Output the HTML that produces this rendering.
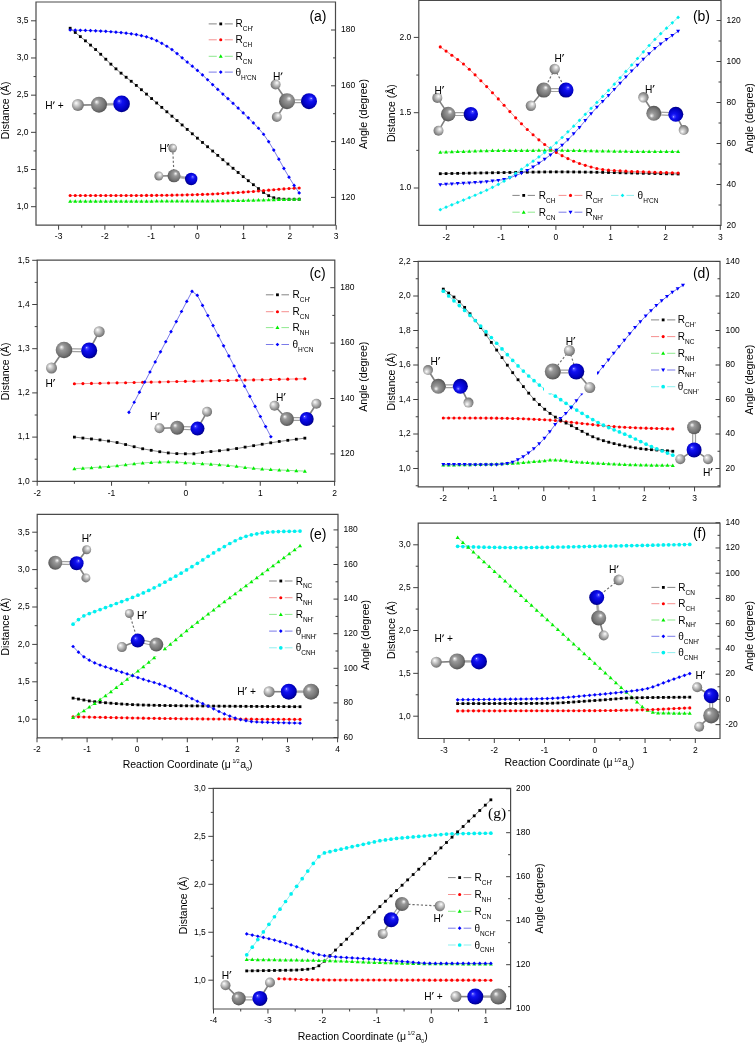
<!DOCTYPE html>
<html><head><meta charset="utf-8"><style>html,body{margin:0;padding:0;background:#fff;} svg{display:block;will-change:transform;}</style></head>
<body><svg width="756" height="1044" viewBox="0 0 756 1044" font-family='"Liberation Sans", sans-serif' fill="#000">
<defs><radialGradient id="gCul" cx="0.452" cy="0.446" r="0.6" fx="0.34" fy="0.32"><stop offset="0" stop-color="#ffffff"/><stop offset="0.1" stop-color="#d8d8d8"/><stop offset="0.28" stop-color="#9a9a9a"/><stop offset="0.72" stop-color="#747474"/><stop offset="1" stop-color="#4c4c4c"/></radialGradient><radialGradient id="gCur" cx="0.542" cy="0.446" r="0.6" fx="0.64" fy="0.32"><stop offset="0" stop-color="#ffffff"/><stop offset="0.1" stop-color="#d8d8d8"/><stop offset="0.28" stop-color="#9a9a9a"/><stop offset="0.72" stop-color="#747474"/><stop offset="1" stop-color="#4c4c4c"/></radialGradient><radialGradient id="gCll" cx="0.452" cy="0.554" r="0.6" fx="0.34" fy="0.68"><stop offset="0" stop-color="#ffffff"/><stop offset="0.1" stop-color="#d8d8d8"/><stop offset="0.28" stop-color="#9a9a9a"/><stop offset="0.72" stop-color="#747474"/><stop offset="1" stop-color="#4c4c4c"/></radialGradient><radialGradient id="gClr" cx="0.542" cy="0.554" r="0.6" fx="0.64" fy="0.68"><stop offset="0" stop-color="#ffffff"/><stop offset="0.1" stop-color="#d8d8d8"/><stop offset="0.28" stop-color="#9a9a9a"/><stop offset="0.72" stop-color="#747474"/><stop offset="1" stop-color="#4c4c4c"/></radialGradient><radialGradient id="gNul" cx="0.452" cy="0.446" r="0.6" fx="0.34" fy="0.32"><stop offset="0" stop-color="#e0e0ff"/><stop offset="0.1" stop-color="#4848ff"/><stop offset="0.3" stop-color="#1010f0"/><stop offset="0.75" stop-color="#0000c0"/><stop offset="1" stop-color="#000070"/></radialGradient><radialGradient id="gNur" cx="0.542" cy="0.446" r="0.6" fx="0.64" fy="0.32"><stop offset="0" stop-color="#e0e0ff"/><stop offset="0.1" stop-color="#4848ff"/><stop offset="0.3" stop-color="#1010f0"/><stop offset="0.75" stop-color="#0000c0"/><stop offset="1" stop-color="#000070"/></radialGradient><radialGradient id="gNll" cx="0.452" cy="0.554" r="0.6" fx="0.34" fy="0.68"><stop offset="0" stop-color="#e0e0ff"/><stop offset="0.1" stop-color="#4848ff"/><stop offset="0.3" stop-color="#1010f0"/><stop offset="0.75" stop-color="#0000c0"/><stop offset="1" stop-color="#000070"/></radialGradient><radialGradient id="gNlr" cx="0.542" cy="0.554" r="0.6" fx="0.64" fy="0.68"><stop offset="0" stop-color="#e0e0ff"/><stop offset="0.1" stop-color="#4848ff"/><stop offset="0.3" stop-color="#1010f0"/><stop offset="0.75" stop-color="#0000c0"/><stop offset="1" stop-color="#000070"/></radialGradient><radialGradient id="gHul" cx="0.452" cy="0.446" r="0.6" fx="0.34" fy="0.32"><stop offset="0" stop-color="#ffffff"/><stop offset="0.15" stop-color="#e8e8e8"/><stop offset="0.5" stop-color="#b4b4b4"/><stop offset="1" stop-color="#666666"/></radialGradient><radialGradient id="gHur" cx="0.542" cy="0.446" r="0.6" fx="0.64" fy="0.32"><stop offset="0" stop-color="#ffffff"/><stop offset="0.15" stop-color="#e8e8e8"/><stop offset="0.5" stop-color="#b4b4b4"/><stop offset="1" stop-color="#666666"/></radialGradient><radialGradient id="gHll" cx="0.452" cy="0.554" r="0.6" fx="0.34" fy="0.68"><stop offset="0" stop-color="#ffffff"/><stop offset="0.15" stop-color="#e8e8e8"/><stop offset="0.5" stop-color="#b4b4b4"/><stop offset="1" stop-color="#666666"/></radialGradient><radialGradient id="gHlr" cx="0.542" cy="0.554" r="0.6" fx="0.64" fy="0.68"><stop offset="0" stop-color="#ffffff"/><stop offset="0.15" stop-color="#e8e8e8"/><stop offset="0.5" stop-color="#b4b4b4"/><stop offset="1" stop-color="#666666"/></radialGradient></defs>
<rect width="756" height="1044" fill="#fff"/>
<path d="M36 2H335.5V225.2H36Z" fill="none" stroke="#4a4a4a" stroke-width="1.2"/>
<path d="M58.59 225.2v4.5M104.86 225.2v4.5M151.13 225.2v4.5M197.40 225.2v4.5M243.67 225.2v4.5M289.94 225.2v4.5M336.21 225.2v4.5M81.72 225.2v2.5M128.00 225.2v2.5M174.27 225.2v2.5M220.53 225.2v2.5M266.81 225.2v2.5M313.08 225.2v2.5M36 206.70h-5M36 169.52h-5M36 132.34h-5M36 95.16h-5M36 57.98h-5M36 20.80h-5M36 188.11h-2.5M36 150.93h-2.5M36 113.75h-2.5M36 76.57h-2.5M36 39.39h-2.5M335.5 197.40h-4.5M335.5 141.60h-4.5M335.5 85.80h-4.5M335.5 30.00h-4.5M335.5 169.50h-2.5M335.5 113.70h-2.5M335.5 57.90h-2.5" fill="none" stroke="#404040" stroke-width="1.0"/>
<text x="58.59" y="239.40" font-size="8.5" text-anchor="middle" >-3</text>
<text x="104.86" y="239.40" font-size="8.5" text-anchor="middle" >-2</text>
<text x="151.13" y="239.40" font-size="8.5" text-anchor="middle" >-1</text>
<text x="197.40" y="239.40" font-size="8.5" text-anchor="middle" >0</text>
<text x="243.67" y="239.40" font-size="8.5" text-anchor="middle" >1</text>
<text x="289.94" y="239.40" font-size="8.5" text-anchor="middle" >2</text>
<text x="336.21" y="239.40" font-size="8.5" text-anchor="middle" >3</text>
<text x="28.50" y="209.00" font-size="8.5" text-anchor="end" >1,0</text>
<text x="28.50" y="171.82" font-size="8.5" text-anchor="end" >1,5</text>
<text x="28.50" y="134.64" font-size="8.5" text-anchor="end" >2,0</text>
<text x="28.50" y="97.46" font-size="8.5" text-anchor="end" >2,5</text>
<text x="28.50" y="60.28" font-size="8.5" text-anchor="end" >3,0</text>
<text x="28.50" y="23.10" font-size="8.5" text-anchor="end" >3,5</text>
<text x="341.00" y="199.70" font-size="8.5" text-anchor="start" >120</text>
<text x="341.00" y="143.90" font-size="8.5" text-anchor="start" >140</text>
<text x="341.00" y="88.10" font-size="8.5" text-anchor="start" >160</text>
<text x="341.00" y="32.30" font-size="8.5" text-anchor="start" >180</text>
<text transform="translate(8.5,110.3) rotate(-90)" font-size="10.5" text-anchor="middle">Distance (&#197;)</text>
<text transform="translate(367.2,114) rotate(-90)" font-size="10.6" text-anchor="middle">Angle (degree)</text>
<path d="M70.16 28.24L75.25 32.46L80.34 36.64L85.43 40.84L90.52 45.12L95.61 49.55L100.70 54.27L105.79 59.22L110.88 64.16L115.96 68.85L121.05 73.16L126.14 77.25L131.23 81.27L136.32 85.41L141.41 89.72L146.50 94.12L151.59 98.56L156.68 102.99L161.77 107.38L166.86 111.78L171.95 116.17L177.04 120.57L182.13 124.97L187.22 129.39L192.31 133.79L197.40 138.16L202.49 142.46L207.58 146.75L212.67 151.06L217.76 155.38L222.85 159.70L227.94 164.00L233.03 168.27L238.12 172.48L243.21 176.64L248.30 180.71L253.39 184.69L258.48 188.57L263.57 192.47L268.66 195.69L273.75 197.75L278.84 198.72L283.92 199.24L289.01 199.26L294.10 199.26L299.19 199.26" fill="none" stroke="#505050" stroke-width="0.7"/>
<rect x="68.76" y="26.84" width="2.80" height="2.80" fill="#000000"/>
<rect x="73.85" y="31.06" width="2.80" height="2.80" fill="#000000"/>
<rect x="78.94" y="35.24" width="2.80" height="2.80" fill="#000000"/>
<rect x="84.03" y="39.44" width="2.80" height="2.80" fill="#000000"/>
<rect x="89.12" y="43.72" width="2.80" height="2.80" fill="#000000"/>
<rect x="94.21" y="48.15" width="2.80" height="2.80" fill="#000000"/>
<rect x="99.30" y="52.87" width="2.80" height="2.80" fill="#000000"/>
<rect x="104.39" y="57.82" width="2.80" height="2.80" fill="#000000"/>
<rect x="109.48" y="62.76" width="2.80" height="2.80" fill="#000000"/>
<rect x="114.56" y="67.45" width="2.80" height="2.80" fill="#000000"/>
<rect x="119.65" y="71.76" width="2.80" height="2.80" fill="#000000"/>
<rect x="124.74" y="75.85" width="2.80" height="2.80" fill="#000000"/>
<rect x="129.83" y="79.87" width="2.80" height="2.80" fill="#000000"/>
<rect x="134.92" y="84.01" width="2.80" height="2.80" fill="#000000"/>
<rect x="140.01" y="88.32" width="2.80" height="2.80" fill="#000000"/>
<rect x="145.10" y="92.72" width="2.80" height="2.80" fill="#000000"/>
<rect x="150.19" y="97.16" width="2.80" height="2.80" fill="#000000"/>
<rect x="155.28" y="101.59" width="2.80" height="2.80" fill="#000000"/>
<rect x="160.37" y="105.98" width="2.80" height="2.80" fill="#000000"/>
<rect x="165.46" y="110.38" width="2.80" height="2.80" fill="#000000"/>
<rect x="170.55" y="114.77" width="2.80" height="2.80" fill="#000000"/>
<rect x="175.64" y="119.17" width="2.80" height="2.80" fill="#000000"/>
<rect x="180.73" y="123.57" width="2.80" height="2.80" fill="#000000"/>
<rect x="185.82" y="127.99" width="2.80" height="2.80" fill="#000000"/>
<rect x="190.91" y="132.39" width="2.80" height="2.80" fill="#000000"/>
<rect x="196.00" y="136.76" width="2.80" height="2.80" fill="#000000"/>
<rect x="201.09" y="141.06" width="2.80" height="2.80" fill="#000000"/>
<rect x="206.18" y="145.35" width="2.80" height="2.80" fill="#000000"/>
<rect x="211.27" y="149.66" width="2.80" height="2.80" fill="#000000"/>
<rect x="216.36" y="153.98" width="2.80" height="2.80" fill="#000000"/>
<rect x="221.45" y="158.30" width="2.80" height="2.80" fill="#000000"/>
<rect x="226.54" y="162.60" width="2.80" height="2.80" fill="#000000"/>
<rect x="231.63" y="166.87" width="2.80" height="2.80" fill="#000000"/>
<rect x="236.72" y="171.08" width="2.80" height="2.80" fill="#000000"/>
<rect x="241.81" y="175.24" width="2.80" height="2.80" fill="#000000"/>
<rect x="246.90" y="179.31" width="2.80" height="2.80" fill="#000000"/>
<rect x="251.99" y="183.29" width="2.80" height="2.80" fill="#000000"/>
<rect x="257.08" y="187.17" width="2.80" height="2.80" fill="#000000"/>
<rect x="262.17" y="191.07" width="2.80" height="2.80" fill="#000000"/>
<rect x="267.26" y="194.29" width="2.80" height="2.80" fill="#000000"/>
<rect x="272.35" y="196.35" width="2.80" height="2.80" fill="#000000"/>
<rect x="277.44" y="197.32" width="2.80" height="2.80" fill="#000000"/>
<rect x="282.52" y="197.84" width="2.80" height="2.80" fill="#000000"/>
<rect x="287.61" y="197.86" width="2.80" height="2.80" fill="#000000"/>
<rect x="292.70" y="197.86" width="2.80" height="2.80" fill="#000000"/>
<rect x="297.79" y="197.86" width="2.80" height="2.80" fill="#000000"/>
<path d="M70.16 195.55L75.25 195.54L80.34 195.53L85.43 195.52L90.52 195.52L95.61 195.51L100.70 195.50L105.79 195.50L110.88 195.49L115.96 195.48L121.05 195.47L126.14 195.46L131.23 195.45L136.32 195.44L141.41 195.43L146.50 195.41L151.59 195.40L156.68 195.36L161.77 195.31L166.86 195.25L171.95 195.16L177.04 195.07L182.13 194.96L187.22 194.84L192.31 194.71L197.40 194.58L202.49 194.42L207.58 194.22L212.67 193.99L217.76 193.72L222.85 193.43L227.94 193.12L233.03 192.81L238.12 192.48L243.21 192.15L248.30 191.81L253.39 191.43L258.48 191.01L263.57 190.58L268.66 190.14L273.75 189.71L278.84 189.29L283.92 188.90L289.01 188.54L294.10 188.24L299.19 187.96" fill="none" stroke="#f06060" stroke-width="0.7"/>
<circle cx="70.16" cy="195.55" r="1.55" fill="#ff0000"/>
<circle cx="75.25" cy="195.54" r="1.55" fill="#ff0000"/>
<circle cx="80.34" cy="195.53" r="1.55" fill="#ff0000"/>
<circle cx="85.43" cy="195.52" r="1.55" fill="#ff0000"/>
<circle cx="90.52" cy="195.52" r="1.55" fill="#ff0000"/>
<circle cx="95.61" cy="195.51" r="1.55" fill="#ff0000"/>
<circle cx="100.70" cy="195.50" r="1.55" fill="#ff0000"/>
<circle cx="105.79" cy="195.50" r="1.55" fill="#ff0000"/>
<circle cx="110.88" cy="195.49" r="1.55" fill="#ff0000"/>
<circle cx="115.96" cy="195.48" r="1.55" fill="#ff0000"/>
<circle cx="121.05" cy="195.47" r="1.55" fill="#ff0000"/>
<circle cx="126.14" cy="195.46" r="1.55" fill="#ff0000"/>
<circle cx="131.23" cy="195.45" r="1.55" fill="#ff0000"/>
<circle cx="136.32" cy="195.44" r="1.55" fill="#ff0000"/>
<circle cx="141.41" cy="195.43" r="1.55" fill="#ff0000"/>
<circle cx="146.50" cy="195.41" r="1.55" fill="#ff0000"/>
<circle cx="151.59" cy="195.40" r="1.55" fill="#ff0000"/>
<circle cx="156.68" cy="195.36" r="1.55" fill="#ff0000"/>
<circle cx="161.77" cy="195.31" r="1.55" fill="#ff0000"/>
<circle cx="166.86" cy="195.25" r="1.55" fill="#ff0000"/>
<circle cx="171.95" cy="195.16" r="1.55" fill="#ff0000"/>
<circle cx="177.04" cy="195.07" r="1.55" fill="#ff0000"/>
<circle cx="182.13" cy="194.96" r="1.55" fill="#ff0000"/>
<circle cx="187.22" cy="194.84" r="1.55" fill="#ff0000"/>
<circle cx="192.31" cy="194.71" r="1.55" fill="#ff0000"/>
<circle cx="197.40" cy="194.58" r="1.55" fill="#ff0000"/>
<circle cx="202.49" cy="194.42" r="1.55" fill="#ff0000"/>
<circle cx="207.58" cy="194.22" r="1.55" fill="#ff0000"/>
<circle cx="212.67" cy="193.99" r="1.55" fill="#ff0000"/>
<circle cx="217.76" cy="193.72" r="1.55" fill="#ff0000"/>
<circle cx="222.85" cy="193.43" r="1.55" fill="#ff0000"/>
<circle cx="227.94" cy="193.12" r="1.55" fill="#ff0000"/>
<circle cx="233.03" cy="192.81" r="1.55" fill="#ff0000"/>
<circle cx="238.12" cy="192.48" r="1.55" fill="#ff0000"/>
<circle cx="243.21" cy="192.15" r="1.55" fill="#ff0000"/>
<circle cx="248.30" cy="191.81" r="1.55" fill="#ff0000"/>
<circle cx="253.39" cy="191.43" r="1.55" fill="#ff0000"/>
<circle cx="258.48" cy="191.01" r="1.55" fill="#ff0000"/>
<circle cx="263.57" cy="190.58" r="1.55" fill="#ff0000"/>
<circle cx="268.66" cy="190.14" r="1.55" fill="#ff0000"/>
<circle cx="273.75" cy="189.71" r="1.55" fill="#ff0000"/>
<circle cx="278.84" cy="189.29" r="1.55" fill="#ff0000"/>
<circle cx="283.92" cy="188.90" r="1.55" fill="#ff0000"/>
<circle cx="289.01" cy="188.54" r="1.55" fill="#ff0000"/>
<circle cx="294.10" cy="188.24" r="1.55" fill="#ff0000"/>
<circle cx="299.19" cy="187.96" r="1.55" fill="#ff0000"/>
<path d="M70.16 201.20L75.25 201.19L80.34 201.19L85.43 201.18L90.52 201.18L95.61 201.17L100.70 201.17L105.79 201.17L110.88 201.16L115.96 201.16L121.05 201.15L126.14 201.15L131.23 201.15L136.32 201.14L141.41 201.14L146.50 201.13L151.59 201.13L156.68 201.12L161.77 201.11L166.86 201.11L171.95 201.10L177.04 201.09L182.13 201.08L187.22 201.07L192.31 201.06L197.40 201.05L202.49 201.02L207.58 200.98L212.67 200.92L217.76 200.85L222.85 200.76L227.94 200.67L233.03 200.58L238.12 200.48L243.21 200.39L248.30 200.29L253.39 200.19L258.48 200.08L263.57 199.97L268.66 199.85L273.75 199.73L278.84 199.60L283.92 199.48L289.01 199.35L294.10 199.23L299.19 199.12" fill="none" stroke="#60e060" stroke-width="0.7"/>
<path d="M70.16 199.20L72.16 202.70L68.16 202.70Z" fill="#00ee00"/>
<path d="M75.25 199.19L77.25 202.69L73.25 202.69Z" fill="#00ee00"/>
<path d="M80.34 199.19L82.34 202.69L78.34 202.69Z" fill="#00ee00"/>
<path d="M85.43 199.18L87.43 202.68L83.43 202.68Z" fill="#00ee00"/>
<path d="M90.52 199.18L92.52 202.68L88.52 202.68Z" fill="#00ee00"/>
<path d="M95.61 199.17L97.61 202.67L93.61 202.67Z" fill="#00ee00"/>
<path d="M100.70 199.17L102.70 202.67L98.70 202.67Z" fill="#00ee00"/>
<path d="M105.79 199.17L107.79 202.67L103.79 202.67Z" fill="#00ee00"/>
<path d="M110.88 199.16L112.88 202.66L108.88 202.66Z" fill="#00ee00"/>
<path d="M115.96 199.16L117.96 202.66L113.96 202.66Z" fill="#00ee00"/>
<path d="M121.05 199.15L123.05 202.65L119.05 202.65Z" fill="#00ee00"/>
<path d="M126.14 199.15L128.14 202.65L124.14 202.65Z" fill="#00ee00"/>
<path d="M131.23 199.15L133.23 202.65L129.23 202.65Z" fill="#00ee00"/>
<path d="M136.32 199.14L138.32 202.64L134.32 202.64Z" fill="#00ee00"/>
<path d="M141.41 199.14L143.41 202.64L139.41 202.64Z" fill="#00ee00"/>
<path d="M146.50 199.13L148.50 202.63L144.50 202.63Z" fill="#00ee00"/>
<path d="M151.59 199.13L153.59 202.63L149.59 202.63Z" fill="#00ee00"/>
<path d="M156.68 199.12L158.68 202.62L154.68 202.62Z" fill="#00ee00"/>
<path d="M161.77 199.11L163.77 202.61L159.77 202.61Z" fill="#00ee00"/>
<path d="M166.86 199.11L168.86 202.61L164.86 202.61Z" fill="#00ee00"/>
<path d="M171.95 199.10L173.95 202.60L169.95 202.60Z" fill="#00ee00"/>
<path d="M177.04 199.09L179.04 202.59L175.04 202.59Z" fill="#00ee00"/>
<path d="M182.13 199.08L184.13 202.58L180.13 202.58Z" fill="#00ee00"/>
<path d="M187.22 199.07L189.22 202.57L185.22 202.57Z" fill="#00ee00"/>
<path d="M192.31 199.06L194.31 202.56L190.31 202.56Z" fill="#00ee00"/>
<path d="M197.40 199.05L199.40 202.55L195.40 202.55Z" fill="#00ee00"/>
<path d="M202.49 199.02L204.49 202.52L200.49 202.52Z" fill="#00ee00"/>
<path d="M207.58 198.98L209.58 202.48L205.58 202.48Z" fill="#00ee00"/>
<path d="M212.67 198.92L214.67 202.42L210.67 202.42Z" fill="#00ee00"/>
<path d="M217.76 198.85L219.76 202.35L215.76 202.35Z" fill="#00ee00"/>
<path d="M222.85 198.76L224.85 202.26L220.85 202.26Z" fill="#00ee00"/>
<path d="M227.94 198.67L229.94 202.17L225.94 202.17Z" fill="#00ee00"/>
<path d="M233.03 198.58L235.03 202.08L231.03 202.08Z" fill="#00ee00"/>
<path d="M238.12 198.48L240.12 201.98L236.12 201.98Z" fill="#00ee00"/>
<path d="M243.21 198.39L245.21 201.89L241.21 201.89Z" fill="#00ee00"/>
<path d="M248.30 198.29L250.30 201.79L246.30 201.79Z" fill="#00ee00"/>
<path d="M253.39 198.19L255.39 201.69L251.39 201.69Z" fill="#00ee00"/>
<path d="M258.48 198.08L260.48 201.58L256.48 201.58Z" fill="#00ee00"/>
<path d="M263.57 197.97L265.57 201.47L261.57 201.47Z" fill="#00ee00"/>
<path d="M268.66 197.85L270.66 201.35L266.66 201.35Z" fill="#00ee00"/>
<path d="M273.75 197.73L275.75 201.23L271.75 201.23Z" fill="#00ee00"/>
<path d="M278.84 197.60L280.84 201.10L276.84 201.10Z" fill="#00ee00"/>
<path d="M283.92 197.48L285.92 200.98L281.92 200.98Z" fill="#00ee00"/>
<path d="M289.01 197.35L291.01 200.85L287.01 200.85Z" fill="#00ee00"/>
<path d="M294.10 197.23L296.10 200.73L292.10 200.73Z" fill="#00ee00"/>
<path d="M299.19 197.12L301.19 200.62L297.19 200.62Z" fill="#00ee00"/>
<path d="M70.16 30.00L75.25 30.16L80.34 30.30L85.43 30.45L90.52 30.62L95.61 30.82L100.70 31.07L105.79 31.37L110.88 31.73L115.96 32.13L121.05 32.60L126.14 33.13L131.23 33.79L136.32 34.62L141.41 35.64L146.50 36.87L151.59 38.50L156.68 40.72L161.77 43.37L166.86 46.27L171.95 49.61L177.04 53.58L182.13 57.85L187.22 62.09L192.31 66.22L197.40 70.45L202.49 74.89L207.58 79.74L212.67 84.67L217.76 89.42L222.85 94.10L227.94 98.70L233.03 103.31L238.12 108.04L243.21 112.88L248.30 117.82L253.39 122.97L258.48 128.24L263.57 134.23L268.66 141.71L273.75 150.06L278.84 159.20L283.92 168.40L289.01 177.19L294.10 185.44L299.19 192.94" fill="none" stroke="#4040e0" stroke-width="0.7"/>
<path d="M70.16 28.15L72.01 30.00L70.16 31.85L68.31 30.00Z" fill="#0000ff"/>
<path d="M75.25 28.31L77.10 30.16L75.25 32.01L73.40 30.16Z" fill="#0000ff"/>
<path d="M80.34 28.45L82.19 30.30L80.34 32.15L78.49 30.30Z" fill="#0000ff"/>
<path d="M85.43 28.60L87.28 30.45L85.43 32.30L83.58 30.45Z" fill="#0000ff"/>
<path d="M90.52 28.77L92.37 30.62L90.52 32.47L88.67 30.62Z" fill="#0000ff"/>
<path d="M95.61 28.97L97.46 30.82L95.61 32.67L93.76 30.82Z" fill="#0000ff"/>
<path d="M100.70 29.22L102.55 31.07L100.70 32.92L98.85 31.07Z" fill="#0000ff"/>
<path d="M105.79 29.52L107.64 31.37L105.79 33.22L103.94 31.37Z" fill="#0000ff"/>
<path d="M110.88 29.88L112.73 31.73L110.88 33.58L109.03 31.73Z" fill="#0000ff"/>
<path d="M115.96 30.28L117.81 32.13L115.96 33.98L114.11 32.13Z" fill="#0000ff"/>
<path d="M121.05 30.75L122.90 32.60L121.05 34.45L119.20 32.60Z" fill="#0000ff"/>
<path d="M126.14 31.28L127.99 33.13L126.14 34.98L124.29 33.13Z" fill="#0000ff"/>
<path d="M131.23 31.94L133.08 33.79L131.23 35.64L129.38 33.79Z" fill="#0000ff"/>
<path d="M136.32 32.77L138.17 34.62L136.32 36.47L134.47 34.62Z" fill="#0000ff"/>
<path d="M141.41 33.79L143.26 35.64L141.41 37.49L139.56 35.64Z" fill="#0000ff"/>
<path d="M146.50 35.02L148.35 36.87L146.50 38.72L144.65 36.87Z" fill="#0000ff"/>
<path d="M151.59 36.65L153.44 38.50L151.59 40.35L149.74 38.50Z" fill="#0000ff"/>
<path d="M156.68 38.87L158.53 40.72L156.68 42.57L154.83 40.72Z" fill="#0000ff"/>
<path d="M161.77 41.52L163.62 43.37L161.77 45.22L159.92 43.37Z" fill="#0000ff"/>
<path d="M166.86 44.42L168.71 46.27L166.86 48.12L165.01 46.27Z" fill="#0000ff"/>
<path d="M171.95 47.76L173.80 49.61L171.95 51.46L170.10 49.61Z" fill="#0000ff"/>
<path d="M177.04 51.73L178.89 53.58L177.04 55.43L175.19 53.58Z" fill="#0000ff"/>
<path d="M182.13 56.00L183.98 57.85L182.13 59.70L180.28 57.85Z" fill="#0000ff"/>
<path d="M187.22 60.23L189.07 62.09L187.22 63.94L185.37 62.09Z" fill="#0000ff"/>
<path d="M192.31 64.37L194.16 66.22L192.31 68.07L190.46 66.22Z" fill="#0000ff"/>
<path d="M197.40 68.60L199.25 70.45L197.40 72.30L195.55 70.45Z" fill="#0000ff"/>
<path d="M202.49 73.04L204.34 74.89L202.49 76.74L200.64 74.89Z" fill="#0000ff"/>
<path d="M207.58 77.89L209.43 79.74L207.58 81.59L205.73 79.74Z" fill="#0000ff"/>
<path d="M212.67 82.82L214.52 84.67L212.67 86.52L210.82 84.67Z" fill="#0000ff"/>
<path d="M217.76 87.57L219.61 89.42L217.76 91.27L215.91 89.42Z" fill="#0000ff"/>
<path d="M222.85 92.25L224.70 94.10L222.85 95.95L221.00 94.10Z" fill="#0000ff"/>
<path d="M227.94 96.85L229.79 98.70L227.94 100.55L226.09 98.70Z" fill="#0000ff"/>
<path d="M233.03 101.46L234.88 103.31L233.03 105.16L231.18 103.31Z" fill="#0000ff"/>
<path d="M238.12 106.19L239.97 108.04L238.12 109.89L236.27 108.04Z" fill="#0000ff"/>
<path d="M243.21 111.03L245.06 112.88L243.21 114.73L241.36 112.88Z" fill="#0000ff"/>
<path d="M248.30 115.97L250.15 117.82L248.30 119.67L246.45 117.82Z" fill="#0000ff"/>
<path d="M253.39 121.12L255.24 122.97L253.39 124.82L251.54 122.97Z" fill="#0000ff"/>
<path d="M258.48 126.39L260.33 128.24L258.48 130.09L256.63 128.24Z" fill="#0000ff"/>
<path d="M263.57 132.38L265.42 134.23L263.57 136.08L261.72 134.23Z" fill="#0000ff"/>
<path d="M268.66 139.86L270.51 141.71L268.66 143.56L266.81 141.71Z" fill="#0000ff"/>
<path d="M273.75 148.21L275.60 150.06L273.75 151.91L271.90 150.06Z" fill="#0000ff"/>
<path d="M278.84 157.35L280.69 159.20L278.84 161.05L276.99 159.20Z" fill="#0000ff"/>
<path d="M283.92 166.55L285.77 168.40L283.92 170.25L282.07 168.40Z" fill="#0000ff"/>
<path d="M289.01 175.34L290.86 177.19L289.01 179.04L287.16 177.19Z" fill="#0000ff"/>
<path d="M294.10 183.59L295.95 185.44L294.10 187.29L292.25 185.44Z" fill="#0000ff"/>
<path d="M299.19 191.09L301.04 192.94L299.19 194.79L297.34 192.94Z" fill="#0000ff"/>
<path d="M208.7 23.9H216.75M224.75 23.9H232.8" stroke="#505050" stroke-width="0.7"/>
<rect x="219.35" y="22.50" width="2.80" height="2.80" fill="#000000"/>
<text x="235.5" y="27.4" font-size="10">R<tspan font-size="6.5" dy="3.9">CH'</tspan></text>
<path d="M208.7 39.8H216.75M224.75 39.8H232.8" stroke="#f06060" stroke-width="0.7"/>
<circle cx="220.75" cy="39.80" r="1.55" fill="#ff0000"/>
<text x="235.5" y="43.3" font-size="10">R<tspan font-size="6.5" dy="3.9">CH</tspan></text>
<path d="M208.7 56.3H216.75M224.75 56.3H232.8" stroke="#60e060" stroke-width="0.7"/>
<path d="M220.75 54.30L222.75 57.80L218.75 57.80Z" fill="#00ee00"/>
<text x="235.5" y="59.8" font-size="10">R<tspan font-size="6.5" dy="3.9">CN</tspan></text>
<path d="M208.7 72.1H216.75M224.75 72.1H232.8" stroke="#4040e0" stroke-width="0.7"/>
<path d="M220.75 70.25L222.60 72.10L220.75 73.95L218.90 72.10Z" fill="#0000ff"/>
<text x="235.5" y="75.6" font-size="10">&#952;<tspan font-size="6.5" dy="3.9">H'CN</tspan></text>
<text x="309.40" y="20.50" font-size="14" text-anchor="start" >(a)</text>
<path d="M77.9 105.1L99 104.7" stroke="#808080" stroke-width="1.6"/>
<path d="M99 104.7L121.6 103.9" stroke="#b8b8b8" stroke-width="2.8"/><path d="M99 104.7L121.6 103.9" stroke="#9a9a9a" stroke-width="0.8"/>
<circle cx="77.9" cy="105.1" r="6" fill="url(#gHul)"/>
<circle cx="99.0" cy="104.7" r="8" fill="url(#gCul)"/>
<circle cx="121.6" cy="103.9" r="8.3" fill="url(#gNul)"/>
<text x="45.20" y="109.30" font-size="10.2" text-anchor="start" >H</text>
<path d="M53.55 101.58L54.95 101.58L53.45 104.28L52.75 104.28Z" fill="#111"/>
<text x="57.80" y="109.30" font-size="10.2" text-anchor="start" >+</text>
<path d="M275.6 84.5L287 101.2" stroke="#808080" stroke-width="1.6"/>
<path d="M287.0 102.6L309.0 102.6M287.0 99.8L309.0 99.8" stroke="#a0a0a0" stroke-width="1.2"/>
<path d="M287 101.2L276.8 117" stroke="#808080" stroke-width="1.6"/>
<circle cx="275.6" cy="84.5" r="5" fill="url(#gHur)"/>
<circle cx="287.0" cy="101.2" r="8" fill="url(#gCur)"/>
<circle cx="309.0" cy="101.2" r="8" fill="url(#gNur)"/>
<circle cx="276.8" cy="117.0" r="5" fill="url(#gHur)"/>
<text x="273.00" y="80.30" font-size="10.2" text-anchor="start" >H</text>
<path d="M281.35 72.58L282.75 72.58L281.25 75.28L280.55 75.28Z" fill="#111"/>
<path d="M172.7 148.1L174 175.8" stroke="#6c6c6c" stroke-width="1.15" stroke-dasharray="2.2 2"/>
<path d="M158.8 176L174 175.8" stroke="#808080" stroke-width="1.6"/>
<path d="M174 175.8L191.2 179" stroke="#b8b8b8" stroke-width="2.8"/><path d="M174 175.8L191.2 179" stroke="#9a9a9a" stroke-width="0.8"/>
<circle cx="172.7" cy="148.1" r="4.3" fill="url(#gHur)"/>
<circle cx="174.0" cy="175.8" r="6.5" fill="url(#gCur)"/>
<circle cx="158.8" cy="176.0" r="4.5" fill="url(#gHur)"/>
<circle cx="191.2" cy="179.0" r="6.2" fill="url(#gNur)"/>
<text x="159.50" y="151.80" font-size="10.2" text-anchor="start" >H</text>
<path d="M167.85 144.08L169.25 144.08L167.75 146.78L167.05 146.78Z" fill="#111"/>
<path d="M418.8 0.5H721V225.4H418.8Z" fill="none" stroke="#4a4a4a" stroke-width="1.2"/>
<path d="M446.30 225.4v4.5M501.10 225.4v4.5M555.90 225.4v4.5M610.70 225.4v4.5M665.50 225.4v4.5M720.30 225.4v4.5M473.70 225.4v2.5M528.50 225.4v2.5M583.30 225.4v2.5M638.10 225.4v2.5M692.90 225.4v2.5M418.8 188.00h-5M418.8 112.70h-5M418.8 37.40h-5M418.8 150.35h-2.5M418.8 75.05h-2.5M721 225.50h-4.5M721 184.50h-4.5M721 143.50h-4.5M721 102.50h-4.5M721 61.50h-4.5M721 20.50h-4.5M721 205.00h-2.5M721 164.00h-2.5M721 123.00h-2.5M721 82.00h-2.5M721 41.00h-2.5" fill="none" stroke="#404040" stroke-width="1.0"/>
<text x="446.30" y="239.60" font-size="8.5" text-anchor="middle" >-2</text>
<text x="501.10" y="239.60" font-size="8.5" text-anchor="middle" >-1</text>
<text x="555.90" y="239.60" font-size="8.5" text-anchor="middle" >0</text>
<text x="610.70" y="239.60" font-size="8.5" text-anchor="middle" >1</text>
<text x="665.50" y="239.60" font-size="8.5" text-anchor="middle" >2</text>
<text x="720.30" y="239.60" font-size="8.5" text-anchor="middle" >3</text>
<text x="411.30" y="190.30" font-size="8.5" text-anchor="end" >1.0</text>
<text x="411.30" y="115.00" font-size="8.5" text-anchor="end" >1.5</text>
<text x="411.30" y="39.70" font-size="8.5" text-anchor="end" >2.0</text>
<text x="726.50" y="227.80" font-size="8.5" text-anchor="start" >20</text>
<text x="726.50" y="186.80" font-size="8.5" text-anchor="start" >40</text>
<text x="726.50" y="145.80" font-size="8.5" text-anchor="start" >60</text>
<text x="726.50" y="104.80" font-size="8.5" text-anchor="start" >80</text>
<text x="726.50" y="63.80" font-size="8.5" text-anchor="start" >100</text>
<text x="726.50" y="22.80" font-size="8.5" text-anchor="start" >120</text>
<text transform="translate(394.5,113.2) rotate(-90)" font-size="10.5" text-anchor="middle">Distance (&#197;)</text>
<text transform="translate(752.6,118.2) rotate(-90)" font-size="10.6" text-anchor="middle">Angle (degree)</text>
<path d="M440.27 173.69L446.07 173.59L451.87 173.49L457.67 173.38L463.48 173.28L469.28 173.17L475.08 173.06L480.88 172.96L486.68 172.85L492.48 172.75L498.28 172.65L504.08 172.55L509.88 172.46L515.68 172.37L521.48 172.28L527.28 172.20L533.08 172.12L538.89 172.04L544.69 171.96L550.49 171.91L556.29 171.89L562.09 171.90L567.89 171.92L573.69 171.97L579.49 172.03L585.29 172.10L591.09 172.19L596.89 172.28L602.69 172.39L608.49 172.50L614.30 172.62L620.10 172.74L625.90 172.87L631.70 173.00L637.50 173.14L643.30 173.27L649.10 173.40L654.90 173.53L660.70 173.66L666.50 173.78L672.30 173.89L678.10 173.99" fill="none" stroke="#505050" stroke-width="0.7"/>
<rect x="438.87" y="172.29" width="2.80" height="2.80" fill="#000000"/>
<rect x="444.67" y="172.19" width="2.80" height="2.80" fill="#000000"/>
<rect x="450.47" y="172.09" width="2.80" height="2.80" fill="#000000"/>
<rect x="456.27" y="171.98" width="2.80" height="2.80" fill="#000000"/>
<rect x="462.08" y="171.88" width="2.80" height="2.80" fill="#000000"/>
<rect x="467.88" y="171.77" width="2.80" height="2.80" fill="#000000"/>
<rect x="473.68" y="171.66" width="2.80" height="2.80" fill="#000000"/>
<rect x="479.48" y="171.56" width="2.80" height="2.80" fill="#000000"/>
<rect x="485.28" y="171.45" width="2.80" height="2.80" fill="#000000"/>
<rect x="491.08" y="171.35" width="2.80" height="2.80" fill="#000000"/>
<rect x="496.88" y="171.25" width="2.80" height="2.80" fill="#000000"/>
<rect x="502.68" y="171.15" width="2.80" height="2.80" fill="#000000"/>
<rect x="508.48" y="171.06" width="2.80" height="2.80" fill="#000000"/>
<rect x="514.28" y="170.97" width="2.80" height="2.80" fill="#000000"/>
<rect x="520.08" y="170.88" width="2.80" height="2.80" fill="#000000"/>
<rect x="525.88" y="170.80" width="2.80" height="2.80" fill="#000000"/>
<rect x="531.68" y="170.72" width="2.80" height="2.80" fill="#000000"/>
<rect x="537.49" y="170.64" width="2.80" height="2.80" fill="#000000"/>
<rect x="543.29" y="170.56" width="2.80" height="2.80" fill="#000000"/>
<rect x="549.09" y="170.51" width="2.80" height="2.80" fill="#000000"/>
<rect x="554.89" y="170.49" width="2.80" height="2.80" fill="#000000"/>
<rect x="560.69" y="170.50" width="2.80" height="2.80" fill="#000000"/>
<rect x="566.49" y="170.52" width="2.80" height="2.80" fill="#000000"/>
<rect x="572.29" y="170.57" width="2.80" height="2.80" fill="#000000"/>
<rect x="578.09" y="170.63" width="2.80" height="2.80" fill="#000000"/>
<rect x="583.89" y="170.70" width="2.80" height="2.80" fill="#000000"/>
<rect x="589.69" y="170.79" width="2.80" height="2.80" fill="#000000"/>
<rect x="595.49" y="170.88" width="2.80" height="2.80" fill="#000000"/>
<rect x="601.29" y="170.99" width="2.80" height="2.80" fill="#000000"/>
<rect x="607.09" y="171.10" width="2.80" height="2.80" fill="#000000"/>
<rect x="612.90" y="171.22" width="2.80" height="2.80" fill="#000000"/>
<rect x="618.70" y="171.34" width="2.80" height="2.80" fill="#000000"/>
<rect x="624.50" y="171.47" width="2.80" height="2.80" fill="#000000"/>
<rect x="630.30" y="171.60" width="2.80" height="2.80" fill="#000000"/>
<rect x="636.10" y="171.74" width="2.80" height="2.80" fill="#000000"/>
<rect x="641.90" y="171.87" width="2.80" height="2.80" fill="#000000"/>
<rect x="647.70" y="172.00" width="2.80" height="2.80" fill="#000000"/>
<rect x="653.50" y="172.13" width="2.80" height="2.80" fill="#000000"/>
<rect x="659.30" y="172.26" width="2.80" height="2.80" fill="#000000"/>
<rect x="665.10" y="172.38" width="2.80" height="2.80" fill="#000000"/>
<rect x="670.90" y="172.49" width="2.80" height="2.80" fill="#000000"/>
<rect x="676.70" y="172.59" width="2.80" height="2.80" fill="#000000"/>
<path d="M440.27 152.16L446.07 151.99L451.87 151.80L457.67 151.60L463.48 151.40L469.28 151.21L475.08 151.02L480.88 150.85L486.68 150.71L492.48 150.59L498.28 150.52L504.08 150.49L509.88 150.46L515.68 150.44L521.48 150.41L527.28 150.40L533.08 150.38L538.89 150.37L544.69 150.36L550.49 150.35L556.29 150.35L562.09 150.37L567.89 150.41L573.69 150.48L579.49 150.56L585.29 150.66L591.09 150.77L596.89 150.88L602.69 150.99L608.49 151.10L614.30 151.20L620.10 151.28L625.90 151.35L631.70 151.40L637.50 151.43L643.30 151.45L649.10 151.47L654.90 151.49L660.70 151.50L666.50 151.52L672.30 151.54L678.10 151.55" fill="none" stroke="#60e060" stroke-width="0.7"/>
<path d="M440.27 150.16L442.27 153.66L438.27 153.66Z" fill="#00ee00"/>
<path d="M446.07 149.99L448.07 153.49L444.07 153.49Z" fill="#00ee00"/>
<path d="M451.87 149.80L453.87 153.30L449.87 153.30Z" fill="#00ee00"/>
<path d="M457.67 149.60L459.67 153.10L455.67 153.10Z" fill="#00ee00"/>
<path d="M463.48 149.40L465.48 152.90L461.48 152.90Z" fill="#00ee00"/>
<path d="M469.28 149.21L471.28 152.71L467.28 152.71Z" fill="#00ee00"/>
<path d="M475.08 149.02L477.08 152.52L473.08 152.52Z" fill="#00ee00"/>
<path d="M480.88 148.85L482.88 152.35L478.88 152.35Z" fill="#00ee00"/>
<path d="M486.68 148.71L488.68 152.21L484.68 152.21Z" fill="#00ee00"/>
<path d="M492.48 148.59L494.48 152.09L490.48 152.09Z" fill="#00ee00"/>
<path d="M498.28 148.52L500.28 152.02L496.28 152.02Z" fill="#00ee00"/>
<path d="M504.08 148.49L506.08 151.99L502.08 151.99Z" fill="#00ee00"/>
<path d="M509.88 148.46L511.88 151.96L507.88 151.96Z" fill="#00ee00"/>
<path d="M515.68 148.44L517.68 151.94L513.68 151.94Z" fill="#00ee00"/>
<path d="M521.48 148.41L523.48 151.91L519.48 151.91Z" fill="#00ee00"/>
<path d="M527.28 148.40L529.28 151.90L525.28 151.90Z" fill="#00ee00"/>
<path d="M533.08 148.38L535.08 151.88L531.08 151.88Z" fill="#00ee00"/>
<path d="M538.89 148.37L540.89 151.87L536.89 151.87Z" fill="#00ee00"/>
<path d="M544.69 148.36L546.69 151.86L542.69 151.86Z" fill="#00ee00"/>
<path d="M550.49 148.35L552.49 151.85L548.49 151.85Z" fill="#00ee00"/>
<path d="M556.29 148.35L558.29 151.85L554.29 151.85Z" fill="#00ee00"/>
<path d="M562.09 148.37L564.09 151.87L560.09 151.87Z" fill="#00ee00"/>
<path d="M567.89 148.41L569.89 151.91L565.89 151.91Z" fill="#00ee00"/>
<path d="M573.69 148.48L575.69 151.98L571.69 151.98Z" fill="#00ee00"/>
<path d="M579.49 148.56L581.49 152.06L577.49 152.06Z" fill="#00ee00"/>
<path d="M585.29 148.66L587.29 152.16L583.29 152.16Z" fill="#00ee00"/>
<path d="M591.09 148.77L593.09 152.27L589.09 152.27Z" fill="#00ee00"/>
<path d="M596.89 148.88L598.89 152.38L594.89 152.38Z" fill="#00ee00"/>
<path d="M602.69 148.99L604.69 152.49L600.69 152.49Z" fill="#00ee00"/>
<path d="M608.49 149.10L610.49 152.60L606.49 152.60Z" fill="#00ee00"/>
<path d="M614.30 149.20L616.30 152.70L612.30 152.70Z" fill="#00ee00"/>
<path d="M620.10 149.28L622.10 152.78L618.10 152.78Z" fill="#00ee00"/>
<path d="M625.90 149.35L627.90 152.85L623.90 152.85Z" fill="#00ee00"/>
<path d="M631.70 149.40L633.70 152.90L629.70 152.90Z" fill="#00ee00"/>
<path d="M637.50 149.43L639.50 152.93L635.50 152.93Z" fill="#00ee00"/>
<path d="M643.30 149.45L645.30 152.95L641.30 152.95Z" fill="#00ee00"/>
<path d="M649.10 149.47L651.10 152.97L647.10 152.97Z" fill="#00ee00"/>
<path d="M654.90 149.49L656.90 152.99L652.90 152.99Z" fill="#00ee00"/>
<path d="M660.70 149.50L662.70 153.00L658.70 153.00Z" fill="#00ee00"/>
<path d="M666.50 149.52L668.50 153.02L664.50 153.02Z" fill="#00ee00"/>
<path d="M672.30 149.54L674.30 153.04L670.30 153.04Z" fill="#00ee00"/>
<path d="M678.10 149.55L680.10 153.05L676.10 153.05Z" fill="#00ee00"/>
<path d="M440.27 46.89L446.07 51.09L451.87 55.27L457.67 59.49L463.48 64.06L469.28 69.22L475.08 74.86L480.88 80.68L486.68 86.61L492.48 92.72L498.28 98.90L504.08 105.22L509.88 111.62L515.68 117.83L521.48 123.81L527.28 129.46L533.08 134.74L538.89 139.83L544.69 144.55L550.49 148.74L556.29 152.40L562.09 155.67L567.89 158.60L573.69 161.22L579.49 163.46L585.29 165.34L591.09 166.95L596.89 168.48L602.69 169.61L608.49 170.15L614.30 170.53L620.10 170.87L625.90 171.17L631.70 171.43L637.50 171.65L643.30 171.86L649.10 172.05L654.90 172.23L660.70 172.41L666.50 172.58L672.30 172.76L678.10 172.94" fill="none" stroke="#f06060" stroke-width="0.7"/>
<circle cx="440.27" cy="46.89" r="1.55" fill="#ff0000"/>
<circle cx="446.07" cy="51.09" r="1.55" fill="#ff0000"/>
<circle cx="451.87" cy="55.27" r="1.55" fill="#ff0000"/>
<circle cx="457.67" cy="59.49" r="1.55" fill="#ff0000"/>
<circle cx="463.48" cy="64.06" r="1.55" fill="#ff0000"/>
<circle cx="469.28" cy="69.22" r="1.55" fill="#ff0000"/>
<circle cx="475.08" cy="74.86" r="1.55" fill="#ff0000"/>
<circle cx="480.88" cy="80.68" r="1.55" fill="#ff0000"/>
<circle cx="486.68" cy="86.61" r="1.55" fill="#ff0000"/>
<circle cx="492.48" cy="92.72" r="1.55" fill="#ff0000"/>
<circle cx="498.28" cy="98.90" r="1.55" fill="#ff0000"/>
<circle cx="504.08" cy="105.22" r="1.55" fill="#ff0000"/>
<circle cx="509.88" cy="111.62" r="1.55" fill="#ff0000"/>
<circle cx="515.68" cy="117.83" r="1.55" fill="#ff0000"/>
<circle cx="521.48" cy="123.81" r="1.55" fill="#ff0000"/>
<circle cx="527.28" cy="129.46" r="1.55" fill="#ff0000"/>
<circle cx="533.08" cy="134.74" r="1.55" fill="#ff0000"/>
<circle cx="538.89" cy="139.83" r="1.55" fill="#ff0000"/>
<circle cx="544.69" cy="144.55" r="1.55" fill="#ff0000"/>
<circle cx="550.49" cy="148.74" r="1.55" fill="#ff0000"/>
<circle cx="556.29" cy="152.40" r="1.55" fill="#ff0000"/>
<circle cx="562.09" cy="155.67" r="1.55" fill="#ff0000"/>
<circle cx="567.89" cy="158.60" r="1.55" fill="#ff0000"/>
<circle cx="573.69" cy="161.22" r="1.55" fill="#ff0000"/>
<circle cx="579.49" cy="163.46" r="1.55" fill="#ff0000"/>
<circle cx="585.29" cy="165.34" r="1.55" fill="#ff0000"/>
<circle cx="591.09" cy="166.95" r="1.55" fill="#ff0000"/>
<circle cx="596.89" cy="168.48" r="1.55" fill="#ff0000"/>
<circle cx="602.69" cy="169.61" r="1.55" fill="#ff0000"/>
<circle cx="608.49" cy="170.15" r="1.55" fill="#ff0000"/>
<circle cx="614.30" cy="170.53" r="1.55" fill="#ff0000"/>
<circle cx="620.10" cy="170.87" r="1.55" fill="#ff0000"/>
<circle cx="625.90" cy="171.17" r="1.55" fill="#ff0000"/>
<circle cx="631.70" cy="171.43" r="1.55" fill="#ff0000"/>
<circle cx="637.50" cy="171.65" r="1.55" fill="#ff0000"/>
<circle cx="643.30" cy="171.86" r="1.55" fill="#ff0000"/>
<circle cx="649.10" cy="172.05" r="1.55" fill="#ff0000"/>
<circle cx="654.90" cy="172.23" r="1.55" fill="#ff0000"/>
<circle cx="660.70" cy="172.41" r="1.55" fill="#ff0000"/>
<circle cx="666.50" cy="172.58" r="1.55" fill="#ff0000"/>
<circle cx="672.30" cy="172.76" r="1.55" fill="#ff0000"/>
<circle cx="678.10" cy="172.94" r="1.55" fill="#ff0000"/>
<path d="M440.27 184.69L446.07 184.27L451.87 183.91L457.67 183.57L463.48 183.25L469.28 182.91L475.08 182.55L480.88 182.13L486.68 181.65L492.48 181.08L498.28 180.40L504.08 179.48L509.88 177.84L515.68 175.65L521.48 173.20L527.28 170.40L533.08 167.08L538.89 163.33L544.69 159.23L550.49 154.88L556.29 150.34L562.09 145.32L567.89 139.72L573.69 133.79L579.49 127.43L585.29 120.58L591.09 113.71L596.89 107.29L602.69 101.43L608.49 95.62L614.30 89.53L620.10 83.31L625.90 77.12L631.70 71.11L637.50 65.19L643.30 59.32L649.10 53.70L654.90 48.54L660.70 43.91L666.50 39.61L672.30 35.45L678.10 31.21" fill="none" stroke="#4040e0" stroke-width="0.7"/>
<path d="M440.27 186.69L442.27 183.19L438.27 183.19Z" fill="#0000ff"/>
<path d="M446.07 186.27L448.07 182.77L444.07 182.77Z" fill="#0000ff"/>
<path d="M451.87 185.91L453.87 182.41L449.87 182.41Z" fill="#0000ff"/>
<path d="M457.67 185.57L459.67 182.07L455.67 182.07Z" fill="#0000ff"/>
<path d="M463.48 185.25L465.48 181.75L461.48 181.75Z" fill="#0000ff"/>
<path d="M469.28 184.91L471.28 181.41L467.28 181.41Z" fill="#0000ff"/>
<path d="M475.08 184.55L477.08 181.05L473.08 181.05Z" fill="#0000ff"/>
<path d="M480.88 184.13L482.88 180.63L478.88 180.63Z" fill="#0000ff"/>
<path d="M486.68 183.65L488.68 180.15L484.68 180.15Z" fill="#0000ff"/>
<path d="M492.48 183.08L494.48 179.58L490.48 179.58Z" fill="#0000ff"/>
<path d="M498.28 182.40L500.28 178.90L496.28 178.90Z" fill="#0000ff"/>
<path d="M504.08 181.48L506.08 177.98L502.08 177.98Z" fill="#0000ff"/>
<path d="M509.88 179.84L511.88 176.34L507.88 176.34Z" fill="#0000ff"/>
<path d="M515.68 177.65L517.68 174.15L513.68 174.15Z" fill="#0000ff"/>
<path d="M521.48 175.20L523.48 171.70L519.48 171.70Z" fill="#0000ff"/>
<path d="M527.28 172.40L529.28 168.90L525.28 168.90Z" fill="#0000ff"/>
<path d="M533.08 169.08L535.08 165.58L531.08 165.58Z" fill="#0000ff"/>
<path d="M538.89 165.33L540.89 161.83L536.89 161.83Z" fill="#0000ff"/>
<path d="M544.69 161.23L546.69 157.73L542.69 157.73Z" fill="#0000ff"/>
<path d="M550.49 156.88L552.49 153.38L548.49 153.38Z" fill="#0000ff"/>
<path d="M556.29 152.34L558.29 148.84L554.29 148.84Z" fill="#0000ff"/>
<path d="M562.09 147.32L564.09 143.82L560.09 143.82Z" fill="#0000ff"/>
<path d="M567.89 141.72L569.89 138.22L565.89 138.22Z" fill="#0000ff"/>
<path d="M573.69 135.79L575.69 132.29L571.69 132.29Z" fill="#0000ff"/>
<path d="M579.49 129.43L581.49 125.93L577.49 125.93Z" fill="#0000ff"/>
<path d="M585.29 122.58L587.29 119.08L583.29 119.08Z" fill="#0000ff"/>
<path d="M591.09 115.71L593.09 112.21L589.09 112.21Z" fill="#0000ff"/>
<path d="M596.89 109.29L598.89 105.79L594.89 105.79Z" fill="#0000ff"/>
<path d="M602.69 103.43L604.69 99.93L600.69 99.93Z" fill="#0000ff"/>
<path d="M608.49 97.62L610.49 94.12L606.49 94.12Z" fill="#0000ff"/>
<path d="M614.30 91.53L616.30 88.03L612.30 88.03Z" fill="#0000ff"/>
<path d="M620.10 85.31L622.10 81.81L618.10 81.81Z" fill="#0000ff"/>
<path d="M625.90 79.12L627.90 75.62L623.90 75.62Z" fill="#0000ff"/>
<path d="M631.70 73.11L633.70 69.61L629.70 69.61Z" fill="#0000ff"/>
<path d="M637.50 67.19L639.50 63.69L635.50 63.69Z" fill="#0000ff"/>
<path d="M643.30 61.32L645.30 57.82L641.30 57.82Z" fill="#0000ff"/>
<path d="M649.10 55.70L651.10 52.20L647.10 52.20Z" fill="#0000ff"/>
<path d="M654.90 50.54L656.90 47.04L652.90 47.04Z" fill="#0000ff"/>
<path d="M660.70 45.91L662.70 42.41L658.70 42.41Z" fill="#0000ff"/>
<path d="M666.50 41.61L668.50 38.11L664.50 38.11Z" fill="#0000ff"/>
<path d="M672.30 37.45L674.30 33.95L670.30 33.95Z" fill="#0000ff"/>
<path d="M678.10 33.21L680.10 29.71L676.10 29.71Z" fill="#0000ff"/>
<path d="M440.27 209.72L446.07 207.21L451.87 204.79L457.67 202.42L463.48 200.07L469.28 197.70L475.08 195.27L480.88 192.77L486.68 190.14L492.48 187.36L498.28 184.38L504.08 181.14L509.88 177.40L515.68 173.35L521.48 169.26L527.28 165.22L533.08 161.15L538.89 156.97L544.69 152.60L550.49 147.95L556.29 142.91L562.09 137.50L567.89 131.87L573.69 126.16L579.49 120.34L585.29 114.36L591.09 108.36L596.89 102.42L602.69 96.46L608.49 90.39L614.30 84.15L620.10 77.80L625.90 71.40L631.70 65.00L637.50 58.51L643.30 51.95L649.10 45.52L654.90 39.40L660.70 33.69L666.50 28.22L672.30 22.85L678.10 17.42" fill="none" stroke="#60e8e8" stroke-width="0.7"/>
<path d="M440.27 207.87L442.12 209.72L440.27 211.56L438.42 209.72Z" fill="#00f0f0"/>
<path d="M446.07 205.36L447.92 207.21L446.07 209.06L444.22 207.21Z" fill="#00f0f0"/>
<path d="M451.87 202.94L453.72 204.79L451.87 206.64L450.02 204.79Z" fill="#00f0f0"/>
<path d="M457.67 200.57L459.52 202.42L457.67 204.27L455.82 202.42Z" fill="#00f0f0"/>
<path d="M463.48 198.22L465.33 200.07L463.48 201.92L461.63 200.07Z" fill="#00f0f0"/>
<path d="M469.28 195.85L471.13 197.70L469.28 199.55L467.43 197.70Z" fill="#00f0f0"/>
<path d="M475.08 193.42L476.93 195.27L475.08 197.12L473.23 195.27Z" fill="#00f0f0"/>
<path d="M480.88 190.92L482.73 192.77L480.88 194.62L479.03 192.77Z" fill="#00f0f0"/>
<path d="M486.68 188.29L488.53 190.14L486.68 191.99L484.83 190.14Z" fill="#00f0f0"/>
<path d="M492.48 185.51L494.33 187.36L492.48 189.21L490.63 187.36Z" fill="#00f0f0"/>
<path d="M498.28 182.53L500.13 184.38L498.28 186.23L496.43 184.38Z" fill="#00f0f0"/>
<path d="M504.08 179.29L505.93 181.14L504.08 182.99L502.23 181.14Z" fill="#00f0f0"/>
<path d="M509.88 175.55L511.73 177.40L509.88 179.25L508.03 177.40Z" fill="#00f0f0"/>
<path d="M515.68 171.50L517.53 173.35L515.68 175.20L513.83 173.35Z" fill="#00f0f0"/>
<path d="M521.48 167.41L523.33 169.26L521.48 171.11L519.63 169.26Z" fill="#00f0f0"/>
<path d="M527.28 163.37L529.13 165.22L527.28 167.07L525.43 165.22Z" fill="#00f0f0"/>
<path d="M533.08 159.30L534.93 161.15L533.08 163.00L531.23 161.15Z" fill="#00f0f0"/>
<path d="M538.89 155.12L540.74 156.97L538.89 158.82L537.04 156.97Z" fill="#00f0f0"/>
<path d="M544.69 150.75L546.54 152.60L544.69 154.45L542.84 152.60Z" fill="#00f0f0"/>
<path d="M550.49 146.10L552.34 147.95L550.49 149.80L548.64 147.95Z" fill="#00f0f0"/>
<path d="M556.29 141.06L558.14 142.91L556.29 144.76L554.44 142.91Z" fill="#00f0f0"/>
<path d="M562.09 135.65L563.94 137.50L562.09 139.35L560.24 137.50Z" fill="#00f0f0"/>
<path d="M567.89 130.02L569.74 131.87L567.89 133.72L566.04 131.87Z" fill="#00f0f0"/>
<path d="M573.69 124.31L575.54 126.16L573.69 128.01L571.84 126.16Z" fill="#00f0f0"/>
<path d="M579.49 118.49L581.34 120.34L579.49 122.19L577.64 120.34Z" fill="#00f0f0"/>
<path d="M585.29 112.51L587.14 114.36L585.29 116.21L583.44 114.36Z" fill="#00f0f0"/>
<path d="M591.09 106.51L592.94 108.36L591.09 110.21L589.24 108.36Z" fill="#00f0f0"/>
<path d="M596.89 100.57L598.74 102.42L596.89 104.27L595.04 102.42Z" fill="#00f0f0"/>
<path d="M602.69 94.61L604.54 96.46L602.69 98.31L600.84 96.46Z" fill="#00f0f0"/>
<path d="M608.49 88.54L610.34 90.39L608.49 92.24L606.64 90.39Z" fill="#00f0f0"/>
<path d="M614.30 82.30L616.15 84.15L614.30 86.00L612.45 84.15Z" fill="#00f0f0"/>
<path d="M620.10 75.95L621.95 77.80L620.10 79.65L618.25 77.80Z" fill="#00f0f0"/>
<path d="M625.90 69.55L627.75 71.40L625.90 73.25L624.05 71.40Z" fill="#00f0f0"/>
<path d="M631.70 63.15L633.55 65.00L631.70 66.85L629.85 65.00Z" fill="#00f0f0"/>
<path d="M637.50 56.66L639.35 58.51L637.50 60.36L635.65 58.51Z" fill="#00f0f0"/>
<path d="M643.30 50.10L645.15 51.95L643.30 53.80L641.45 51.95Z" fill="#00f0f0"/>
<path d="M649.10 43.67L650.95 45.52L649.10 47.37L647.25 45.52Z" fill="#00f0f0"/>
<path d="M654.90 37.55L656.75 39.40L654.90 41.25L653.05 39.40Z" fill="#00f0f0"/>
<path d="M660.70 31.84L662.55 33.69L660.70 35.54L658.85 33.69Z" fill="#00f0f0"/>
<path d="M666.50 26.37L668.35 28.22L666.50 30.07L664.65 28.22Z" fill="#00f0f0"/>
<path d="M672.30 21.00L674.15 22.85L672.30 24.70L670.45 22.85Z" fill="#00f0f0"/>
<path d="M678.10 15.57L679.95 17.42L678.10 19.27L676.25 17.42Z" fill="#00f0f0"/>
<path d="M512.4 195.4H519.7M527.7 195.4H535" stroke="#505050" stroke-width="0.7"/>
<rect x="522.30" y="194.00" width="2.80" height="2.80" fill="#000000"/>
<text x="538.8" y="198.9" font-size="10">R<tspan font-size="6.5" dy="3.9">CH</tspan></text>
<path d="M512.4 212.2H519.7M527.7 212.2H535" stroke="#60e060" stroke-width="0.7"/>
<path d="M523.70 210.20L525.70 213.70L521.70 213.70Z" fill="#00ee00"/>
<text x="538.8" y="215.7" font-size="10">R<tspan font-size="6.5" dy="3.9">CN</tspan></text>
<path d="M558.6 195.4H566.5M574.5 195.4H582.4" stroke="#f06060" stroke-width="0.7"/>
<circle cx="570.50" cy="195.40" r="1.55" fill="#ff0000"/>
<text x="585.4" y="198.9" font-size="10">R<tspan font-size="6.5" dy="3.9">CH'</tspan></text>
<path d="M558.6 212.2H566.5M574.5 212.2H582.4" stroke="#4040e0" stroke-width="0.7"/>
<path d="M570.50 214.20L572.50 210.70L568.50 210.70Z" fill="#0000ff"/>
<text x="585.4" y="215.7" font-size="10">R<tspan font-size="6.5" dy="3.9">NH'</tspan></text>
<path d="M611 195.4H618.5M626.5 195.4H634" stroke="#60e8e8" stroke-width="0.7"/>
<path d="M622.50 193.55L624.35 195.40L622.50 197.25L620.65 195.40Z" fill="#00f0f0"/>
<text x="637.6" y="198.9" font-size="10">&#952;<tspan font-size="6.5" dy="3.9">H'CN</tspan></text>
<text x="692.90" y="20.80" font-size="14" text-anchor="start" >(b)</text>
<path d="M437.3 97.9L448.2 114.1" stroke="#808080" stroke-width="1.6"/>
<path d="M448.2 115.5L470.8 115.5M448.2 112.7L470.8 112.7" stroke="#a0a0a0" stroke-width="1.2"/>
<path d="M448.2 114.1L438.5 130.8" stroke="#808080" stroke-width="1.6"/>
<circle cx="437.3" cy="97.9" r="5" fill="url(#gHur)"/>
<circle cx="448.2" cy="114.1" r="7.3" fill="url(#gCur)"/>
<circle cx="470.8" cy="114.1" r="7.2" fill="url(#gNur)"/>
<circle cx="438.5" cy="130.8" r="5" fill="url(#gHur)"/>
<text x="434.50" y="93.80" font-size="10.2" text-anchor="start" >H</text>
<path d="M442.85 86.08L444.25 86.08L442.75 88.78L442.05 88.78Z" fill="#111"/>
<path d="M554.7 69L543.8 90.1" stroke="#6c6c6c" stroke-width="1.15" stroke-dasharray="2.2 2"/>
<path d="M554.7 69L566 90.1" stroke="#6c6c6c" stroke-width="1.15" stroke-dasharray="2.2 2"/>
<path d="M543.8 91.5L566.0 91.5M543.8 88.7L566.0 88.7" stroke="#a0a0a0" stroke-width="1.2"/>
<path d="M543.8 90.1L530.9 105.7" stroke="#808080" stroke-width="1.6"/>
<circle cx="554.7" cy="69.0" r="5.2" fill="url(#gHur)"/>
<circle cx="543.8" cy="90.1" r="7.5" fill="url(#gCur)"/>
<circle cx="566.0" cy="90.1" r="7.5" fill="url(#gNur)"/>
<circle cx="530.9" cy="105.7" r="5.2" fill="url(#gHur)"/>
<text x="554.50" y="61.80" font-size="10.2" text-anchor="start" >H</text>
<path d="M562.85 54.08L564.25 54.08L562.75 56.78L562.05 56.78Z" fill="#111"/>
<path d="M643.4 97.2L653.8 113.3" stroke="#808080" stroke-width="1.6"/>
<path d="M653.7 114.7L675.7 115.7M653.9 111.9L675.9 112.9" stroke="#a0a0a0" stroke-width="1.2"/>
<path d="M675.8 114.3L683.7 130" stroke="#808080" stroke-width="1.6"/>
<circle cx="643.4" cy="97.2" r="5.2" fill="url(#gHll)"/>
<circle cx="653.8" cy="113.3" r="7.5" fill="url(#gCll)"/>
<circle cx="675.8" cy="114.3" r="7.5" fill="url(#gNll)"/>
<circle cx="683.7" cy="130.0" r="5" fill="url(#gHll)"/>
<text x="645.00" y="92.80" font-size="10.2" text-anchor="start" >H</text>
<path d="M653.35 85.08L654.75 85.08L653.25 87.78L652.55 87.78Z" fill="#111"/>
<path d="M37.2 260.2H334.8V481.3H37.2Z" fill="none" stroke="#4a4a4a" stroke-width="1.2"/>
<path d="M37.20 481.3v4.5M111.55 481.3v4.5M185.90 481.3v4.5M260.25 481.3v4.5M334.60 481.3v4.5M74.38 481.3v2.5M148.73 481.3v2.5M223.07 481.3v2.5M297.43 481.3v2.5M37.2 481.30h-5M37.2 437.10h-5M37.2 392.90h-5M37.2 348.70h-5M37.2 304.50h-5M37.2 260.30h-5M37.2 459.20h-2.5M37.2 415.00h-2.5M37.2 370.80h-2.5M37.2 326.60h-2.5M37.2 282.40h-2.5M334.8 453.90h-4.5M334.8 398.50h-4.5M334.8 343.10h-4.5M334.8 287.70h-4.5M334.8 426.20h-2.5M334.8 370.80h-2.5M334.8 315.40h-2.5" fill="none" stroke="#404040" stroke-width="1.0"/>
<text x="37.20" y="495.50" font-size="8.5" text-anchor="middle" >-2</text>
<text x="111.55" y="495.50" font-size="8.5" text-anchor="middle" >-1</text>
<text x="185.90" y="495.50" font-size="8.5" text-anchor="middle" >0</text>
<text x="260.25" y="495.50" font-size="8.5" text-anchor="middle" >1</text>
<text x="334.60" y="495.50" font-size="8.5" text-anchor="middle" >2</text>
<text x="29.70" y="483.60" font-size="8.5" text-anchor="end" >1,0</text>
<text x="29.70" y="439.40" font-size="8.5" text-anchor="end" >1,1</text>
<text x="29.70" y="395.20" font-size="8.5" text-anchor="end" >1,2</text>
<text x="29.70" y="351.00" font-size="8.5" text-anchor="end" >1,3</text>
<text x="29.70" y="306.80" font-size="8.5" text-anchor="end" >1,4</text>
<text x="29.70" y="262.60" font-size="8.5" text-anchor="end" >1,5</text>
<text x="340.30" y="456.20" font-size="8.5" text-anchor="start" >120</text>
<text x="340.30" y="400.80" font-size="8.5" text-anchor="start" >140</text>
<text x="340.30" y="345.40" font-size="8.5" text-anchor="start" >160</text>
<text x="340.30" y="290.00" font-size="8.5" text-anchor="start" >180</text>
<text transform="translate(8.7,371.3) rotate(-90)" font-size="10.5" text-anchor="middle">Distance (&#197;)</text>
<text transform="translate(367,376.7) rotate(-90)" font-size="10.6" text-anchor="middle">Angle (degree)</text>
<path d="M74.38 383.79L82.91 383.61L91.45 383.42L99.98 383.23L108.52 383.05L117.06 382.86L125.59 382.68L134.13 382.49L142.67 382.30L151.20 382.12L159.74 381.93L168.28 381.74L176.81 381.56L185.35 381.37L193.89 381.18L202.42 381.00L210.96 380.81L219.50 380.62L228.03 380.44L236.57 380.25L245.10 380.06L253.64 379.88L262.18 379.69L270.71 379.50L279.25 379.32L287.79 379.13L296.32 378.94L304.86 378.76" fill="none" stroke="#f06060" stroke-width="0.7"/>
<circle cx="74.38" cy="383.79" r="1.55" fill="#ff0000"/>
<circle cx="82.91" cy="383.61" r="1.55" fill="#ff0000"/>
<circle cx="91.45" cy="383.42" r="1.55" fill="#ff0000"/>
<circle cx="99.98" cy="383.23" r="1.55" fill="#ff0000"/>
<circle cx="108.52" cy="383.05" r="1.55" fill="#ff0000"/>
<circle cx="117.06" cy="382.86" r="1.55" fill="#ff0000"/>
<circle cx="125.59" cy="382.68" r="1.55" fill="#ff0000"/>
<circle cx="134.13" cy="382.49" r="1.55" fill="#ff0000"/>
<circle cx="142.67" cy="382.30" r="1.55" fill="#ff0000"/>
<circle cx="151.20" cy="382.12" r="1.55" fill="#ff0000"/>
<circle cx="159.74" cy="381.93" r="1.55" fill="#ff0000"/>
<circle cx="168.28" cy="381.74" r="1.55" fill="#ff0000"/>
<circle cx="176.81" cy="381.56" r="1.55" fill="#ff0000"/>
<circle cx="185.35" cy="381.37" r="1.55" fill="#ff0000"/>
<circle cx="193.89" cy="381.18" r="1.55" fill="#ff0000"/>
<circle cx="202.42" cy="381.00" r="1.55" fill="#ff0000"/>
<circle cx="210.96" cy="380.81" r="1.55" fill="#ff0000"/>
<circle cx="219.50" cy="380.62" r="1.55" fill="#ff0000"/>
<circle cx="228.03" cy="380.44" r="1.55" fill="#ff0000"/>
<circle cx="236.57" cy="380.25" r="1.55" fill="#ff0000"/>
<circle cx="245.10" cy="380.06" r="1.55" fill="#ff0000"/>
<circle cx="253.64" cy="379.88" r="1.55" fill="#ff0000"/>
<circle cx="262.18" cy="379.69" r="1.55" fill="#ff0000"/>
<circle cx="270.71" cy="379.50" r="1.55" fill="#ff0000"/>
<circle cx="279.25" cy="379.32" r="1.55" fill="#ff0000"/>
<circle cx="287.79" cy="379.13" r="1.55" fill="#ff0000"/>
<circle cx="296.32" cy="378.94" r="1.55" fill="#ff0000"/>
<circle cx="304.86" cy="378.76" r="1.55" fill="#ff0000"/>
<path d="M74.38 437.10L82.91 438.06L91.45 438.97L99.98 439.94L108.52 441.07L117.06 442.53L125.59 444.53L134.13 446.73L142.67 448.77L151.20 450.32L159.74 451.73L168.28 452.93L176.81 453.63L185.35 453.79L193.89 453.84L202.42 452.52L210.96 451.56L219.50 450.73L228.03 449.78L236.57 448.55L245.10 447.12L253.64 445.68L262.18 444.25L270.71 442.80L279.25 441.47L287.79 440.31L296.32 439.23L304.86 438.16" fill="none" stroke="#505050" stroke-width="0.7"/>
<rect x="72.98" y="435.70" width="2.80" height="2.80" fill="#000000"/>
<rect x="81.51" y="436.66" width="2.80" height="2.80" fill="#000000"/>
<rect x="90.05" y="437.57" width="2.80" height="2.80" fill="#000000"/>
<rect x="98.58" y="438.54" width="2.80" height="2.80" fill="#000000"/>
<rect x="107.12" y="439.67" width="2.80" height="2.80" fill="#000000"/>
<rect x="115.66" y="441.13" width="2.80" height="2.80" fill="#000000"/>
<rect x="124.19" y="443.13" width="2.80" height="2.80" fill="#000000"/>
<rect x="132.73" y="445.33" width="2.80" height="2.80" fill="#000000"/>
<rect x="141.27" y="447.37" width="2.80" height="2.80" fill="#000000"/>
<rect x="149.80" y="448.92" width="2.80" height="2.80" fill="#000000"/>
<rect x="158.34" y="450.33" width="2.80" height="2.80" fill="#000000"/>
<rect x="166.88" y="451.53" width="2.80" height="2.80" fill="#000000"/>
<rect x="175.41" y="452.23" width="2.80" height="2.80" fill="#000000"/>
<rect x="183.95" y="452.39" width="2.80" height="2.80" fill="#000000"/>
<rect x="192.49" y="452.44" width="2.80" height="2.80" fill="#000000"/>
<rect x="201.02" y="451.12" width="2.80" height="2.80" fill="#000000"/>
<rect x="209.56" y="450.16" width="2.80" height="2.80" fill="#000000"/>
<rect x="218.10" y="449.33" width="2.80" height="2.80" fill="#000000"/>
<rect x="226.63" y="448.38" width="2.80" height="2.80" fill="#000000"/>
<rect x="235.17" y="447.15" width="2.80" height="2.80" fill="#000000"/>
<rect x="243.70" y="445.72" width="2.80" height="2.80" fill="#000000"/>
<rect x="252.24" y="444.28" width="2.80" height="2.80" fill="#000000"/>
<rect x="260.78" y="442.85" width="2.80" height="2.80" fill="#000000"/>
<rect x="269.31" y="441.40" width="2.80" height="2.80" fill="#000000"/>
<rect x="277.85" y="440.07" width="2.80" height="2.80" fill="#000000"/>
<rect x="286.39" y="438.91" width="2.80" height="2.80" fill="#000000"/>
<rect x="294.92" y="437.83" width="2.80" height="2.80" fill="#000000"/>
<rect x="303.46" y="436.76" width="2.80" height="2.80" fill="#000000"/>
<path d="M74.38 468.70L82.91 468.17L91.45 467.65L99.98 467.11L108.52 466.51L117.06 465.76L125.59 464.78L134.13 463.76L142.67 462.90L151.20 462.41L159.74 462.07L168.28 461.87L176.81 462.07L185.35 462.70L193.89 463.19L202.42 463.65L210.96 464.13L219.50 464.68L228.03 465.38L236.57 466.34L245.10 467.40L253.64 468.36L262.18 469.05L270.71 469.56L279.25 469.98L287.79 470.36L296.32 470.74L304.86 471.13" fill="none" stroke="#60e060" stroke-width="0.7"/>
<path d="M74.38 466.70L76.38 470.20L72.38 470.20Z" fill="#00ee00"/>
<path d="M82.91 466.17L84.91 469.67L80.91 469.67Z" fill="#00ee00"/>
<path d="M91.45 465.65L93.45 469.15L89.45 469.15Z" fill="#00ee00"/>
<path d="M99.98 465.11L101.98 468.61L97.98 468.61Z" fill="#00ee00"/>
<path d="M108.52 464.51L110.52 468.01L106.52 468.01Z" fill="#00ee00"/>
<path d="M117.06 463.76L119.06 467.26L115.06 467.26Z" fill="#00ee00"/>
<path d="M125.59 462.78L127.59 466.28L123.59 466.28Z" fill="#00ee00"/>
<path d="M134.13 461.76L136.13 465.26L132.13 465.26Z" fill="#00ee00"/>
<path d="M142.67 460.90L144.67 464.40L140.67 464.40Z" fill="#00ee00"/>
<path d="M151.20 460.41L153.20 463.91L149.20 463.91Z" fill="#00ee00"/>
<path d="M159.74 460.07L161.74 463.57L157.74 463.57Z" fill="#00ee00"/>
<path d="M168.28 459.87L170.28 463.37L166.28 463.37Z" fill="#00ee00"/>
<path d="M176.81 460.07L178.81 463.57L174.81 463.57Z" fill="#00ee00"/>
<path d="M185.35 460.70L187.35 464.20L183.35 464.20Z" fill="#00ee00"/>
<path d="M193.89 461.19L195.89 464.69L191.89 464.69Z" fill="#00ee00"/>
<path d="M202.42 461.65L204.42 465.15L200.42 465.15Z" fill="#00ee00"/>
<path d="M210.96 462.13L212.96 465.63L208.96 465.63Z" fill="#00ee00"/>
<path d="M219.50 462.68L221.50 466.18L217.50 466.18Z" fill="#00ee00"/>
<path d="M228.03 463.38L230.03 466.88L226.03 466.88Z" fill="#00ee00"/>
<path d="M236.57 464.34L238.57 467.84L234.57 467.84Z" fill="#00ee00"/>
<path d="M245.10 465.40L247.10 468.90L243.10 468.90Z" fill="#00ee00"/>
<path d="M253.64 466.36L255.64 469.86L251.64 469.86Z" fill="#00ee00"/>
<path d="M262.18 467.05L264.18 470.55L260.18 470.55Z" fill="#00ee00"/>
<path d="M270.71 467.56L272.71 471.06L268.71 471.06Z" fill="#00ee00"/>
<path d="M279.25 467.98L281.25 471.48L277.25 471.48Z" fill="#00ee00"/>
<path d="M287.79 468.36L289.79 471.86L285.79 471.86Z" fill="#00ee00"/>
<path d="M296.32 468.74L298.32 472.24L294.32 472.24Z" fill="#00ee00"/>
<path d="M304.86 469.13L306.86 472.63L302.86 472.63Z" fill="#00ee00"/>
<path d="M128.95 412.35L134.20 402.26L139.46 392.18L144.72 382.09L149.98 372.01L155.23 361.92L160.49 351.84L165.75 341.75L171.00 331.67L176.26 321.58L181.52 311.50L186.77 301.41L192.03 291.33L197.29 295.28L202.54 305.38L207.80 315.48L213.06 325.59L218.31 335.69L223.57 345.79L228.83 355.90L234.08 366.00L239.34 376.11L244.60 386.21L249.85 396.31L255.11 406.42L260.37 416.52L265.63 426.62L270.88 436.73" fill="none" stroke="#4040e0" stroke-width="0.7"/>
<path d="M128.95 410.50L130.80 412.35L128.95 414.20L127.10 412.35Z" fill="#0000ff"/>
<path d="M134.20 400.41L136.05 402.26L134.20 404.11L132.35 402.26Z" fill="#0000ff"/>
<path d="M139.46 390.33L141.31 392.18L139.46 394.03L137.61 392.18Z" fill="#0000ff"/>
<path d="M144.72 380.24L146.57 382.09L144.72 383.94L142.87 382.09Z" fill="#0000ff"/>
<path d="M149.98 370.16L151.83 372.01L149.98 373.86L148.13 372.01Z" fill="#0000ff"/>
<path d="M155.23 360.07L157.08 361.92L155.23 363.77L153.38 361.92Z" fill="#0000ff"/>
<path d="M160.49 349.99L162.34 351.84L160.49 353.69L158.64 351.84Z" fill="#0000ff"/>
<path d="M165.75 339.90L167.60 341.75L165.75 343.60L163.90 341.75Z" fill="#0000ff"/>
<path d="M171.00 329.82L172.85 331.67L171.00 333.52L169.15 331.67Z" fill="#0000ff"/>
<path d="M176.26 319.73L178.11 321.58L176.26 323.43L174.41 321.58Z" fill="#0000ff"/>
<path d="M181.52 309.65L183.37 311.50L181.52 313.35L179.67 311.50Z" fill="#0000ff"/>
<path d="M186.77 299.56L188.62 301.41L186.77 303.26L184.92 301.41Z" fill="#0000ff"/>
<path d="M192.03 289.48L193.88 291.33L192.03 293.18L190.18 291.33Z" fill="#0000ff"/>
<path d="M197.29 293.43L199.14 295.28L197.29 297.13L195.44 295.28Z" fill="#0000ff"/>
<path d="M202.54 303.53L204.39 305.38L202.54 307.23L200.69 305.38Z" fill="#0000ff"/>
<path d="M207.80 313.63L209.65 315.48L207.80 317.33L205.95 315.48Z" fill="#0000ff"/>
<path d="M213.06 323.74L214.91 325.59L213.06 327.44L211.21 325.59Z" fill="#0000ff"/>
<path d="M218.31 333.84L220.16 335.69L218.31 337.54L216.46 335.69Z" fill="#0000ff"/>
<path d="M223.57 343.94L225.42 345.79L223.57 347.64L221.72 345.79Z" fill="#0000ff"/>
<path d="M228.83 354.05L230.68 355.90L228.83 357.75L226.98 355.90Z" fill="#0000ff"/>
<path d="M234.08 364.15L235.93 366.00L234.08 367.85L232.23 366.00Z" fill="#0000ff"/>
<path d="M239.34 374.26L241.19 376.11L239.34 377.96L237.49 376.11Z" fill="#0000ff"/>
<path d="M244.60 384.36L246.45 386.21L244.60 388.06L242.75 386.21Z" fill="#0000ff"/>
<path d="M249.85 394.46L251.70 396.31L249.85 398.16L248.00 396.31Z" fill="#0000ff"/>
<path d="M255.11 404.57L256.96 406.42L255.11 408.27L253.26 406.42Z" fill="#0000ff"/>
<path d="M260.37 414.67L262.22 416.52L260.37 418.37L258.52 416.52Z" fill="#0000ff"/>
<path d="M265.63 424.77L267.48 426.62L265.63 428.47L263.78 426.62Z" fill="#0000ff"/>
<path d="M270.88 434.88L272.73 436.73L270.88 438.58L269.03 436.73Z" fill="#0000ff"/>
<path d="M265.9 294.8H273.45M281.45 294.8H289" stroke="#505050" stroke-width="0.7"/>
<rect x="276.05" y="293.40" width="2.80" height="2.80" fill="#000000"/>
<text x="292.5" y="298.3" font-size="10">R<tspan font-size="6.5" dy="3.9">CH'</tspan></text>
<path d="M265.9 311.7H273.45M281.45 311.7H289" stroke="#f06060" stroke-width="0.7"/>
<circle cx="277.45" cy="311.70" r="1.55" fill="#ff0000"/>
<text x="292.5" y="315.2" font-size="10">R<tspan font-size="6.5" dy="3.9">CN</tspan></text>
<path d="M265.9 327.6H273.45M281.45 327.6H289" stroke="#60e060" stroke-width="0.7"/>
<path d="M277.45 325.60L279.45 329.10L275.45 329.10Z" fill="#00ee00"/>
<text x="292.5" y="331.1" font-size="10">R<tspan font-size="6.5" dy="3.9">NH</tspan></text>
<path d="M265.9 344.5H273.45M281.45 344.5H289" stroke="#4040e0" stroke-width="0.7"/>
<path d="M277.45 342.65L279.30 344.50L277.45 346.35L275.60 344.50Z" fill="#0000ff"/>
<text x="292.5" y="348.0" font-size="10">&#952;<tspan font-size="6.5" dy="3.9">H'CN</tspan></text>
<text x="309.40" y="277.80" font-size="14" text-anchor="start" >(c)</text>
<path d="M64.0 351.4L89.2 351.9M64.0 348.6L89.2 349.1" stroke="#a0a0a0" stroke-width="1.2"/>
<path d="M89.2 350.5L99.2 331.7" stroke="#808080" stroke-width="1.6"/>
<path d="M64 350L51.5 368" stroke="#808080" stroke-width="1.6"/>
<circle cx="64.0" cy="350.0" r="8.3" fill="url(#gCul)"/>
<circle cx="89.2" cy="350.5" r="8" fill="url(#gNul)"/>
<circle cx="99.2" cy="331.7" r="5.5" fill="url(#gHul)"/>
<circle cx="51.5" cy="368.0" r="5.5" fill="url(#gHul)"/>
<text x="45.50" y="386.80" font-size="10.2" text-anchor="start" >H</text>
<path d="M53.85 379.08L55.25 379.08L53.75 381.78L53.05 381.78Z" fill="#111"/>
<path d="M159.5 428.3L177.2 427.8" stroke="#808080" stroke-width="1.6"/>
<path d="M177.1 429.2L197.4 430.0M177.3 426.4L197.6 427.2" stroke="#a0a0a0" stroke-width="1.2"/>
<path d="M197.5 428.6L207.1 411.8" stroke="#808080" stroke-width="1.6"/>
<circle cx="159.5" cy="428.3" r="5" fill="url(#gHul)"/>
<circle cx="177.2" cy="427.8" r="7" fill="url(#gCul)"/>
<circle cx="197.5" cy="428.6" r="7" fill="url(#gNul)"/>
<circle cx="207.1" cy="411.8" r="5" fill="url(#gHul)"/>
<text x="150.00" y="420.30" font-size="10.2" text-anchor="start" >H</text>
<path d="M158.35 412.58L159.75 412.58L158.25 415.28L157.55 415.28Z" fill="#111"/>
<path d="M274.5 405.8L286.9 419" stroke="#808080" stroke-width="1.6"/>
<path d="M286.9 420.4L306.7 420.4M286.9 417.6L306.7 417.6" stroke="#a0a0a0" stroke-width="1.2"/>
<path d="M306.7 419L316.4 403.8" stroke="#808080" stroke-width="1.6"/>
<circle cx="274.5" cy="405.8" r="5" fill="url(#gHul)"/>
<circle cx="286.9" cy="419.0" r="7" fill="url(#gCul)"/>
<circle cx="306.7" cy="419.0" r="7" fill="url(#gNul)"/>
<circle cx="316.4" cy="403.8" r="5" fill="url(#gHul)"/>
<text x="276.00" y="400.80" font-size="10.2" text-anchor="start" >H</text>
<path d="M284.35 393.08L285.75 393.08L284.25 395.78L283.55 395.78Z" fill="#111"/>
<path d="M418.2 261.3H720V486.8H418.2Z" fill="none" stroke="#4a4a4a" stroke-width="1.2"/>
<path d="M443.30 486.8v4.5M493.55 486.8v4.5M543.80 486.8v4.5M594.05 486.8v4.5M644.30 486.8v4.5M694.55 486.8v4.5M468.42 486.8v2.5M518.67 486.8v2.5M568.92 486.8v2.5M619.17 486.8v2.5M669.42 486.8v2.5M418.2 468.50h-5M418.2 434.00h-5M418.2 399.50h-5M418.2 365.00h-5M418.2 330.50h-5M418.2 296.00h-5M418.2 261.50h-5M418.2 485.75h-2.5M418.2 451.25h-2.5M418.2 416.75h-2.5M418.2 382.25h-2.5M418.2 347.75h-2.5M418.2 313.25h-2.5M418.2 278.75h-2.5M720 468.50h-4.5M720 434.00h-4.5M720 399.50h-4.5M720 365.00h-4.5M720 330.50h-4.5M720 296.00h-4.5M720 261.50h-4.5M720 485.75h-2.5M720 451.25h-2.5M720 416.75h-2.5M720 382.25h-2.5M720 347.75h-2.5M720 313.25h-2.5M720 278.75h-2.5" fill="none" stroke="#404040" stroke-width="1.0"/>
<text x="443.30" y="501.00" font-size="8.5" text-anchor="middle" >-2</text>
<text x="493.55" y="501.00" font-size="8.5" text-anchor="middle" >-1</text>
<text x="543.80" y="501.00" font-size="8.5" text-anchor="middle" >0</text>
<text x="594.05" y="501.00" font-size="8.5" text-anchor="middle" >1</text>
<text x="644.30" y="501.00" font-size="8.5" text-anchor="middle" >2</text>
<text x="694.55" y="501.00" font-size="8.5" text-anchor="middle" >3</text>
<text x="410.70" y="470.80" font-size="8.5" text-anchor="end" >1,0</text>
<text x="410.70" y="436.30" font-size="8.5" text-anchor="end" >1,2</text>
<text x="410.70" y="401.80" font-size="8.5" text-anchor="end" >1,4</text>
<text x="410.70" y="367.30" font-size="8.5" text-anchor="end" >1,6</text>
<text x="410.70" y="332.80" font-size="8.5" text-anchor="end" >1,8</text>
<text x="410.70" y="298.30" font-size="8.5" text-anchor="end" >2,0</text>
<text x="410.70" y="263.80" font-size="8.5" text-anchor="end" >2,2</text>
<text x="725.50" y="470.80" font-size="8.5" text-anchor="start" >20</text>
<text x="725.50" y="436.30" font-size="8.5" text-anchor="start" >40</text>
<text x="725.50" y="401.80" font-size="8.5" text-anchor="start" >60</text>
<text x="725.50" y="367.30" font-size="8.5" text-anchor="start" >80</text>
<text x="725.50" y="332.80" font-size="8.5" text-anchor="start" >100</text>
<text x="725.50" y="298.30" font-size="8.5" text-anchor="start" >120</text>
<text x="725.50" y="263.80" font-size="8.5" text-anchor="start" >140</text>
<text transform="translate(395.3,381.6) rotate(-90)" font-size="10.5" text-anchor="middle">Distance (&#197;)</text>
<text transform="translate(752.5,379.7) rotate(-90)" font-size="10.6" text-anchor="middle">Angle (degree)</text>
<path d="M443.30 417.96L448.64 417.97L453.97 417.99L459.31 418.00L464.65 418.02L469.99 418.03L475.32 418.05L480.66 418.07L486.00 418.09L491.33 418.12L496.67 418.16L502.01 418.23L507.34 418.33L512.68 418.46L518.02 418.62L523.36 418.80L528.69 419.01L534.03 419.23L539.37 419.47L544.70 419.73L550.04 420.08L555.38 420.54L560.71 421.09L566.05 421.68L571.39 422.29L576.73 422.88L582.06 423.43L587.40 424.00L592.74 424.60L598.07 425.18L603.41 425.73L608.75 426.22L614.08 426.60L619.42 426.93L624.76 427.24L630.10 427.51L635.43 427.76L640.77 427.97L646.11 428.17L651.44 428.34L656.78 428.49L662.12 428.62L667.45 428.75L672.79 428.89" fill="none" stroke="#f06060" stroke-width="0.7"/>
<circle cx="443.30" cy="417.96" r="1.55" fill="#ff0000"/>
<circle cx="448.64" cy="417.97" r="1.55" fill="#ff0000"/>
<circle cx="453.97" cy="417.99" r="1.55" fill="#ff0000"/>
<circle cx="459.31" cy="418.00" r="1.55" fill="#ff0000"/>
<circle cx="464.65" cy="418.02" r="1.55" fill="#ff0000"/>
<circle cx="469.99" cy="418.03" r="1.55" fill="#ff0000"/>
<circle cx="475.32" cy="418.05" r="1.55" fill="#ff0000"/>
<circle cx="480.66" cy="418.07" r="1.55" fill="#ff0000"/>
<circle cx="486.00" cy="418.09" r="1.55" fill="#ff0000"/>
<circle cx="491.33" cy="418.12" r="1.55" fill="#ff0000"/>
<circle cx="496.67" cy="418.16" r="1.55" fill="#ff0000"/>
<circle cx="502.01" cy="418.23" r="1.55" fill="#ff0000"/>
<circle cx="507.34" cy="418.33" r="1.55" fill="#ff0000"/>
<circle cx="512.68" cy="418.46" r="1.55" fill="#ff0000"/>
<circle cx="518.02" cy="418.62" r="1.55" fill="#ff0000"/>
<circle cx="523.36" cy="418.80" r="1.55" fill="#ff0000"/>
<circle cx="528.69" cy="419.01" r="1.55" fill="#ff0000"/>
<circle cx="534.03" cy="419.23" r="1.55" fill="#ff0000"/>
<circle cx="539.37" cy="419.47" r="1.55" fill="#ff0000"/>
<circle cx="544.70" cy="419.73" r="1.55" fill="#ff0000"/>
<circle cx="550.04" cy="420.08" r="1.55" fill="#ff0000"/>
<circle cx="555.38" cy="420.54" r="1.55" fill="#ff0000"/>
<circle cx="560.71" cy="421.09" r="1.55" fill="#ff0000"/>
<circle cx="566.05" cy="421.68" r="1.55" fill="#ff0000"/>
<circle cx="571.39" cy="422.29" r="1.55" fill="#ff0000"/>
<circle cx="576.73" cy="422.88" r="1.55" fill="#ff0000"/>
<circle cx="582.06" cy="423.43" r="1.55" fill="#ff0000"/>
<circle cx="587.40" cy="424.00" r="1.55" fill="#ff0000"/>
<circle cx="592.74" cy="424.60" r="1.55" fill="#ff0000"/>
<circle cx="598.07" cy="425.18" r="1.55" fill="#ff0000"/>
<circle cx="603.41" cy="425.73" r="1.55" fill="#ff0000"/>
<circle cx="608.75" cy="426.22" r="1.55" fill="#ff0000"/>
<circle cx="614.08" cy="426.60" r="1.55" fill="#ff0000"/>
<circle cx="619.42" cy="426.93" r="1.55" fill="#ff0000"/>
<circle cx="624.76" cy="427.24" r="1.55" fill="#ff0000"/>
<circle cx="630.10" cy="427.51" r="1.55" fill="#ff0000"/>
<circle cx="635.43" cy="427.76" r="1.55" fill="#ff0000"/>
<circle cx="640.77" cy="427.97" r="1.55" fill="#ff0000"/>
<circle cx="646.11" cy="428.17" r="1.55" fill="#ff0000"/>
<circle cx="651.44" cy="428.34" r="1.55" fill="#ff0000"/>
<circle cx="656.78" cy="428.49" r="1.55" fill="#ff0000"/>
<circle cx="662.12" cy="428.62" r="1.55" fill="#ff0000"/>
<circle cx="667.45" cy="428.75" r="1.55" fill="#ff0000"/>
<circle cx="672.79" cy="428.89" r="1.55" fill="#ff0000"/>
<path d="M443.30 465.05L448.64 464.96L453.97 464.89L459.31 464.81L464.65 464.74L469.99 464.66L475.32 464.58L480.66 464.48L486.00 464.37L491.33 464.25L496.67 464.09L502.01 463.87L507.34 463.60L512.68 463.28L518.02 462.91L523.36 462.51L528.69 462.07L534.03 461.62L539.37 461.14L544.70 460.64L550.04 459.93L555.38 459.97L560.71 460.31L566.05 460.82L571.39 461.39L576.73 461.90L582.06 462.28L587.40 462.59L592.74 462.90L598.07 463.20L603.41 463.49L608.75 463.77L614.08 464.03L619.42 464.27L624.76 464.49L630.10 464.68L635.43 464.85L640.77 464.98L646.11 465.08L651.44 465.16L656.78 465.22L662.12 465.28L667.45 465.33L672.79 465.39" fill="none" stroke="#60e060" stroke-width="0.7"/>
<path d="M443.30 463.05L445.30 466.55L441.30 466.55Z" fill="#00ee00"/>
<path d="M448.64 462.96L450.64 466.46L446.64 466.46Z" fill="#00ee00"/>
<path d="M453.97 462.89L455.97 466.39L451.97 466.39Z" fill="#00ee00"/>
<path d="M459.31 462.81L461.31 466.31L457.31 466.31Z" fill="#00ee00"/>
<path d="M464.65 462.74L466.65 466.24L462.65 466.24Z" fill="#00ee00"/>
<path d="M469.99 462.66L471.99 466.16L467.99 466.16Z" fill="#00ee00"/>
<path d="M475.32 462.58L477.32 466.08L473.32 466.08Z" fill="#00ee00"/>
<path d="M480.66 462.48L482.66 465.98L478.66 465.98Z" fill="#00ee00"/>
<path d="M486.00 462.37L488.00 465.87L484.00 465.87Z" fill="#00ee00"/>
<path d="M491.33 462.25L493.33 465.75L489.33 465.75Z" fill="#00ee00"/>
<path d="M496.67 462.09L498.67 465.59L494.67 465.59Z" fill="#00ee00"/>
<path d="M502.01 461.87L504.01 465.37L500.01 465.37Z" fill="#00ee00"/>
<path d="M507.34 461.60L509.34 465.10L505.34 465.10Z" fill="#00ee00"/>
<path d="M512.68 461.28L514.68 464.78L510.68 464.78Z" fill="#00ee00"/>
<path d="M518.02 460.91L520.02 464.41L516.02 464.41Z" fill="#00ee00"/>
<path d="M523.36 460.51L525.36 464.01L521.36 464.01Z" fill="#00ee00"/>
<path d="M528.69 460.07L530.69 463.57L526.69 463.57Z" fill="#00ee00"/>
<path d="M534.03 459.62L536.03 463.12L532.03 463.12Z" fill="#00ee00"/>
<path d="M539.37 459.14L541.37 462.64L537.37 462.64Z" fill="#00ee00"/>
<path d="M544.70 458.64L546.70 462.14L542.70 462.14Z" fill="#00ee00"/>
<path d="M550.04 457.93L552.04 461.43L548.04 461.43Z" fill="#00ee00"/>
<path d="M555.38 457.97L557.38 461.47L553.38 461.47Z" fill="#00ee00"/>
<path d="M560.71 458.31L562.71 461.81L558.71 461.81Z" fill="#00ee00"/>
<path d="M566.05 458.82L568.05 462.32L564.05 462.32Z" fill="#00ee00"/>
<path d="M571.39 459.39L573.39 462.89L569.39 462.89Z" fill="#00ee00"/>
<path d="M576.73 459.90L578.73 463.40L574.73 463.40Z" fill="#00ee00"/>
<path d="M582.06 460.28L584.06 463.78L580.06 463.78Z" fill="#00ee00"/>
<path d="M587.40 460.59L589.40 464.09L585.40 464.09Z" fill="#00ee00"/>
<path d="M592.74 460.90L594.74 464.40L590.74 464.40Z" fill="#00ee00"/>
<path d="M598.07 461.20L600.07 464.70L596.07 464.70Z" fill="#00ee00"/>
<path d="M603.41 461.49L605.41 464.99L601.41 464.99Z" fill="#00ee00"/>
<path d="M608.75 461.77L610.75 465.27L606.75 465.27Z" fill="#00ee00"/>
<path d="M614.08 462.03L616.08 465.53L612.08 465.53Z" fill="#00ee00"/>
<path d="M619.42 462.27L621.42 465.77L617.42 465.77Z" fill="#00ee00"/>
<path d="M624.76 462.49L626.76 465.99L622.76 465.99Z" fill="#00ee00"/>
<path d="M630.10 462.68L632.10 466.18L628.10 466.18Z" fill="#00ee00"/>
<path d="M635.43 462.85L637.43 466.35L633.43 466.35Z" fill="#00ee00"/>
<path d="M640.77 462.98L642.77 466.48L638.77 466.48Z" fill="#00ee00"/>
<path d="M646.11 463.08L648.11 466.58L644.11 466.58Z" fill="#00ee00"/>
<path d="M651.44 463.16L653.44 466.66L649.44 466.66Z" fill="#00ee00"/>
<path d="M656.78 463.22L658.78 466.72L654.78 466.72Z" fill="#00ee00"/>
<path d="M662.12 463.28L664.12 466.78L660.12 466.78Z" fill="#00ee00"/>
<path d="M667.45 463.33L669.45 466.83L665.45 466.83Z" fill="#00ee00"/>
<path d="M672.79 463.39L674.79 466.89L670.79 466.89Z" fill="#00ee00"/>
<path d="M443.30 289.10L448.64 293.07L453.97 297.07L459.31 301.72L464.65 307.38L469.99 313.80L475.32 320.64L480.66 327.58L486.00 334.81L491.33 342.39L496.67 350.06L502.01 357.60L507.34 365.18L512.68 372.67L518.02 379.76L523.36 386.58L528.69 393.17L534.03 399.26L539.37 404.55L544.70 409.24L550.04 413.43L555.38 417.12L560.71 420.27L566.05 423.05L571.39 425.70L576.73 428.46L582.06 431.35L587.40 434.18L592.74 436.76L598.07 438.90L603.41 440.67L608.75 442.21L614.08 443.59L619.42 444.84L624.76 445.96L630.10 446.95L635.43 447.88L640.77 448.69L646.11 449.29L651.44 449.69L656.78 450.02L662.12 450.39L667.45 450.81L672.79 451.25" fill="none" stroke="#505050" stroke-width="0.7"/>
<rect x="441.90" y="287.70" width="2.80" height="2.80" fill="#000000"/>
<rect x="447.24" y="291.67" width="2.80" height="2.80" fill="#000000"/>
<rect x="452.57" y="295.67" width="2.80" height="2.80" fill="#000000"/>
<rect x="457.91" y="300.32" width="2.80" height="2.80" fill="#000000"/>
<rect x="463.25" y="305.98" width="2.80" height="2.80" fill="#000000"/>
<rect x="468.59" y="312.40" width="2.80" height="2.80" fill="#000000"/>
<rect x="473.92" y="319.24" width="2.80" height="2.80" fill="#000000"/>
<rect x="479.26" y="326.18" width="2.80" height="2.80" fill="#000000"/>
<rect x="484.60" y="333.41" width="2.80" height="2.80" fill="#000000"/>
<rect x="489.93" y="340.99" width="2.80" height="2.80" fill="#000000"/>
<rect x="495.27" y="348.66" width="2.80" height="2.80" fill="#000000"/>
<rect x="500.61" y="356.20" width="2.80" height="2.80" fill="#000000"/>
<rect x="505.94" y="363.78" width="2.80" height="2.80" fill="#000000"/>
<rect x="511.28" y="371.27" width="2.80" height="2.80" fill="#000000"/>
<rect x="516.62" y="378.36" width="2.80" height="2.80" fill="#000000"/>
<rect x="521.96" y="385.18" width="2.80" height="2.80" fill="#000000"/>
<rect x="527.29" y="391.77" width="2.80" height="2.80" fill="#000000"/>
<rect x="532.63" y="397.86" width="2.80" height="2.80" fill="#000000"/>
<rect x="537.97" y="403.15" width="2.80" height="2.80" fill="#000000"/>
<rect x="543.30" y="407.84" width="2.80" height="2.80" fill="#000000"/>
<rect x="548.64" y="412.03" width="2.80" height="2.80" fill="#000000"/>
<rect x="553.98" y="415.72" width="2.80" height="2.80" fill="#000000"/>
<rect x="559.31" y="418.87" width="2.80" height="2.80" fill="#000000"/>
<rect x="564.65" y="421.65" width="2.80" height="2.80" fill="#000000"/>
<rect x="569.99" y="424.30" width="2.80" height="2.80" fill="#000000"/>
<rect x="575.33" y="427.06" width="2.80" height="2.80" fill="#000000"/>
<rect x="580.66" y="429.95" width="2.80" height="2.80" fill="#000000"/>
<rect x="586.00" y="432.78" width="2.80" height="2.80" fill="#000000"/>
<rect x="591.34" y="435.36" width="2.80" height="2.80" fill="#000000"/>
<rect x="596.67" y="437.50" width="2.80" height="2.80" fill="#000000"/>
<rect x="602.01" y="439.27" width="2.80" height="2.80" fill="#000000"/>
<rect x="607.35" y="440.81" width="2.80" height="2.80" fill="#000000"/>
<rect x="612.68" y="442.19" width="2.80" height="2.80" fill="#000000"/>
<rect x="618.02" y="443.44" width="2.80" height="2.80" fill="#000000"/>
<rect x="623.36" y="444.56" width="2.80" height="2.80" fill="#000000"/>
<rect x="628.70" y="445.55" width="2.80" height="2.80" fill="#000000"/>
<rect x="634.03" y="446.48" width="2.80" height="2.80" fill="#000000"/>
<rect x="639.37" y="447.29" width="2.80" height="2.80" fill="#000000"/>
<rect x="644.71" y="447.89" width="2.80" height="2.80" fill="#000000"/>
<rect x="650.04" y="448.29" width="2.80" height="2.80" fill="#000000"/>
<rect x="655.38" y="448.62" width="2.80" height="2.80" fill="#000000"/>
<rect x="660.72" y="448.99" width="2.80" height="2.80" fill="#000000"/>
<rect x="666.05" y="449.41" width="2.80" height="2.80" fill="#000000"/>
<rect x="671.39" y="449.85" width="2.80" height="2.80" fill="#000000"/>
<path d="M443.30 291.17L448.64 296.01L453.97 300.80L459.31 305.58L464.65 310.43L469.99 315.41L475.32 320.59L480.66 326.04L486.00 331.70L491.33 337.48L496.67 343.26L502.01 348.93L507.34 354.66L512.68 360.39L518.02 365.93L523.36 371.09L528.69 375.99L534.03 380.67L539.37 385.07L544.70 389.11L550.04 392.66L555.38 396.13L560.71 399.72L566.05 403.29L571.39 406.77L576.73 410.08L582.06 413.34L587.40 416.53L592.74 419.59L598.07 422.48L603.41 425.15L608.75 427.55L614.08 429.78L619.42 431.94L624.76 434.13L630.10 436.47L635.43 439.00L640.77 441.62L646.11 444.21L651.44 446.62L656.78 448.86L662.12 451.00L667.45 453.09L672.79 455.22" fill="none" stroke="#60e8e8" stroke-width="0.7"/>
<circle cx="443.30" cy="291.17" r="1.85" fill="#00f0f0"/>
<circle cx="448.64" cy="296.01" r="1.85" fill="#00f0f0"/>
<circle cx="453.97" cy="300.80" r="1.85" fill="#00f0f0"/>
<circle cx="459.31" cy="305.58" r="1.85" fill="#00f0f0"/>
<circle cx="464.65" cy="310.43" r="1.85" fill="#00f0f0"/>
<circle cx="469.99" cy="315.41" r="1.85" fill="#00f0f0"/>
<circle cx="475.32" cy="320.59" r="1.85" fill="#00f0f0"/>
<circle cx="480.66" cy="326.04" r="1.85" fill="#00f0f0"/>
<circle cx="486.00" cy="331.70" r="1.85" fill="#00f0f0"/>
<circle cx="491.33" cy="337.48" r="1.85" fill="#00f0f0"/>
<circle cx="496.67" cy="343.26" r="1.85" fill="#00f0f0"/>
<circle cx="502.01" cy="348.93" r="1.85" fill="#00f0f0"/>
<circle cx="507.34" cy="354.66" r="1.85" fill="#00f0f0"/>
<circle cx="512.68" cy="360.39" r="1.85" fill="#00f0f0"/>
<circle cx="518.02" cy="365.93" r="1.85" fill="#00f0f0"/>
<circle cx="523.36" cy="371.09" r="1.85" fill="#00f0f0"/>
<circle cx="528.69" cy="375.99" r="1.85" fill="#00f0f0"/>
<circle cx="534.03" cy="380.67" r="1.85" fill="#00f0f0"/>
<circle cx="539.37" cy="385.07" r="1.85" fill="#00f0f0"/>
<circle cx="544.70" cy="389.11" r="1.85" fill="#00f0f0"/>
<circle cx="550.04" cy="392.66" r="1.85" fill="#00f0f0"/>
<circle cx="555.38" cy="396.13" r="1.85" fill="#00f0f0"/>
<circle cx="560.71" cy="399.72" r="1.85" fill="#00f0f0"/>
<circle cx="566.05" cy="403.29" r="1.85" fill="#00f0f0"/>
<circle cx="571.39" cy="406.77" r="1.85" fill="#00f0f0"/>
<circle cx="576.73" cy="410.08" r="1.85" fill="#00f0f0"/>
<circle cx="582.06" cy="413.34" r="1.85" fill="#00f0f0"/>
<circle cx="587.40" cy="416.53" r="1.85" fill="#00f0f0"/>
<circle cx="592.74" cy="419.59" r="1.85" fill="#00f0f0"/>
<circle cx="598.07" cy="422.48" r="1.85" fill="#00f0f0"/>
<circle cx="603.41" cy="425.15" r="1.85" fill="#00f0f0"/>
<circle cx="608.75" cy="427.55" r="1.85" fill="#00f0f0"/>
<circle cx="614.08" cy="429.78" r="1.85" fill="#00f0f0"/>
<circle cx="619.42" cy="431.94" r="1.85" fill="#00f0f0"/>
<circle cx="624.76" cy="434.13" r="1.85" fill="#00f0f0"/>
<circle cx="630.10" cy="436.47" r="1.85" fill="#00f0f0"/>
<circle cx="635.43" cy="439.00" r="1.85" fill="#00f0f0"/>
<circle cx="640.77" cy="441.62" r="1.85" fill="#00f0f0"/>
<circle cx="646.11" cy="444.21" r="1.85" fill="#00f0f0"/>
<circle cx="651.44" cy="446.62" r="1.85" fill="#00f0f0"/>
<circle cx="656.78" cy="448.86" r="1.85" fill="#00f0f0"/>
<circle cx="662.12" cy="451.00" r="1.85" fill="#00f0f0"/>
<circle cx="667.45" cy="453.09" r="1.85" fill="#00f0f0"/>
<circle cx="672.79" cy="455.22" r="1.85" fill="#00f0f0"/>
<path d="M443.30 464.53L448.63 464.55L453.95 464.58L459.28 464.60L464.61 464.62L469.93 464.65L475.26 464.67L480.59 464.68L485.91 464.70L491.24 464.70L496.56 464.64L501.89 464.23L507.22 463.54L512.54 462.15L517.87 459.66L523.20 456.71L528.52 453.12L533.85 448.82L539.18 443.79L544.50 438.24L549.83 431.64L555.16 424.62L560.48 418.55L565.81 413.56L571.14 407.66L576.46 400.78L581.79 393.76L587.12 386.79L592.44 379.77L597.77 372.93L603.09 366.40L608.42 359.92L613.75 353.33L619.07 346.72L624.40 340.25L629.73 333.87L635.05 327.62L640.38 321.68L645.71 316.02L651.03 310.64L656.36 305.59L661.69 300.86L667.01 296.42L672.34 292.31L677.67 288.65L682.99 285.13" fill="none" stroke="#4040e0" stroke-width="0.7"/>
<path d="M443.30 466.53L445.30 463.03L441.30 463.03Z" fill="#0000ff"/>
<path d="M448.63 466.55L450.63 463.05L446.63 463.05Z" fill="#0000ff"/>
<path d="M453.95 466.58L455.95 463.08L451.95 463.08Z" fill="#0000ff"/>
<path d="M459.28 466.60L461.28 463.10L457.28 463.10Z" fill="#0000ff"/>
<path d="M464.61 466.62L466.61 463.12L462.61 463.12Z" fill="#0000ff"/>
<path d="M469.93 466.65L471.93 463.15L467.93 463.15Z" fill="#0000ff"/>
<path d="M475.26 466.67L477.26 463.17L473.26 463.17Z" fill="#0000ff"/>
<path d="M480.59 466.68L482.59 463.18L478.59 463.18Z" fill="#0000ff"/>
<path d="M485.91 466.70L487.91 463.20L483.91 463.20Z" fill="#0000ff"/>
<path d="M491.24 466.70L493.24 463.20L489.24 463.20Z" fill="#0000ff"/>
<path d="M496.56 466.64L498.56 463.14L494.56 463.14Z" fill="#0000ff"/>
<path d="M501.89 466.23L503.89 462.73L499.89 462.73Z" fill="#0000ff"/>
<path d="M507.22 465.54L509.22 462.04L505.22 462.04Z" fill="#0000ff"/>
<path d="M512.54 464.15L514.54 460.65L510.54 460.65Z" fill="#0000ff"/>
<path d="M517.87 461.66L519.87 458.16L515.87 458.16Z" fill="#0000ff"/>
<path d="M523.20 458.71L525.20 455.21L521.20 455.21Z" fill="#0000ff"/>
<path d="M528.52 455.12L530.52 451.62L526.52 451.62Z" fill="#0000ff"/>
<path d="M533.85 450.82L535.85 447.32L531.85 447.32Z" fill="#0000ff"/>
<path d="M539.18 445.79L541.18 442.29L537.18 442.29Z" fill="#0000ff"/>
<path d="M544.50 440.24L546.50 436.74L542.50 436.74Z" fill="#0000ff"/>
<path d="M549.83 433.64L551.83 430.14L547.83 430.14Z" fill="#0000ff"/>
<path d="M555.16 426.62L557.16 423.12L553.16 423.12Z" fill="#0000ff"/>
<path d="M560.48 420.55L562.48 417.05L558.48 417.05Z" fill="#0000ff"/>
<path d="M565.81 415.56L567.81 412.06L563.81 412.06Z" fill="#0000ff"/>
<path d="M571.14 409.66L573.14 406.16L569.14 406.16Z" fill="#0000ff"/>
<path d="M576.46 402.78L578.46 399.28L574.46 399.28Z" fill="#0000ff"/>
<path d="M581.79 395.76L583.79 392.26L579.79 392.26Z" fill="#0000ff"/>
<path d="M587.12 388.79L589.12 385.29L585.12 385.29Z" fill="#0000ff"/>
<path d="M592.44 381.77L594.44 378.27L590.44 378.27Z" fill="#0000ff"/>
<path d="M597.77 374.93L599.77 371.43L595.77 371.43Z" fill="#0000ff"/>
<path d="M603.09 368.40L605.09 364.90L601.09 364.90Z" fill="#0000ff"/>
<path d="M608.42 361.92L610.42 358.42L606.42 358.42Z" fill="#0000ff"/>
<path d="M613.75 355.33L615.75 351.83L611.75 351.83Z" fill="#0000ff"/>
<path d="M619.07 348.72L621.07 345.22L617.07 345.22Z" fill="#0000ff"/>
<path d="M624.40 342.25L626.40 338.75L622.40 338.75Z" fill="#0000ff"/>
<path d="M629.73 335.87L631.73 332.37L627.73 332.37Z" fill="#0000ff"/>
<path d="M635.05 329.62L637.05 326.12L633.05 326.12Z" fill="#0000ff"/>
<path d="M640.38 323.68L642.38 320.18L638.38 320.18Z" fill="#0000ff"/>
<path d="M645.71 318.02L647.71 314.52L643.71 314.52Z" fill="#0000ff"/>
<path d="M651.03 312.64L653.03 309.14L649.03 309.14Z" fill="#0000ff"/>
<path d="M656.36 307.59L658.36 304.09L654.36 304.09Z" fill="#0000ff"/>
<path d="M661.69 302.86L663.69 299.36L659.69 299.36Z" fill="#0000ff"/>
<path d="M667.01 298.42L669.01 294.92L665.01 294.92Z" fill="#0000ff"/>
<path d="M672.34 294.31L674.34 290.81L670.34 290.81Z" fill="#0000ff"/>
<path d="M677.67 290.65L679.67 287.15L675.67 287.15Z" fill="#0000ff"/>
<path d="M682.99 287.13L684.99 283.63L680.99 283.63Z" fill="#0000ff"/>
<path d="M651 319.9H659.15M667.15 319.9H675.3" stroke="#505050" stroke-width="0.7"/>
<rect x="661.75" y="318.50" width="2.80" height="2.80" fill="#000000"/>
<text x="677.8" y="323.4" font-size="10">R<tspan font-size="6.5" dy="3.9">CH'</tspan></text>
<path d="M651 336.6H659.15M667.15 336.6H675.3" stroke="#f06060" stroke-width="0.7"/>
<circle cx="663.15" cy="336.60" r="1.55" fill="#ff0000"/>
<text x="677.8" y="340.1" font-size="10">R<tspan font-size="6.5" dy="3.9">NC</tspan></text>
<path d="M651 353.3H659.15M667.15 353.3H675.3" stroke="#60e060" stroke-width="0.7"/>
<path d="M663.15 351.30L665.15 354.80L661.15 354.80Z" fill="#00ee00"/>
<text x="677.8" y="356.8" font-size="10">R<tspan font-size="6.5" dy="3.9">NH</tspan></text>
<path d="M651 370H659.15M667.15 370H675.3" stroke="#4040e0" stroke-width="0.7"/>
<path d="M663.15 372.00L665.15 368.50L661.15 368.50Z" fill="#0000ff"/>
<text x="677.8" y="373.5" font-size="10">R<tspan font-size="6.5" dy="3.9">NH'</tspan></text>
<path d="M651 386.7H659.15M667.15 386.7H675.3" stroke="#60e8e8" stroke-width="0.7"/>
<circle cx="663.15" cy="386.70" r="1.85" fill="#00f0f0"/>
<text x="677.8" y="390.2" font-size="10">&#952;<tspan font-size="6.5" dy="3.9">CNH'</tspan></text>
<text x="692.90" y="277.80" font-size="14" text-anchor="start" >(d)</text>
<path d="M428 370L438.3 386.3" stroke="#808080" stroke-width="1.6"/>
<path d="M438.3 387.7L460.4 387.7M438.3 384.9L460.4 384.9" stroke="#a0a0a0" stroke-width="1.2"/>
<path d="M460.4 386.3L468.5 402.6" stroke="#808080" stroke-width="1.6"/>
<circle cx="428.0" cy="370.0" r="5" fill="url(#gHll)"/>
<circle cx="438.3" cy="386.3" r="7.5" fill="url(#gCll)"/>
<circle cx="460.4" cy="386.3" r="7.5" fill="url(#gNll)"/>
<circle cx="468.5" cy="402.6" r="5" fill="url(#gHll)"/>
<text x="430.50" y="364.80" font-size="10.2" text-anchor="start" >H</text>
<path d="M438.85 357.08L440.25 357.08L438.75 359.78L438.05 359.78Z" fill="#111"/>
<rect x="544" y="333" width="53" height="60.5" fill="#fff"/>
<path d="M569.4 350.6L552.8 371.5" stroke="#6c6c6c" stroke-width="1.15" stroke-dasharray="2.2 2"/>
<path d="M569.4 350.6L576.3 371.5" stroke="#6c6c6c" stroke-width="1.15" stroke-dasharray="2.2 2"/>
<path d="M552.8 372.9L576.3 372.9M552.8 370.1L576.3 370.1" stroke="#a0a0a0" stroke-width="1.2"/>
<path d="M576.3 371.5L589.8 387.6" stroke="#808080" stroke-width="1.6"/>
<circle cx="569.4" cy="350.6" r="5.5" fill="url(#gHul)"/>
<circle cx="552.8" cy="371.5" r="8" fill="url(#gCul)"/>
<circle cx="576.3" cy="371.5" r="8" fill="url(#gNul)"/>
<circle cx="589.8" cy="387.6" r="5.5" fill="url(#gHul)"/>
<text x="565.70" y="344.60" font-size="10.2" text-anchor="start" >H</text>
<path d="M574.05 336.88L575.45 336.88L573.95 339.58L573.25 339.58Z" fill="#111"/>
<path d="M692.7 427.3L692.7 449.9M695.5 427.3L695.5 449.9" stroke="#a0a0a0" stroke-width="1.2"/>
<path d="M694.1 449.9L680.3 459.2" stroke="#808080" stroke-width="1.6"/>
<path d="M694.1 449.9L708 459.2" stroke="#808080" stroke-width="1.6"/>
<circle cx="694.1" cy="427.3" r="7" fill="url(#gCul)"/>
<circle cx="694.1" cy="449.9" r="7.5" fill="url(#gNul)"/>
<circle cx="680.3" cy="459.2" r="5" fill="url(#gHul)"/>
<circle cx="708.0" cy="459.2" r="5" fill="url(#gHul)"/>
<text x="703.00" y="475.80" font-size="10.2" text-anchor="start" >H</text>
<path d="M711.35 468.08L712.75 468.08L711.25 470.78L710.55 470.78Z" fill="#111"/>
<path d="M37.2 514.3H338V737.8H37.2Z" fill="none" stroke="#4a4a4a" stroke-width="1.2"/>
<path d="M37.00 737.8v4.5M87.10 737.8v4.5M137.20 737.8v4.5M187.30 737.8v4.5M237.40 737.8v4.5M287.50 737.8v4.5M337.60 737.8v4.5M62.05 737.8v2.5M112.15 737.8v2.5M162.25 737.8v2.5M212.35 737.8v2.5M262.45 737.8v2.5M312.55 737.8v2.5M37.2 719.20h-5M37.2 681.80h-5M37.2 644.40h-5M37.2 607.00h-5M37.2 569.60h-5M37.2 532.20h-5M37.2 700.50h-2.5M37.2 663.10h-2.5M37.2 625.70h-2.5M37.2 588.30h-2.5M37.2 550.90h-2.5M338 737.50h-4.5M338 702.90h-4.5M338 668.30h-4.5M338 633.70h-4.5M338 599.10h-4.5M338 564.50h-4.5M338 529.90h-4.5M338 720.20h-2.5M338 685.60h-2.5M338 651.00h-2.5M338 616.40h-2.5M338 581.80h-2.5M338 547.20h-2.5" fill="none" stroke="#404040" stroke-width="1.0"/>
<text x="37.00" y="752.00" font-size="8.5" text-anchor="middle" >-2</text>
<text x="87.10" y="752.00" font-size="8.5" text-anchor="middle" >-1</text>
<text x="137.20" y="752.00" font-size="8.5" text-anchor="middle" >0</text>
<text x="187.30" y="752.00" font-size="8.5" text-anchor="middle" >1</text>
<text x="237.40" y="752.00" font-size="8.5" text-anchor="middle" >2</text>
<text x="287.50" y="752.00" font-size="8.5" text-anchor="middle" >3</text>
<text x="337.60" y="752.00" font-size="8.5" text-anchor="middle" >4</text>
<text x="29.70" y="721.50" font-size="8.5" text-anchor="end" >1,0</text>
<text x="29.70" y="684.10" font-size="8.5" text-anchor="end" >1,5</text>
<text x="29.70" y="646.70" font-size="8.5" text-anchor="end" >2,0</text>
<text x="29.70" y="609.30" font-size="8.5" text-anchor="end" >2,5</text>
<text x="29.70" y="571.90" font-size="8.5" text-anchor="end" >3,0</text>
<text x="29.70" y="534.50" font-size="8.5" text-anchor="end" >3,5</text>
<text x="343.50" y="739.80" font-size="8.5" text-anchor="start" >60</text>
<text x="343.50" y="705.20" font-size="8.5" text-anchor="start" >80</text>
<text x="343.50" y="670.60" font-size="8.5" text-anchor="start" >100</text>
<text x="343.50" y="636.00" font-size="8.5" text-anchor="start" >120</text>
<text x="343.50" y="601.40" font-size="8.5" text-anchor="start" >140</text>
<text x="343.50" y="566.80" font-size="8.5" text-anchor="start" >160</text>
<text x="343.50" y="532.20" font-size="8.5" text-anchor="start" >180</text>
<text transform="translate(8.9,626.6) rotate(-90)" font-size="10.5" text-anchor="middle">Distance (&#197;)</text>
<text transform="translate(369,635) rotate(-90)" font-size="10.6" text-anchor="middle">Angle (degree)</text>
<text x="187.6" y="767.5" font-size="10.5" text-anchor="middle">Reaction Coordinate (&#956;<tspan font-size="5.2" dx="1.6" dy="-4.6">1/2</tspan><tspan dx="0.6" dy="4.6">a</tspan><tspan font-size="5.2" dy="3.4">0</tspan><tspan dy="-3.4">)</tspan></text>
<path d="M73.07 624.17L78.48 619.57L83.88 615.87L89.28 613.57L94.69 611.57L100.09 609.59L105.49 607.62L110.90 605.56L116.30 603.51L121.70 601.56L127.11 599.55L132.51 597.40L137.92 595.17L143.32 592.89L148.72 590.47L154.13 587.86L159.53 585.10L164.93 582.15L170.34 579.15L175.74 576.21L181.14 573.17L186.55 569.96L191.95 566.65L197.36 563.31L202.76 559.90L208.16 556.36L213.57 552.91L218.97 549.65L224.37 546.54L229.78 543.50L235.18 540.74L240.58 538.27L245.99 536.30L251.39 534.87L256.80 533.79L262.20 532.91L267.60 532.19L273.01 531.78L278.41 531.58L283.81 531.44L289.22 531.33L294.62 531.23L300.02 531.11" fill="none" stroke="#60e8e8" stroke-width="0.7"/>
<circle cx="73.07" cy="624.17" r="1.85" fill="#00f0f0"/>
<circle cx="78.48" cy="619.57" r="1.85" fill="#00f0f0"/>
<circle cx="83.88" cy="615.87" r="1.85" fill="#00f0f0"/>
<circle cx="89.28" cy="613.57" r="1.85" fill="#00f0f0"/>
<circle cx="94.69" cy="611.57" r="1.85" fill="#00f0f0"/>
<circle cx="100.09" cy="609.59" r="1.85" fill="#00f0f0"/>
<circle cx="105.49" cy="607.62" r="1.85" fill="#00f0f0"/>
<circle cx="110.90" cy="605.56" r="1.85" fill="#00f0f0"/>
<circle cx="116.30" cy="603.51" r="1.85" fill="#00f0f0"/>
<circle cx="121.70" cy="601.56" r="1.85" fill="#00f0f0"/>
<circle cx="127.11" cy="599.55" r="1.85" fill="#00f0f0"/>
<circle cx="132.51" cy="597.40" r="1.85" fill="#00f0f0"/>
<circle cx="137.92" cy="595.17" r="1.85" fill="#00f0f0"/>
<circle cx="143.32" cy="592.89" r="1.85" fill="#00f0f0"/>
<circle cx="148.72" cy="590.47" r="1.85" fill="#00f0f0"/>
<circle cx="154.13" cy="587.86" r="1.85" fill="#00f0f0"/>
<circle cx="159.53" cy="585.10" r="1.85" fill="#00f0f0"/>
<circle cx="164.93" cy="582.15" r="1.85" fill="#00f0f0"/>
<circle cx="170.34" cy="579.15" r="1.85" fill="#00f0f0"/>
<circle cx="175.74" cy="576.21" r="1.85" fill="#00f0f0"/>
<circle cx="181.14" cy="573.17" r="1.85" fill="#00f0f0"/>
<circle cx="186.55" cy="569.96" r="1.85" fill="#00f0f0"/>
<circle cx="191.95" cy="566.65" r="1.85" fill="#00f0f0"/>
<circle cx="197.36" cy="563.31" r="1.85" fill="#00f0f0"/>
<circle cx="202.76" cy="559.90" r="1.85" fill="#00f0f0"/>
<circle cx="208.16" cy="556.36" r="1.85" fill="#00f0f0"/>
<circle cx="213.57" cy="552.91" r="1.85" fill="#00f0f0"/>
<circle cx="218.97" cy="549.65" r="1.85" fill="#00f0f0"/>
<circle cx="224.37" cy="546.54" r="1.85" fill="#00f0f0"/>
<circle cx="229.78" cy="543.50" r="1.85" fill="#00f0f0"/>
<circle cx="235.18" cy="540.74" r="1.85" fill="#00f0f0"/>
<circle cx="240.58" cy="538.27" r="1.85" fill="#00f0f0"/>
<circle cx="245.99" cy="536.30" r="1.85" fill="#00f0f0"/>
<circle cx="251.39" cy="534.87" r="1.85" fill="#00f0f0"/>
<circle cx="256.80" cy="533.79" r="1.85" fill="#00f0f0"/>
<circle cx="262.20" cy="532.91" r="1.85" fill="#00f0f0"/>
<circle cx="267.60" cy="532.19" r="1.85" fill="#00f0f0"/>
<circle cx="273.01" cy="531.78" r="1.85" fill="#00f0f0"/>
<circle cx="278.41" cy="531.58" r="1.85" fill="#00f0f0"/>
<circle cx="283.81" cy="531.44" r="1.85" fill="#00f0f0"/>
<circle cx="289.22" cy="531.33" r="1.85" fill="#00f0f0"/>
<circle cx="294.62" cy="531.23" r="1.85" fill="#00f0f0"/>
<circle cx="300.02" cy="531.11" r="1.85" fill="#00f0f0"/>
<path d="M73.07 698.13L78.48 699.06L83.88 700.03L89.28 700.95L94.69 701.70L100.09 702.25L105.49 702.74L110.90 703.20L116.30 703.62L121.70 704.00L127.11 704.33L132.51 704.62L137.92 704.85L143.32 705.03L148.72 705.17L154.13 705.29L159.53 705.40L164.93 705.50L170.34 705.59L175.74 705.67L181.14 705.74L186.55 705.81L191.95 705.87L197.36 705.93L202.76 705.98L208.16 706.04L213.57 706.09L218.97 706.14L224.37 706.19L229.78 706.23L235.18 706.27L240.58 706.31L245.99 706.35L251.39 706.39L256.80 706.42L262.20 706.46L267.60 706.49L273.01 706.52L278.41 706.56L283.81 706.59L289.22 706.63L294.62 706.67L300.02 706.70" fill="none" stroke="#505050" stroke-width="0.7"/>
<rect x="71.67" y="696.73" width="2.80" height="2.80" fill="#000000"/>
<rect x="77.08" y="697.66" width="2.80" height="2.80" fill="#000000"/>
<rect x="82.48" y="698.63" width="2.80" height="2.80" fill="#000000"/>
<rect x="87.88" y="699.55" width="2.80" height="2.80" fill="#000000"/>
<rect x="93.29" y="700.30" width="2.80" height="2.80" fill="#000000"/>
<rect x="98.69" y="700.85" width="2.80" height="2.80" fill="#000000"/>
<rect x="104.09" y="701.34" width="2.80" height="2.80" fill="#000000"/>
<rect x="109.50" y="701.80" width="2.80" height="2.80" fill="#000000"/>
<rect x="114.90" y="702.22" width="2.80" height="2.80" fill="#000000"/>
<rect x="120.30" y="702.60" width="2.80" height="2.80" fill="#000000"/>
<rect x="125.71" y="702.93" width="2.80" height="2.80" fill="#000000"/>
<rect x="131.11" y="703.22" width="2.80" height="2.80" fill="#000000"/>
<rect x="136.52" y="703.45" width="2.80" height="2.80" fill="#000000"/>
<rect x="141.92" y="703.63" width="2.80" height="2.80" fill="#000000"/>
<rect x="147.32" y="703.77" width="2.80" height="2.80" fill="#000000"/>
<rect x="152.73" y="703.89" width="2.80" height="2.80" fill="#000000"/>
<rect x="158.13" y="704.00" width="2.80" height="2.80" fill="#000000"/>
<rect x="163.53" y="704.10" width="2.80" height="2.80" fill="#000000"/>
<rect x="168.94" y="704.19" width="2.80" height="2.80" fill="#000000"/>
<rect x="174.34" y="704.27" width="2.80" height="2.80" fill="#000000"/>
<rect x="179.74" y="704.34" width="2.80" height="2.80" fill="#000000"/>
<rect x="185.15" y="704.41" width="2.80" height="2.80" fill="#000000"/>
<rect x="190.55" y="704.47" width="2.80" height="2.80" fill="#000000"/>
<rect x="195.96" y="704.53" width="2.80" height="2.80" fill="#000000"/>
<rect x="201.36" y="704.58" width="2.80" height="2.80" fill="#000000"/>
<rect x="206.76" y="704.64" width="2.80" height="2.80" fill="#000000"/>
<rect x="212.17" y="704.69" width="2.80" height="2.80" fill="#000000"/>
<rect x="217.57" y="704.74" width="2.80" height="2.80" fill="#000000"/>
<rect x="222.97" y="704.79" width="2.80" height="2.80" fill="#000000"/>
<rect x="228.38" y="704.83" width="2.80" height="2.80" fill="#000000"/>
<rect x="233.78" y="704.87" width="2.80" height="2.80" fill="#000000"/>
<rect x="239.18" y="704.91" width="2.80" height="2.80" fill="#000000"/>
<rect x="244.59" y="704.95" width="2.80" height="2.80" fill="#000000"/>
<rect x="249.99" y="704.99" width="2.80" height="2.80" fill="#000000"/>
<rect x="255.40" y="705.02" width="2.80" height="2.80" fill="#000000"/>
<rect x="260.80" y="705.06" width="2.80" height="2.80" fill="#000000"/>
<rect x="266.20" y="705.09" width="2.80" height="2.80" fill="#000000"/>
<rect x="271.61" y="705.12" width="2.80" height="2.80" fill="#000000"/>
<rect x="277.01" y="705.16" width="2.80" height="2.80" fill="#000000"/>
<rect x="282.41" y="705.19" width="2.80" height="2.80" fill="#000000"/>
<rect x="287.82" y="705.23" width="2.80" height="2.80" fill="#000000"/>
<rect x="293.22" y="705.27" width="2.80" height="2.80" fill="#000000"/>
<rect x="298.62" y="705.30" width="2.80" height="2.80" fill="#000000"/>
<path d="M73.07 716.73L78.48 716.85L83.88 716.96L89.28 717.08L94.69 717.20L100.09 717.31L105.49 717.42L110.90 717.53L116.30 717.64L121.70 717.74L127.11 717.85L132.51 717.95L137.92 718.06L143.32 718.15L148.72 718.25L154.13 718.33L159.53 718.41L164.93 718.49L170.34 718.56L175.74 718.62L181.14 718.69L186.55 718.75L191.95 718.81L197.36 718.86L202.76 718.91L208.16 718.95L213.57 718.98L218.97 719.02L224.37 719.04L229.78 719.07L235.18 719.10L240.58 719.12L245.99 719.14L251.39 719.17L256.80 719.19L262.20 719.21L267.60 719.23L273.01 719.24L278.41 719.26L283.81 719.28L289.22 719.30L294.62 719.33L300.02 719.35" fill="none" stroke="#f06060" stroke-width="0.7"/>
<circle cx="73.07" cy="716.73" r="1.55" fill="#ff0000"/>
<circle cx="78.48" cy="716.85" r="1.55" fill="#ff0000"/>
<circle cx="83.88" cy="716.96" r="1.55" fill="#ff0000"/>
<circle cx="89.28" cy="717.08" r="1.55" fill="#ff0000"/>
<circle cx="94.69" cy="717.20" r="1.55" fill="#ff0000"/>
<circle cx="100.09" cy="717.31" r="1.55" fill="#ff0000"/>
<circle cx="105.49" cy="717.42" r="1.55" fill="#ff0000"/>
<circle cx="110.90" cy="717.53" r="1.55" fill="#ff0000"/>
<circle cx="116.30" cy="717.64" r="1.55" fill="#ff0000"/>
<circle cx="121.70" cy="717.74" r="1.55" fill="#ff0000"/>
<circle cx="127.11" cy="717.85" r="1.55" fill="#ff0000"/>
<circle cx="132.51" cy="717.95" r="1.55" fill="#ff0000"/>
<circle cx="137.92" cy="718.06" r="1.55" fill="#ff0000"/>
<circle cx="143.32" cy="718.15" r="1.55" fill="#ff0000"/>
<circle cx="148.72" cy="718.25" r="1.55" fill="#ff0000"/>
<circle cx="154.13" cy="718.33" r="1.55" fill="#ff0000"/>
<circle cx="159.53" cy="718.41" r="1.55" fill="#ff0000"/>
<circle cx="164.93" cy="718.49" r="1.55" fill="#ff0000"/>
<circle cx="170.34" cy="718.56" r="1.55" fill="#ff0000"/>
<circle cx="175.74" cy="718.62" r="1.55" fill="#ff0000"/>
<circle cx="181.14" cy="718.69" r="1.55" fill="#ff0000"/>
<circle cx="186.55" cy="718.75" r="1.55" fill="#ff0000"/>
<circle cx="191.95" cy="718.81" r="1.55" fill="#ff0000"/>
<circle cx="197.36" cy="718.86" r="1.55" fill="#ff0000"/>
<circle cx="202.76" cy="718.91" r="1.55" fill="#ff0000"/>
<circle cx="208.16" cy="718.95" r="1.55" fill="#ff0000"/>
<circle cx="213.57" cy="718.98" r="1.55" fill="#ff0000"/>
<circle cx="218.97" cy="719.02" r="1.55" fill="#ff0000"/>
<circle cx="224.37" cy="719.04" r="1.55" fill="#ff0000"/>
<circle cx="229.78" cy="719.07" r="1.55" fill="#ff0000"/>
<circle cx="235.18" cy="719.10" r="1.55" fill="#ff0000"/>
<circle cx="240.58" cy="719.12" r="1.55" fill="#ff0000"/>
<circle cx="245.99" cy="719.14" r="1.55" fill="#ff0000"/>
<circle cx="251.39" cy="719.17" r="1.55" fill="#ff0000"/>
<circle cx="256.80" cy="719.19" r="1.55" fill="#ff0000"/>
<circle cx="262.20" cy="719.21" r="1.55" fill="#ff0000"/>
<circle cx="267.60" cy="719.23" r="1.55" fill="#ff0000"/>
<circle cx="273.01" cy="719.24" r="1.55" fill="#ff0000"/>
<circle cx="278.41" cy="719.26" r="1.55" fill="#ff0000"/>
<circle cx="283.81" cy="719.28" r="1.55" fill="#ff0000"/>
<circle cx="289.22" cy="719.30" r="1.55" fill="#ff0000"/>
<circle cx="294.62" cy="719.33" r="1.55" fill="#ff0000"/>
<circle cx="300.02" cy="719.35" r="1.55" fill="#ff0000"/>
<path d="M73.07 717.40L78.48 714.06L83.88 710.68L89.28 707.11L94.69 703.38L100.09 699.56L105.49 695.64L110.90 691.64L116.30 687.58L121.70 683.47L127.11 679.31L132.51 675.12L137.92 670.92L143.32 666.63L148.72 662.25L154.13 657.78L159.53 653.26L164.93 648.72L170.34 644.18L175.74 639.67L181.14 635.22L186.55 630.84L191.95 626.56L197.36 622.34L202.76 618.16L208.16 614.01L213.57 609.90L218.97 605.81L224.37 601.75L229.78 597.71L235.18 593.69L240.58 589.68L245.99 585.69L251.39 581.71L256.80 577.74L262.20 573.77L267.60 569.79L273.01 565.82L278.41 561.84L283.81 557.86L289.22 553.86L294.62 549.84L300.02 545.81" fill="none" stroke="#60e060" stroke-width="0.7"/>
<path d="M73.07 715.40L75.07 718.90L71.07 718.90Z" fill="#00ee00"/>
<path d="M78.48 712.06L80.48 715.56L76.48 715.56Z" fill="#00ee00"/>
<path d="M83.88 708.68L85.88 712.18L81.88 712.18Z" fill="#00ee00"/>
<path d="M89.28 705.11L91.28 708.61L87.28 708.61Z" fill="#00ee00"/>
<path d="M94.69 701.38L96.69 704.88L92.69 704.88Z" fill="#00ee00"/>
<path d="M100.09 697.56L102.09 701.06L98.09 701.06Z" fill="#00ee00"/>
<path d="M105.49 693.64L107.49 697.14L103.49 697.14Z" fill="#00ee00"/>
<path d="M110.90 689.64L112.90 693.14L108.90 693.14Z" fill="#00ee00"/>
<path d="M116.30 685.58L118.30 689.08L114.30 689.08Z" fill="#00ee00"/>
<path d="M121.70 681.47L123.70 684.97L119.70 684.97Z" fill="#00ee00"/>
<path d="M127.11 677.31L129.11 680.81L125.11 680.81Z" fill="#00ee00"/>
<path d="M132.51 673.12L134.51 676.62L130.51 676.62Z" fill="#00ee00"/>
<path d="M137.92 668.92L139.92 672.42L135.92 672.42Z" fill="#00ee00"/>
<path d="M143.32 664.63L145.32 668.13L141.32 668.13Z" fill="#00ee00"/>
<path d="M148.72 660.25L150.72 663.75L146.72 663.75Z" fill="#00ee00"/>
<path d="M154.13 655.78L156.13 659.28L152.13 659.28Z" fill="#00ee00"/>
<path d="M159.53 651.26L161.53 654.76L157.53 654.76Z" fill="#00ee00"/>
<path d="M164.93 646.72L166.93 650.22L162.93 650.22Z" fill="#00ee00"/>
<path d="M170.34 642.18L172.34 645.68L168.34 645.68Z" fill="#00ee00"/>
<path d="M175.74 637.67L177.74 641.17L173.74 641.17Z" fill="#00ee00"/>
<path d="M181.14 633.22L183.14 636.72L179.14 636.72Z" fill="#00ee00"/>
<path d="M186.55 628.84L188.55 632.34L184.55 632.34Z" fill="#00ee00"/>
<path d="M191.95 624.56L193.95 628.06L189.95 628.06Z" fill="#00ee00"/>
<path d="M197.36 620.34L199.36 623.84L195.36 623.84Z" fill="#00ee00"/>
<path d="M202.76 616.16L204.76 619.66L200.76 619.66Z" fill="#00ee00"/>
<path d="M208.16 612.01L210.16 615.51L206.16 615.51Z" fill="#00ee00"/>
<path d="M213.57 607.90L215.57 611.40L211.57 611.40Z" fill="#00ee00"/>
<path d="M218.97 603.81L220.97 607.31L216.97 607.31Z" fill="#00ee00"/>
<path d="M224.37 599.75L226.37 603.25L222.37 603.25Z" fill="#00ee00"/>
<path d="M229.78 595.71L231.78 599.21L227.78 599.21Z" fill="#00ee00"/>
<path d="M235.18 591.69L237.18 595.19L233.18 595.19Z" fill="#00ee00"/>
<path d="M240.58 587.68L242.58 591.18L238.58 591.18Z" fill="#00ee00"/>
<path d="M245.99 583.69L247.99 587.19L243.99 587.19Z" fill="#00ee00"/>
<path d="M251.39 579.71L253.39 583.21L249.39 583.21Z" fill="#00ee00"/>
<path d="M256.80 575.74L258.80 579.24L254.80 579.24Z" fill="#00ee00"/>
<path d="M262.20 571.77L264.20 575.27L260.20 575.27Z" fill="#00ee00"/>
<path d="M267.60 567.79L269.60 571.29L265.60 571.29Z" fill="#00ee00"/>
<path d="M273.01 563.82L275.01 567.32L271.01 567.32Z" fill="#00ee00"/>
<path d="M278.41 559.84L280.41 563.34L276.41 563.34Z" fill="#00ee00"/>
<path d="M283.81 555.86L285.81 559.36L281.81 559.36Z" fill="#00ee00"/>
<path d="M289.22 551.86L291.22 555.36L287.22 555.36Z" fill="#00ee00"/>
<path d="M294.62 547.84L296.62 551.34L292.62 551.34Z" fill="#00ee00"/>
<path d="M300.02 543.81L302.02 547.31L298.02 547.31Z" fill="#00ee00"/>
<path d="M73.07 646.48L78.48 652.21L83.88 656.83L89.28 660.19L94.69 662.91L100.09 665.12L105.49 666.93L110.90 668.61L116.30 670.38L121.70 672.14L127.11 673.90L132.51 675.72L137.92 677.57L143.32 679.37L148.72 681.00L154.13 682.52L159.53 684.16L164.93 686.11L170.34 688.29L175.74 690.64L181.14 693.22L186.55 696.01L191.95 698.72L197.36 701.23L202.76 703.66L208.16 706.14L213.57 708.81L218.97 711.49L224.37 713.89L229.78 716.12L235.18 718.10L240.58 719.55L245.99 720.69L251.39 721.55L256.80 722.00L262.20 722.21L267.60 722.35L273.01 722.50L278.41 722.64L283.81 722.77L289.22 722.89L294.62 723.01L300.02 723.14" fill="none" stroke="#4040e0" stroke-width="0.7"/>
<path d="M73.07 644.63L74.92 646.48L73.07 648.33L71.22 646.48Z" fill="#0000ff"/>
<path d="M78.48 650.36L80.33 652.21L78.48 654.06L76.63 652.21Z" fill="#0000ff"/>
<path d="M83.88 654.98L85.73 656.83L83.88 658.68L82.03 656.83Z" fill="#0000ff"/>
<path d="M89.28 658.34L91.13 660.19L89.28 662.04L87.43 660.19Z" fill="#0000ff"/>
<path d="M94.69 661.06L96.54 662.91L94.69 664.76L92.84 662.91Z" fill="#0000ff"/>
<path d="M100.09 663.27L101.94 665.12L100.09 666.97L98.24 665.12Z" fill="#0000ff"/>
<path d="M105.49 665.08L107.34 666.93L105.49 668.78L103.64 666.93Z" fill="#0000ff"/>
<path d="M110.90 666.76L112.75 668.61L110.90 670.46L109.05 668.61Z" fill="#0000ff"/>
<path d="M116.30 668.53L118.15 670.38L116.30 672.23L114.45 670.38Z" fill="#0000ff"/>
<path d="M121.70 670.29L123.55 672.14L121.70 673.99L119.85 672.14Z" fill="#0000ff"/>
<path d="M127.11 672.05L128.96 673.90L127.11 675.75L125.26 673.90Z" fill="#0000ff"/>
<path d="M132.51 673.87L134.36 675.72L132.51 677.57L130.66 675.72Z" fill="#0000ff"/>
<path d="M137.92 675.72L139.77 677.57L137.92 679.42L136.07 677.57Z" fill="#0000ff"/>
<path d="M143.32 677.52L145.17 679.37L143.32 681.22L141.47 679.37Z" fill="#0000ff"/>
<path d="M148.72 679.15L150.57 681.00L148.72 682.85L146.87 681.00Z" fill="#0000ff"/>
<path d="M154.13 680.67L155.98 682.52L154.13 684.37L152.28 682.52Z" fill="#0000ff"/>
<path d="M159.53 682.31L161.38 684.16L159.53 686.01L157.68 684.16Z" fill="#0000ff"/>
<path d="M164.93 684.26L166.78 686.11L164.93 687.96L163.08 686.11Z" fill="#0000ff"/>
<path d="M170.34 686.44L172.19 688.29L170.34 690.14L168.49 688.29Z" fill="#0000ff"/>
<path d="M175.74 688.79L177.59 690.64L175.74 692.49L173.89 690.64Z" fill="#0000ff"/>
<path d="M181.14 691.37L182.99 693.22L181.14 695.07L179.29 693.22Z" fill="#0000ff"/>
<path d="M186.55 694.16L188.40 696.01L186.55 697.86L184.70 696.01Z" fill="#0000ff"/>
<path d="M191.95 696.87L193.80 698.72L191.95 700.57L190.10 698.72Z" fill="#0000ff"/>
<path d="M197.36 699.38L199.21 701.23L197.36 703.08L195.51 701.23Z" fill="#0000ff"/>
<path d="M202.76 701.81L204.61 703.66L202.76 705.51L200.91 703.66Z" fill="#0000ff"/>
<path d="M208.16 704.29L210.01 706.14L208.16 707.99L206.31 706.14Z" fill="#0000ff"/>
<path d="M213.57 706.96L215.42 708.81L213.57 710.66L211.72 708.81Z" fill="#0000ff"/>
<path d="M218.97 709.64L220.82 711.49L218.97 713.34L217.12 711.49Z" fill="#0000ff"/>
<path d="M224.37 712.04L226.22 713.89L224.37 715.74L222.52 713.89Z" fill="#0000ff"/>
<path d="M229.78 714.27L231.63 716.12L229.78 717.97L227.93 716.12Z" fill="#0000ff"/>
<path d="M235.18 716.25L237.03 718.10L235.18 719.95L233.33 718.10Z" fill="#0000ff"/>
<path d="M240.58 717.70L242.43 719.55L240.58 721.40L238.73 719.55Z" fill="#0000ff"/>
<path d="M245.99 718.84L247.84 720.69L245.99 722.54L244.14 720.69Z" fill="#0000ff"/>
<path d="M251.39 719.70L253.24 721.55L251.39 723.40L249.54 721.55Z" fill="#0000ff"/>
<path d="M256.80 720.15L258.65 722.00L256.80 723.85L254.95 722.00Z" fill="#0000ff"/>
<path d="M262.20 720.36L264.05 722.21L262.20 724.06L260.35 722.21Z" fill="#0000ff"/>
<path d="M267.60 720.50L269.45 722.35L267.60 724.20L265.75 722.35Z" fill="#0000ff"/>
<path d="M273.01 720.65L274.86 722.50L273.01 724.35L271.16 722.50Z" fill="#0000ff"/>
<path d="M278.41 720.79L280.26 722.64L278.41 724.49L276.56 722.64Z" fill="#0000ff"/>
<path d="M283.81 720.92L285.66 722.77L283.81 724.62L281.96 722.77Z" fill="#0000ff"/>
<path d="M289.22 721.04L291.07 722.89L289.22 724.74L287.37 722.89Z" fill="#0000ff"/>
<path d="M294.62 721.16L296.47 723.01L294.62 724.86L292.77 723.01Z" fill="#0000ff"/>
<path d="M300.02 721.29L301.88 723.14L300.02 724.99L298.17 723.14Z" fill="#0000ff"/>
<path d="M269.1 581H276.8M284.8 581H292.5" stroke="#505050" stroke-width="0.7"/>
<rect x="279.40" y="579.60" width="2.80" height="2.80" fill="#000000"/>
<text x="295.7" y="584.5" font-size="10">R<tspan font-size="6.5" dy="3.9">NC</tspan></text>
<path d="M269.1 597.7H276.8M284.8 597.7H292.5" stroke="#f06060" stroke-width="0.7"/>
<circle cx="280.80" cy="597.70" r="1.55" fill="#ff0000"/>
<text x="295.7" y="601.2" font-size="10">R<tspan font-size="6.5" dy="3.9">NH</tspan></text>
<path d="M269.1 614.4H276.8M284.8 614.4H292.5" stroke="#60e060" stroke-width="0.7"/>
<path d="M280.80 612.40L282.80 615.90L278.80 615.90Z" fill="#00ee00"/>
<text x="295.7" y="617.9" font-size="10">R<tspan font-size="6.5" dy="3.9">NH'</tspan></text>
<path d="M269.1 631.1H276.8M284.8 631.1H292.5" stroke="#4040e0" stroke-width="0.7"/>
<path d="M280.80 629.25L282.65 631.10L280.80 632.95L278.95 631.10Z" fill="#0000ff"/>
<text x="295.7" y="634.6" font-size="10">&#952;<tspan font-size="6.5" dy="3.9">HNH'</tspan></text>
<path d="M269.1 647.8H276.8M284.8 647.8H292.5" stroke="#60e8e8" stroke-width="0.7"/>
<circle cx="280.80" cy="647.80" r="1.85" fill="#00f0f0"/>
<text x="295.7" y="651.3" font-size="10">&#952;<tspan font-size="6.5" dy="3.9">CNH</tspan></text>
<text x="309.40" y="539.30" font-size="14" text-anchor="start" >(e)</text>
<path d="M55.3 564.2L76.6 564.7M55.3 561.4L76.6 561.9" stroke="#a0a0a0" stroke-width="1.2"/>
<path d="M76.6 563.3L86.7 549.7" stroke="#808080" stroke-width="1.6"/>
<path d="M76.6 563.3L85.9 577.9" stroke="#808080" stroke-width="1.6"/>
<circle cx="55.3" cy="562.8" r="7" fill="url(#gCur)"/>
<circle cx="76.6" cy="563.3" r="7" fill="url(#gNur)"/>
<circle cx="86.7" cy="549.7" r="4.5" fill="url(#gHur)"/>
<circle cx="85.9" cy="577.9" r="4.5" fill="url(#gHur)"/>
<text x="81.70" y="541.80" font-size="10.2" text-anchor="start" >H</text>
<path d="M90.05 534.08L91.45 534.08L89.95 536.78L89.25 536.78Z" fill="#111"/>
<rect x="119" y="606" width="44" height="50" fill="#fff"/>
<path d="M129.4 613.5L137.7 640.6" stroke="#6c6c6c" stroke-width="1.15" stroke-dasharray="2.2 2"/>
<path d="M121.9 647.1L137.7 640.6" stroke="#808080" stroke-width="1.6"/>
<path d="M137.4 642.0L156.0 646.0M138.0 639.2L156.6 643.2" stroke="#a0a0a0" stroke-width="1.2"/>
<circle cx="129.4" cy="613.5" r="4.5" fill="url(#gHul)"/>
<circle cx="121.9" cy="647.1" r="5" fill="url(#gHul)"/>
<circle cx="137.7" cy="640.6" r="7" fill="url(#gNul)"/>
<circle cx="156.3" cy="644.6" r="7" fill="url(#gCul)"/>
<text x="137.00" y="618.80" font-size="10.2" text-anchor="start" >H</text>
<path d="M145.35 611.08L146.75 611.08L145.25 613.78L144.55 613.78Z" fill="#111"/>
<path d="M269.1 691.7L288.8 691.7" stroke="#808080" stroke-width="1.6"/>
<path d="M288.8 691.7L311.1 691.7" stroke="#b8b8b8" stroke-width="2.8"/><path d="M288.8 691.7L311.1 691.7" stroke="#9a9a9a" stroke-width="0.8"/>
<circle cx="269.1" cy="691.7" r="5.5" fill="url(#gHul)"/>
<circle cx="288.8" cy="691.7" r="8" fill="url(#gNul)"/>
<circle cx="311.1" cy="691.7" r="8" fill="url(#gCul)"/>
<text x="237.30" y="694.80" font-size="10.2" text-anchor="start" >H</text>
<path d="M245.65 687.08L247.05 687.08L245.55 689.78L244.85 689.78Z" fill="#111"/>
<text x="249.90" y="694.80" font-size="10.2" text-anchor="start" >+</text>
<path d="M418.2 523.1H720V738.5H418.2Z" fill="none" stroke="#4a4a4a" stroke-width="1.2"/>
<path d="M444.05 738.5v4.5M494.30 738.5v4.5M544.55 738.5v4.5M594.80 738.5v4.5M645.05 738.5v4.5M695.30 738.5v4.5M469.17 738.5v2.5M519.42 738.5v2.5M569.67 738.5v2.5M619.92 738.5v2.5M670.17 738.5v2.5M418.2 716.20h-5M418.2 673.35h-5M418.2 630.50h-5M418.2 587.65h-5M418.2 544.80h-5M418.2 694.78h-2.5M418.2 651.93h-2.5M418.2 609.08h-2.5M418.2 566.23h-2.5M720 724.64h-4.5M720 699.40h-4.5M720 674.16h-4.5M720 648.92h-4.5M720 623.68h-4.5M720 598.44h-4.5M720 573.20h-4.5M720 547.96h-4.5M720 522.72h-4.5M720 712.02h-2.5M720 686.78h-2.5M720 661.54h-2.5M720 636.30h-2.5M720 611.06h-2.5M720 585.82h-2.5M720 560.58h-2.5M720 535.34h-2.5" fill="none" stroke="#404040" stroke-width="1.0"/>
<text x="444.05" y="752.70" font-size="8.5" text-anchor="middle" >-3</text>
<text x="494.30" y="752.70" font-size="8.5" text-anchor="middle" >-2</text>
<text x="544.55" y="752.70" font-size="8.5" text-anchor="middle" >-1</text>
<text x="594.80" y="752.70" font-size="8.5" text-anchor="middle" >0</text>
<text x="645.05" y="752.70" font-size="8.5" text-anchor="middle" >1</text>
<text x="695.30" y="752.70" font-size="8.5" text-anchor="middle" >2</text>
<text x="410.70" y="718.50" font-size="8.5" text-anchor="end" >1,0</text>
<text x="410.70" y="675.65" font-size="8.5" text-anchor="end" >1,5</text>
<text x="410.70" y="632.80" font-size="8.5" text-anchor="end" >2,0</text>
<text x="410.70" y="589.95" font-size="8.5" text-anchor="end" >2,5</text>
<text x="410.70" y="547.10" font-size="8.5" text-anchor="end" >3,0</text>
<text x="725.50" y="726.94" font-size="8.5" text-anchor="start" >-20</text>
<text x="725.50" y="701.70" font-size="8.5" text-anchor="start" >0</text>
<text x="725.50" y="676.46" font-size="8.5" text-anchor="start" >20</text>
<text x="725.50" y="651.22" font-size="8.5" text-anchor="start" >40</text>
<text x="725.50" y="625.98" font-size="8.5" text-anchor="start" >60</text>
<text x="725.50" y="600.74" font-size="8.5" text-anchor="start" >80</text>
<text x="725.50" y="575.50" font-size="8.5" text-anchor="start" >100</text>
<text x="725.50" y="550.26" font-size="8.5" text-anchor="start" >120</text>
<text x="725.50" y="525.02" font-size="8.5" text-anchor="start" >140</text>
<text transform="translate(395.3,630) rotate(-90)" font-size="10.5" text-anchor="middle">Distance (&#197;)</text>
<text transform="translate(752.5,636) rotate(-90)" font-size="10.6" text-anchor="middle">Angle (degree)</text>
<text x="569.4" y="766.3" font-size="10.5" text-anchor="middle">Reaction Coordinate (&#956;<tspan font-size="5.2" dx="1.6" dy="-4.6">1/2</tspan><tspan dx="0.6" dy="4.6">a</tspan><tspan font-size="5.2" dy="3.4">0</tspan><tspan dy="-3.4">)</tspan></text>
<path d="M457.62 546.32L462.89 546.54L468.17 546.76L473.45 546.93L478.72 547.05L484.00 547.16L489.27 547.26L494.55 547.35L499.83 547.43L505.10 547.50L510.38 547.55L515.66 547.58L520.93 547.58L526.21 547.56L531.48 547.52L536.76 547.47L542.04 547.39L547.31 547.31L552.59 547.21L557.87 547.11L563.14 546.99L568.42 546.88L573.69 546.76L578.97 546.64L584.25 546.53L589.52 546.42L594.80 546.32L600.08 546.22L605.35 546.12L610.63 546.02L615.90 545.92L621.18 545.82L626.46 545.71L631.73 545.61L637.01 545.50L642.29 545.39L647.56 545.29L652.84 545.18L658.11 545.07L663.39 544.96L668.67 544.85L673.94 544.75L679.22 544.64L684.50 544.53L689.77 544.43" fill="none" stroke="#60e8e8" stroke-width="0.7"/>
<circle cx="457.62" cy="546.32" r="1.85" fill="#00f0f0"/>
<circle cx="462.89" cy="546.54" r="1.85" fill="#00f0f0"/>
<circle cx="468.17" cy="546.76" r="1.85" fill="#00f0f0"/>
<circle cx="473.45" cy="546.93" r="1.85" fill="#00f0f0"/>
<circle cx="478.72" cy="547.05" r="1.85" fill="#00f0f0"/>
<circle cx="484.00" cy="547.16" r="1.85" fill="#00f0f0"/>
<circle cx="489.27" cy="547.26" r="1.85" fill="#00f0f0"/>
<circle cx="494.55" cy="547.35" r="1.85" fill="#00f0f0"/>
<circle cx="499.83" cy="547.43" r="1.85" fill="#00f0f0"/>
<circle cx="505.10" cy="547.50" r="1.85" fill="#00f0f0"/>
<circle cx="510.38" cy="547.55" r="1.85" fill="#00f0f0"/>
<circle cx="515.66" cy="547.58" r="1.85" fill="#00f0f0"/>
<circle cx="520.93" cy="547.58" r="1.85" fill="#00f0f0"/>
<circle cx="526.21" cy="547.56" r="1.85" fill="#00f0f0"/>
<circle cx="531.48" cy="547.52" r="1.85" fill="#00f0f0"/>
<circle cx="536.76" cy="547.47" r="1.85" fill="#00f0f0"/>
<circle cx="542.04" cy="547.39" r="1.85" fill="#00f0f0"/>
<circle cx="547.31" cy="547.31" r="1.85" fill="#00f0f0"/>
<circle cx="552.59" cy="547.21" r="1.85" fill="#00f0f0"/>
<circle cx="557.87" cy="547.11" r="1.85" fill="#00f0f0"/>
<circle cx="563.14" cy="546.99" r="1.85" fill="#00f0f0"/>
<circle cx="568.42" cy="546.88" r="1.85" fill="#00f0f0"/>
<circle cx="573.69" cy="546.76" r="1.85" fill="#00f0f0"/>
<circle cx="578.97" cy="546.64" r="1.85" fill="#00f0f0"/>
<circle cx="584.25" cy="546.53" r="1.85" fill="#00f0f0"/>
<circle cx="589.52" cy="546.42" r="1.85" fill="#00f0f0"/>
<circle cx="594.80" cy="546.32" r="1.85" fill="#00f0f0"/>
<circle cx="600.08" cy="546.22" r="1.85" fill="#00f0f0"/>
<circle cx="605.35" cy="546.12" r="1.85" fill="#00f0f0"/>
<circle cx="610.63" cy="546.02" r="1.85" fill="#00f0f0"/>
<circle cx="615.90" cy="545.92" r="1.85" fill="#00f0f0"/>
<circle cx="621.18" cy="545.82" r="1.85" fill="#00f0f0"/>
<circle cx="626.46" cy="545.71" r="1.85" fill="#00f0f0"/>
<circle cx="631.73" cy="545.61" r="1.85" fill="#00f0f0"/>
<circle cx="637.01" cy="545.50" r="1.85" fill="#00f0f0"/>
<circle cx="642.29" cy="545.39" r="1.85" fill="#00f0f0"/>
<circle cx="647.56" cy="545.29" r="1.85" fill="#00f0f0"/>
<circle cx="652.84" cy="545.18" r="1.85" fill="#00f0f0"/>
<circle cx="658.11" cy="545.07" r="1.85" fill="#00f0f0"/>
<circle cx="663.39" cy="544.96" r="1.85" fill="#00f0f0"/>
<circle cx="668.67" cy="544.85" r="1.85" fill="#00f0f0"/>
<circle cx="673.94" cy="544.75" r="1.85" fill="#00f0f0"/>
<circle cx="679.22" cy="544.64" r="1.85" fill="#00f0f0"/>
<circle cx="684.50" cy="544.53" r="1.85" fill="#00f0f0"/>
<circle cx="689.77" cy="544.43" r="1.85" fill="#00f0f0"/>
<path d="M457.62 537.60L462.89 542.44L468.17 547.27L473.45 552.11L478.72 556.94L484.00 561.78L489.27 566.61L494.55 571.45L499.83 576.28L505.10 581.12L510.38 585.95L515.66 590.79L520.93 595.62L526.21 600.46L531.48 605.29L536.76 610.13L542.04 614.96L547.31 619.80L552.59 624.63L557.87 629.47L563.14 634.30L568.42 639.14L573.69 643.97L578.97 648.81L584.25 653.65L589.52 658.48L594.80 663.32L600.08 668.15L605.35 672.99L610.63 677.82L615.90 682.66L621.18 687.49L626.46 692.33L631.73 697.16L637.01 702.00L642.29 706.77L647.56 710.16L652.84 712.20L658.11 712.95L663.39 713.02L668.67 713.09L673.94 713.16L679.22 713.23L684.50 713.30L689.77 713.37" fill="none" stroke="#60e060" stroke-width="0.7"/>
<path d="M457.62 535.60L459.62 539.10L455.62 539.10Z" fill="#00ee00"/>
<path d="M462.89 540.44L464.89 543.94L460.89 543.94Z" fill="#00ee00"/>
<path d="M468.17 545.27L470.17 548.77L466.17 548.77Z" fill="#00ee00"/>
<path d="M473.45 550.11L475.45 553.61L471.45 553.61Z" fill="#00ee00"/>
<path d="M478.72 554.94L480.72 558.44L476.72 558.44Z" fill="#00ee00"/>
<path d="M484.00 559.78L486.00 563.28L482.00 563.28Z" fill="#00ee00"/>
<path d="M489.27 564.61L491.27 568.11L487.27 568.11Z" fill="#00ee00"/>
<path d="M494.55 569.45L496.55 572.95L492.55 572.95Z" fill="#00ee00"/>
<path d="M499.83 574.28L501.83 577.78L497.83 577.78Z" fill="#00ee00"/>
<path d="M505.10 579.12L507.10 582.62L503.10 582.62Z" fill="#00ee00"/>
<path d="M510.38 583.95L512.38 587.45L508.38 587.45Z" fill="#00ee00"/>
<path d="M515.66 588.79L517.66 592.29L513.66 592.29Z" fill="#00ee00"/>
<path d="M520.93 593.62L522.93 597.12L518.93 597.12Z" fill="#00ee00"/>
<path d="M526.21 598.46L528.21 601.96L524.21 601.96Z" fill="#00ee00"/>
<path d="M531.48 603.29L533.48 606.79L529.48 606.79Z" fill="#00ee00"/>
<path d="M536.76 608.13L538.76 611.63L534.76 611.63Z" fill="#00ee00"/>
<path d="M542.04 612.96L544.04 616.46L540.04 616.46Z" fill="#00ee00"/>
<path d="M547.31 617.80L549.31 621.30L545.31 621.30Z" fill="#00ee00"/>
<path d="M552.59 622.63L554.59 626.13L550.59 626.13Z" fill="#00ee00"/>
<path d="M557.87 627.47L559.87 630.97L555.87 630.97Z" fill="#00ee00"/>
<path d="M563.14 632.30L565.14 635.80L561.14 635.80Z" fill="#00ee00"/>
<path d="M568.42 637.14L570.42 640.64L566.42 640.64Z" fill="#00ee00"/>
<path d="M573.69 641.97L575.69 645.47L571.69 645.47Z" fill="#00ee00"/>
<path d="M578.97 646.81L580.97 650.31L576.97 650.31Z" fill="#00ee00"/>
<path d="M584.25 651.65L586.25 655.15L582.25 655.15Z" fill="#00ee00"/>
<path d="M589.52 656.48L591.52 659.98L587.52 659.98Z" fill="#00ee00"/>
<path d="M594.80 661.32L596.80 664.82L592.80 664.82Z" fill="#00ee00"/>
<path d="M600.08 666.15L602.08 669.65L598.08 669.65Z" fill="#00ee00"/>
<path d="M605.35 670.99L607.35 674.49L603.35 674.49Z" fill="#00ee00"/>
<path d="M610.63 675.82L612.63 679.32L608.63 679.32Z" fill="#00ee00"/>
<path d="M615.90 680.66L617.90 684.16L613.90 684.16Z" fill="#00ee00"/>
<path d="M621.18 685.49L623.18 688.99L619.18 688.99Z" fill="#00ee00"/>
<path d="M626.46 690.33L628.46 693.83L624.46 693.83Z" fill="#00ee00"/>
<path d="M631.73 695.16L633.73 698.66L629.73 698.66Z" fill="#00ee00"/>
<path d="M637.01 700.00L639.01 703.50L635.01 703.50Z" fill="#00ee00"/>
<path d="M642.29 704.77L644.29 708.27L640.29 708.27Z" fill="#00ee00"/>
<path d="M647.56 708.16L649.56 711.66L645.56 711.66Z" fill="#00ee00"/>
<path d="M652.84 710.20L654.84 713.70L650.84 713.70Z" fill="#00ee00"/>
<path d="M658.11 710.95L660.11 714.45L656.11 714.45Z" fill="#00ee00"/>
<path d="M663.39 711.02L665.39 714.52L661.39 714.52Z" fill="#00ee00"/>
<path d="M668.67 711.09L670.67 714.59L666.67 714.59Z" fill="#00ee00"/>
<path d="M673.94 711.16L675.94 714.66L671.94 714.66Z" fill="#00ee00"/>
<path d="M679.22 711.23L681.22 714.73L677.22 714.73Z" fill="#00ee00"/>
<path d="M684.50 711.30L686.50 714.80L682.50 714.80Z" fill="#00ee00"/>
<path d="M689.77 711.37L691.77 714.87L687.77 714.87Z" fill="#00ee00"/>
<path d="M457.62 703.60L462.89 703.59L468.17 703.57L473.45 703.56L478.72 703.55L484.00 703.54L489.27 703.53L494.55 703.52L499.83 703.51L505.10 703.50L510.38 703.49L515.66 703.47L520.93 703.45L526.21 703.44L531.48 703.41L536.76 703.39L542.04 703.36L547.31 703.31L552.59 703.18L557.87 702.97L563.14 702.69L568.42 702.37L573.69 702.00L578.97 701.62L584.25 701.24L589.52 700.86L594.80 700.52L600.08 700.15L605.35 699.73L610.63 699.29L615.90 698.85L621.18 698.45L626.46 698.11L631.73 697.86L637.01 697.74L642.29 697.65L647.56 697.57L652.84 697.51L658.11 697.45L663.39 697.41L668.67 697.36L673.94 697.32L679.22 697.28L684.50 697.23L689.77 697.17" fill="none" stroke="#505050" stroke-width="0.7"/>
<rect x="456.22" y="702.20" width="2.80" height="2.80" fill="#000000"/>
<rect x="461.49" y="702.19" width="2.80" height="2.80" fill="#000000"/>
<rect x="466.77" y="702.17" width="2.80" height="2.80" fill="#000000"/>
<rect x="472.05" y="702.16" width="2.80" height="2.80" fill="#000000"/>
<rect x="477.32" y="702.15" width="2.80" height="2.80" fill="#000000"/>
<rect x="482.60" y="702.14" width="2.80" height="2.80" fill="#000000"/>
<rect x="487.88" y="702.13" width="2.80" height="2.80" fill="#000000"/>
<rect x="493.15" y="702.12" width="2.80" height="2.80" fill="#000000"/>
<rect x="498.43" y="702.11" width="2.80" height="2.80" fill="#000000"/>
<rect x="503.70" y="702.10" width="2.80" height="2.80" fill="#000000"/>
<rect x="508.98" y="702.09" width="2.80" height="2.80" fill="#000000"/>
<rect x="514.26" y="702.07" width="2.80" height="2.80" fill="#000000"/>
<rect x="519.53" y="702.05" width="2.80" height="2.80" fill="#000000"/>
<rect x="524.81" y="702.04" width="2.80" height="2.80" fill="#000000"/>
<rect x="530.08" y="702.01" width="2.80" height="2.80" fill="#000000"/>
<rect x="535.36" y="701.99" width="2.80" height="2.80" fill="#000000"/>
<rect x="540.64" y="701.96" width="2.80" height="2.80" fill="#000000"/>
<rect x="545.91" y="701.91" width="2.80" height="2.80" fill="#000000"/>
<rect x="551.19" y="701.78" width="2.80" height="2.80" fill="#000000"/>
<rect x="556.47" y="701.57" width="2.80" height="2.80" fill="#000000"/>
<rect x="561.74" y="701.29" width="2.80" height="2.80" fill="#000000"/>
<rect x="567.02" y="700.97" width="2.80" height="2.80" fill="#000000"/>
<rect x="572.29" y="700.60" width="2.80" height="2.80" fill="#000000"/>
<rect x="577.57" y="700.22" width="2.80" height="2.80" fill="#000000"/>
<rect x="582.85" y="699.84" width="2.80" height="2.80" fill="#000000"/>
<rect x="588.12" y="699.46" width="2.80" height="2.80" fill="#000000"/>
<rect x="593.40" y="699.12" width="2.80" height="2.80" fill="#000000"/>
<rect x="598.68" y="698.75" width="2.80" height="2.80" fill="#000000"/>
<rect x="603.95" y="698.33" width="2.80" height="2.80" fill="#000000"/>
<rect x="609.23" y="697.89" width="2.80" height="2.80" fill="#000000"/>
<rect x="614.50" y="697.45" width="2.80" height="2.80" fill="#000000"/>
<rect x="619.78" y="697.05" width="2.80" height="2.80" fill="#000000"/>
<rect x="625.06" y="696.71" width="2.80" height="2.80" fill="#000000"/>
<rect x="630.33" y="696.46" width="2.80" height="2.80" fill="#000000"/>
<rect x="635.61" y="696.34" width="2.80" height="2.80" fill="#000000"/>
<rect x="640.89" y="696.25" width="2.80" height="2.80" fill="#000000"/>
<rect x="646.16" y="696.17" width="2.80" height="2.80" fill="#000000"/>
<rect x="651.44" y="696.11" width="2.80" height="2.80" fill="#000000"/>
<rect x="656.71" y="696.05" width="2.80" height="2.80" fill="#000000"/>
<rect x="661.99" y="696.01" width="2.80" height="2.80" fill="#000000"/>
<rect x="667.27" y="695.96" width="2.80" height="2.80" fill="#000000"/>
<rect x="672.54" y="695.92" width="2.80" height="2.80" fill="#000000"/>
<rect x="677.82" y="695.88" width="2.80" height="2.80" fill="#000000"/>
<rect x="683.10" y="695.83" width="2.80" height="2.80" fill="#000000"/>
<rect x="688.37" y="695.77" width="2.80" height="2.80" fill="#000000"/>
<path d="M457.62 710.89L462.89 710.88L468.17 710.87L473.45 710.86L478.72 710.85L484.00 710.85L489.27 710.84L494.55 710.83L499.83 710.83L505.10 710.82L510.38 710.81L515.66 710.81L520.93 710.80L526.21 710.79L531.48 710.78L536.76 710.78L542.04 710.77L547.31 710.76L552.59 710.75L557.87 710.74L563.14 710.73L568.42 710.71L573.69 710.70L578.97 710.68L584.25 710.67L589.52 710.65L594.80 710.63L600.08 710.60L605.35 710.55L610.63 710.48L615.90 710.40L621.18 710.31L626.46 710.20L631.73 710.09L637.01 709.97L642.29 709.84L647.56 709.71L652.84 709.54L658.11 709.34L663.39 709.11L668.67 708.87L673.94 708.62L679.22 708.37L684.50 708.12L689.77 707.89" fill="none" stroke="#f06060" stroke-width="0.7"/>
<circle cx="457.62" cy="710.89" r="1.55" fill="#ff0000"/>
<circle cx="462.89" cy="710.88" r="1.55" fill="#ff0000"/>
<circle cx="468.17" cy="710.87" r="1.55" fill="#ff0000"/>
<circle cx="473.45" cy="710.86" r="1.55" fill="#ff0000"/>
<circle cx="478.72" cy="710.85" r="1.55" fill="#ff0000"/>
<circle cx="484.00" cy="710.85" r="1.55" fill="#ff0000"/>
<circle cx="489.27" cy="710.84" r="1.55" fill="#ff0000"/>
<circle cx="494.55" cy="710.83" r="1.55" fill="#ff0000"/>
<circle cx="499.83" cy="710.83" r="1.55" fill="#ff0000"/>
<circle cx="505.10" cy="710.82" r="1.55" fill="#ff0000"/>
<circle cx="510.38" cy="710.81" r="1.55" fill="#ff0000"/>
<circle cx="515.66" cy="710.81" r="1.55" fill="#ff0000"/>
<circle cx="520.93" cy="710.80" r="1.55" fill="#ff0000"/>
<circle cx="526.21" cy="710.79" r="1.55" fill="#ff0000"/>
<circle cx="531.48" cy="710.78" r="1.55" fill="#ff0000"/>
<circle cx="536.76" cy="710.78" r="1.55" fill="#ff0000"/>
<circle cx="542.04" cy="710.77" r="1.55" fill="#ff0000"/>
<circle cx="547.31" cy="710.76" r="1.55" fill="#ff0000"/>
<circle cx="552.59" cy="710.75" r="1.55" fill="#ff0000"/>
<circle cx="557.87" cy="710.74" r="1.55" fill="#ff0000"/>
<circle cx="563.14" cy="710.73" r="1.55" fill="#ff0000"/>
<circle cx="568.42" cy="710.71" r="1.55" fill="#ff0000"/>
<circle cx="573.69" cy="710.70" r="1.55" fill="#ff0000"/>
<circle cx="578.97" cy="710.68" r="1.55" fill="#ff0000"/>
<circle cx="584.25" cy="710.67" r="1.55" fill="#ff0000"/>
<circle cx="589.52" cy="710.65" r="1.55" fill="#ff0000"/>
<circle cx="594.80" cy="710.63" r="1.55" fill="#ff0000"/>
<circle cx="600.08" cy="710.60" r="1.55" fill="#ff0000"/>
<circle cx="605.35" cy="710.55" r="1.55" fill="#ff0000"/>
<circle cx="610.63" cy="710.48" r="1.55" fill="#ff0000"/>
<circle cx="615.90" cy="710.40" r="1.55" fill="#ff0000"/>
<circle cx="621.18" cy="710.31" r="1.55" fill="#ff0000"/>
<circle cx="626.46" cy="710.20" r="1.55" fill="#ff0000"/>
<circle cx="631.73" cy="710.09" r="1.55" fill="#ff0000"/>
<circle cx="637.01" cy="709.97" r="1.55" fill="#ff0000"/>
<circle cx="642.29" cy="709.84" r="1.55" fill="#ff0000"/>
<circle cx="647.56" cy="709.71" r="1.55" fill="#ff0000"/>
<circle cx="652.84" cy="709.54" r="1.55" fill="#ff0000"/>
<circle cx="658.11" cy="709.34" r="1.55" fill="#ff0000"/>
<circle cx="663.39" cy="709.11" r="1.55" fill="#ff0000"/>
<circle cx="668.67" cy="708.87" r="1.55" fill="#ff0000"/>
<circle cx="673.94" cy="708.62" r="1.55" fill="#ff0000"/>
<circle cx="679.22" cy="708.37" r="1.55" fill="#ff0000"/>
<circle cx="684.50" cy="708.12" r="1.55" fill="#ff0000"/>
<circle cx="689.77" cy="707.89" r="1.55" fill="#ff0000"/>
<path d="M457.62 699.78L462.89 699.71L468.17 699.65L473.45 699.60L478.72 699.54L484.00 699.49L489.27 699.44L494.55 699.39L499.83 699.34L505.10 699.28L510.38 699.22L515.66 699.16L520.93 699.09L526.21 699.00L531.48 698.91L536.76 698.81L542.04 698.70L547.31 698.56L552.59 698.34L557.87 698.04L563.14 697.68L568.42 697.26L573.69 696.80L578.97 696.32L584.25 695.83L589.52 695.33L594.80 694.86L600.08 694.38L605.35 693.88L610.63 693.36L615.90 692.81L621.18 692.23L626.46 691.62L631.73 690.98L637.01 690.33L642.29 689.55L647.56 688.49L652.84 686.92L658.11 684.98L663.39 682.90L668.67 680.88L673.94 679.03L679.22 677.20L684.50 675.36L689.77 673.53" fill="none" stroke="#4040e0" stroke-width="0.7"/>
<path d="M457.62 697.93L459.47 699.78L457.62 701.63L455.77 699.78Z" fill="#0000ff"/>
<path d="M462.89 697.86L464.74 699.71L462.89 701.56L461.04 699.71Z" fill="#0000ff"/>
<path d="M468.17 697.80L470.02 699.65L468.17 701.50L466.32 699.65Z" fill="#0000ff"/>
<path d="M473.45 697.75L475.30 699.60L473.45 701.45L471.60 699.60Z" fill="#0000ff"/>
<path d="M478.72 697.69L480.57 699.54L478.72 701.39L476.87 699.54Z" fill="#0000ff"/>
<path d="M484.00 697.64L485.85 699.49L484.00 701.34L482.15 699.49Z" fill="#0000ff"/>
<path d="M489.27 697.59L491.12 699.44L489.27 701.29L487.42 699.44Z" fill="#0000ff"/>
<path d="M494.55 697.54L496.40 699.39L494.55 701.24L492.70 699.39Z" fill="#0000ff"/>
<path d="M499.83 697.49L501.68 699.34L499.83 701.19L497.98 699.34Z" fill="#0000ff"/>
<path d="M505.10 697.43L506.95 699.28L505.10 701.13L503.25 699.28Z" fill="#0000ff"/>
<path d="M510.38 697.37L512.23 699.22L510.38 701.07L508.53 699.22Z" fill="#0000ff"/>
<path d="M515.66 697.31L517.51 699.16L515.66 701.01L513.81 699.16Z" fill="#0000ff"/>
<path d="M520.93 697.24L522.78 699.09L520.93 700.94L519.08 699.09Z" fill="#0000ff"/>
<path d="M526.21 697.15L528.06 699.00L526.21 700.85L524.36 699.00Z" fill="#0000ff"/>
<path d="M531.48 697.06L533.33 698.91L531.48 700.76L529.63 698.91Z" fill="#0000ff"/>
<path d="M536.76 696.96L538.61 698.81L536.76 700.66L534.91 698.81Z" fill="#0000ff"/>
<path d="M542.04 696.85L543.89 698.70L542.04 700.55L540.19 698.70Z" fill="#0000ff"/>
<path d="M547.31 696.71L549.16 698.56L547.31 700.41L545.46 698.56Z" fill="#0000ff"/>
<path d="M552.59 696.49L554.44 698.34L552.59 700.19L550.74 698.34Z" fill="#0000ff"/>
<path d="M557.87 696.19L559.72 698.04L557.87 699.89L556.02 698.04Z" fill="#0000ff"/>
<path d="M563.14 695.83L564.99 697.68L563.14 699.53L561.29 697.68Z" fill="#0000ff"/>
<path d="M568.42 695.41L570.27 697.26L568.42 699.11L566.57 697.26Z" fill="#0000ff"/>
<path d="M573.69 694.95L575.54 696.80L573.69 698.65L571.84 696.80Z" fill="#0000ff"/>
<path d="M578.97 694.47L580.82 696.32L578.97 698.17L577.12 696.32Z" fill="#0000ff"/>
<path d="M584.25 693.98L586.10 695.83L584.25 697.68L582.40 695.83Z" fill="#0000ff"/>
<path d="M589.52 693.48L591.37 695.33L589.52 697.18L587.67 695.33Z" fill="#0000ff"/>
<path d="M594.80 693.01L596.65 694.86L594.80 696.71L592.95 694.86Z" fill="#0000ff"/>
<path d="M600.08 692.53L601.93 694.38L600.08 696.23L598.23 694.38Z" fill="#0000ff"/>
<path d="M605.35 692.03L607.20 693.88L605.35 695.73L603.50 693.88Z" fill="#0000ff"/>
<path d="M610.63 691.51L612.48 693.36L610.63 695.21L608.78 693.36Z" fill="#0000ff"/>
<path d="M615.90 690.96L617.75 692.81L615.90 694.66L614.05 692.81Z" fill="#0000ff"/>
<path d="M621.18 690.38L623.03 692.23L621.18 694.08L619.33 692.23Z" fill="#0000ff"/>
<path d="M626.46 689.77L628.31 691.62L626.46 693.47L624.61 691.62Z" fill="#0000ff"/>
<path d="M631.73 689.13L633.58 690.98L631.73 692.83L629.88 690.98Z" fill="#0000ff"/>
<path d="M637.01 688.48L638.86 690.33L637.01 692.18L635.16 690.33Z" fill="#0000ff"/>
<path d="M642.29 687.70L644.14 689.55L642.29 691.40L640.44 689.55Z" fill="#0000ff"/>
<path d="M647.56 686.64L649.41 688.49L647.56 690.34L645.71 688.49Z" fill="#0000ff"/>
<path d="M652.84 685.07L654.69 686.92L652.84 688.77L650.99 686.92Z" fill="#0000ff"/>
<path d="M658.11 683.13L659.96 684.98L658.11 686.83L656.26 684.98Z" fill="#0000ff"/>
<path d="M663.39 681.05L665.24 682.90L663.39 684.75L661.54 682.90Z" fill="#0000ff"/>
<path d="M668.67 679.03L670.52 680.88L668.67 682.73L666.82 680.88Z" fill="#0000ff"/>
<path d="M673.94 677.18L675.79 679.03L673.94 680.88L672.09 679.03Z" fill="#0000ff"/>
<path d="M679.22 675.35L681.07 677.20L679.22 679.05L677.37 677.20Z" fill="#0000ff"/>
<path d="M684.50 673.51L686.35 675.36L684.50 677.21L682.65 675.36Z" fill="#0000ff"/>
<path d="M689.77 671.68L691.62 673.53L689.77 675.38L687.92 673.53Z" fill="#0000ff"/>
<path d="M651.4 587.4H659.3499999999999M667.3499999999999 587.4H675.3" stroke="#505050" stroke-width="0.7"/>
<rect x="661.95" y="586.00" width="2.80" height="2.80" fill="#000000"/>
<text x="678.3" y="590.9" font-size="10">R<tspan font-size="6.5" dy="3.9">CN</tspan></text>
<path d="M651.4 603.7H659.3499999999999M667.3499999999999 603.7H675.3" stroke="#f06060" stroke-width="0.7"/>
<circle cx="663.35" cy="603.70" r="1.55" fill="#ff0000"/>
<text x="678.3" y="607.2" font-size="10">R<tspan font-size="6.5" dy="3.9">CH</tspan></text>
<path d="M651.4 620H659.3499999999999M667.3499999999999 620H675.3" stroke="#60e060" stroke-width="0.7"/>
<path d="M663.35 618.00L665.35 621.50L661.35 621.50Z" fill="#00ee00"/>
<text x="678.3" y="623.5" font-size="10">R<tspan font-size="6.5" dy="3.9">NH'</tspan></text>
<path d="M651.4 636.3H659.3499999999999M667.3499999999999 636.3H675.3" stroke="#4040e0" stroke-width="0.7"/>
<path d="M663.35 634.45L665.20 636.30L663.35 638.15L661.50 636.30Z" fill="#0000ff"/>
<text x="678.3" y="639.8" font-size="10">&#952;<tspan font-size="6.5" dy="3.9">CNH'</tspan></text>
<path d="M651.4 652.6H659.3499999999999M667.3499999999999 652.6H675.3" stroke="#60e8e8" stroke-width="0.7"/>
<circle cx="663.35" cy="652.60" r="1.85" fill="#00f0f0"/>
<text x="678.3" y="656.1" font-size="10">&#952;<tspan font-size="6.5" dy="3.9">CNH</tspan></text>
<text x="692.90" y="538.30" font-size="14" text-anchor="start" >(f)</text>
<path d="M436.3 662.2L457.1 661.4" stroke="#808080" stroke-width="1.6"/>
<path d="M457.1 661.4L479 661.4" stroke="#b8b8b8" stroke-width="2.8"/><path d="M457.1 661.4L479 661.4" stroke="#9a9a9a" stroke-width="0.8"/>
<circle cx="436.3" cy="662.2" r="5.5" fill="url(#gHul)"/>
<circle cx="457.1" cy="661.4" r="8" fill="url(#gCul)"/>
<circle cx="479.0" cy="661.4" r="8" fill="url(#gNul)"/>
<text x="434.50" y="642.30" font-size="10.2" text-anchor="start" >H</text>
<path d="M442.85 634.58L444.25 634.58L442.75 637.28L442.05 637.28Z" fill="#111"/>
<text x="447.10" y="642.30" font-size="10.2" text-anchor="start" >+</text>
<path d="M618.8 579.9L596.7 597.5" stroke="#6c6c6c" stroke-width="1.15" stroke-dasharray="2.2 2"/>
<path d="M596.7 597.5L598.7 618" stroke="#b8b8b8" stroke-width="2.8"/><path d="M596.7 597.5L598.7 618" stroke="#9a9a9a" stroke-width="0.8"/>
<path d="M598.7 618L603.7 635.5" stroke="#808080" stroke-width="1.6"/>
<circle cx="618.8" cy="579.9" r="5.3" fill="url(#gHur)"/>
<circle cx="596.7" cy="597.5" r="7.5" fill="url(#gNur)"/>
<circle cx="598.7" cy="618.0" r="7.5" fill="url(#gCur)"/>
<circle cx="603.7" cy="635.5" r="5" fill="url(#gHur)"/>
<text x="609.00" y="573.30" font-size="10.2" text-anchor="start" >H</text>
<path d="M617.35 565.58L618.75 565.58L617.25 568.28L616.55 568.28Z" fill="#111"/>
<path d="M697.2 687.3L711.2 695.8" stroke="#808080" stroke-width="1.6"/>
<path d="M709.8 695.8L709.8 715.4M712.6 695.8L712.6 715.4" stroke="#a0a0a0" stroke-width="1.2"/>
<path d="M711.2 715.4L699.2 726.7" stroke="#808080" stroke-width="1.6"/>
<circle cx="697.2" cy="687.3" r="5" fill="url(#gHul)"/>
<circle cx="711.2" cy="695.8" r="7.5" fill="url(#gNul)"/>
<circle cx="711.2" cy="715.4" r="8" fill="url(#gCul)"/>
<circle cx="699.2" cy="726.7" r="5" fill="url(#gHul)"/>
<text x="695.40" y="678.80" font-size="10.2" text-anchor="start" >H</text>
<path d="M703.75 671.08L705.15 671.08L703.65 673.78L702.95 673.78Z" fill="#111"/>
<path d="M213.3 788.3H510.6V1009H213.3Z" fill="none" stroke="#4a4a4a" stroke-width="1.2"/>
<path d="M213.50 1009v4.5M267.95 1009v4.5M322.40 1009v4.5M376.85 1009v4.5M431.30 1009v4.5M485.75 1009v4.5M240.72 1009v2.5M295.18 1009v2.5M349.62 1009v2.5M404.07 1009v2.5M458.53 1009v2.5M213.3 980.20h-5M213.3 932.25h-5M213.3 884.30h-5M213.3 836.35h-5M213.3 788.40h-5M213.3 956.23h-2.5M213.3 908.28h-2.5M213.3 860.33h-2.5M213.3 812.38h-2.5M510.6 1008.70h-4.5M510.6 964.70h-4.5M510.6 920.70h-4.5M510.6 876.70h-4.5M510.6 832.70h-4.5M510.6 788.70h-4.5M510.6 986.70h-2.5M510.6 942.70h-2.5M510.6 898.70h-2.5M510.6 854.70h-2.5M510.6 810.70h-2.5" fill="none" stroke="#404040" stroke-width="1.0"/>
<text x="213.50" y="1023.20" font-size="8.5" text-anchor="middle" >-4</text>
<text x="267.95" y="1023.20" font-size="8.5" text-anchor="middle" >-3</text>
<text x="322.40" y="1023.20" font-size="8.5" text-anchor="middle" >-2</text>
<text x="376.85" y="1023.20" font-size="8.5" text-anchor="middle" >-1</text>
<text x="431.30" y="1023.20" font-size="8.5" text-anchor="middle" >0</text>
<text x="485.75" y="1023.20" font-size="8.5" text-anchor="middle" >1</text>
<text x="205.80" y="982.50" font-size="8.5" text-anchor="end" >1,0</text>
<text x="205.80" y="934.55" font-size="8.5" text-anchor="end" >1,5</text>
<text x="205.80" y="886.60" font-size="8.5" text-anchor="end" >2,0</text>
<text x="205.80" y="838.65" font-size="8.5" text-anchor="end" >2,5</text>
<text x="205.80" y="790.70" font-size="8.5" text-anchor="end" >3,0</text>
<text x="516.10" y="1011.00" font-size="8.5" text-anchor="start" >100</text>
<text x="516.10" y="967.00" font-size="8.5" text-anchor="start" >120</text>
<text x="516.10" y="923.00" font-size="8.5" text-anchor="start" >140</text>
<text x="516.10" y="879.00" font-size="8.5" text-anchor="start" >160</text>
<text x="516.10" y="835.00" font-size="8.5" text-anchor="start" >180</text>
<text x="516.10" y="791.00" font-size="8.5" text-anchor="start" >200</text>
<text transform="translate(187,905.4) rotate(-90)" font-size="10.5" text-anchor="middle">Distance (&#197;)</text>
<text transform="translate(543,898.5) rotate(-90)" font-size="10.6" text-anchor="middle">Angle (degree)</text>
<text x="362.7" y="1039.8" font-size="10.5" text-anchor="middle">Reaction Coordinate (&#956;<tspan font-size="5.2" dx="1.6" dy="-4.6">1/2</tspan><tspan dx="0.6" dy="4.6">a</tspan><tspan font-size="5.2" dy="3.4">0</tspan><tspan dy="-3.4">)</tspan></text>
<path d="M246.71 954.80L252.26 947.19L257.81 939.58L263.36 931.97L268.91 924.36L274.46 916.74L280.01 909.13L285.56 901.52L291.11 893.91L296.66 886.30L302.20 878.69L307.75 871.08L313.30 863.47L318.85 856.69L324.40 852.89L329.95 851.63L335.50 850.37L341.05 849.14L346.60 847.93L352.14 846.72L357.69 845.51L363.24 844.30L368.79 843.09L374.34 841.88L379.89 840.67L385.44 839.90L390.99 839.16L396.54 838.41L402.09 837.93L407.63 837.44L413.18 836.96L418.73 836.47L424.28 835.99L429.83 835.50L435.38 835.01L440.93 834.53L446.48 834.04L452.03 833.76L457.57 833.67L463.12 833.58L468.67 833.49L474.22 833.40L479.77 833.32L485.32 833.23L490.87 833.14" fill="none" stroke="#60e8e8" stroke-width="0.7"/>
<circle cx="246.71" cy="954.80" r="1.85" fill="#00f0f0"/>
<circle cx="252.26" cy="947.19" r="1.85" fill="#00f0f0"/>
<circle cx="257.81" cy="939.58" r="1.85" fill="#00f0f0"/>
<circle cx="263.36" cy="931.97" r="1.85" fill="#00f0f0"/>
<circle cx="268.91" cy="924.36" r="1.85" fill="#00f0f0"/>
<circle cx="274.46" cy="916.74" r="1.85" fill="#00f0f0"/>
<circle cx="280.01" cy="909.13" r="1.85" fill="#00f0f0"/>
<circle cx="285.56" cy="901.52" r="1.85" fill="#00f0f0"/>
<circle cx="291.11" cy="893.91" r="1.85" fill="#00f0f0"/>
<circle cx="296.66" cy="886.30" r="1.85" fill="#00f0f0"/>
<circle cx="302.20" cy="878.69" r="1.85" fill="#00f0f0"/>
<circle cx="307.75" cy="871.08" r="1.85" fill="#00f0f0"/>
<circle cx="313.30" cy="863.47" r="1.85" fill="#00f0f0"/>
<circle cx="318.85" cy="856.69" r="1.85" fill="#00f0f0"/>
<circle cx="324.40" cy="852.89" r="1.85" fill="#00f0f0"/>
<circle cx="329.95" cy="851.63" r="1.85" fill="#00f0f0"/>
<circle cx="335.50" cy="850.37" r="1.85" fill="#00f0f0"/>
<circle cx="341.05" cy="849.14" r="1.85" fill="#00f0f0"/>
<circle cx="346.60" cy="847.93" r="1.85" fill="#00f0f0"/>
<circle cx="352.14" cy="846.72" r="1.85" fill="#00f0f0"/>
<circle cx="357.69" cy="845.51" r="1.85" fill="#00f0f0"/>
<circle cx="363.24" cy="844.30" r="1.85" fill="#00f0f0"/>
<circle cx="368.79" cy="843.09" r="1.85" fill="#00f0f0"/>
<circle cx="374.34" cy="841.88" r="1.85" fill="#00f0f0"/>
<circle cx="379.89" cy="840.67" r="1.85" fill="#00f0f0"/>
<circle cx="385.44" cy="839.90" r="1.85" fill="#00f0f0"/>
<circle cx="390.99" cy="839.16" r="1.85" fill="#00f0f0"/>
<circle cx="396.54" cy="838.41" r="1.85" fill="#00f0f0"/>
<circle cx="402.09" cy="837.93" r="1.85" fill="#00f0f0"/>
<circle cx="407.63" cy="837.44" r="1.85" fill="#00f0f0"/>
<circle cx="413.18" cy="836.96" r="1.85" fill="#00f0f0"/>
<circle cx="418.73" cy="836.47" r="1.85" fill="#00f0f0"/>
<circle cx="424.28" cy="835.99" r="1.85" fill="#00f0f0"/>
<circle cx="429.83" cy="835.50" r="1.85" fill="#00f0f0"/>
<circle cx="435.38" cy="835.01" r="1.85" fill="#00f0f0"/>
<circle cx="440.93" cy="834.53" r="1.85" fill="#00f0f0"/>
<circle cx="446.48" cy="834.04" r="1.85" fill="#00f0f0"/>
<circle cx="452.03" cy="833.76" r="1.85" fill="#00f0f0"/>
<circle cx="457.57" cy="833.67" r="1.85" fill="#00f0f0"/>
<circle cx="463.12" cy="833.58" r="1.85" fill="#00f0f0"/>
<circle cx="468.67" cy="833.49" r="1.85" fill="#00f0f0"/>
<circle cx="474.22" cy="833.40" r="1.85" fill="#00f0f0"/>
<circle cx="479.77" cy="833.32" r="1.85" fill="#00f0f0"/>
<circle cx="485.32" cy="833.23" r="1.85" fill="#00f0f0"/>
<circle cx="490.87" cy="833.14" r="1.85" fill="#00f0f0"/>
<path d="M246.71 970.90L252.26 970.81L257.81 970.72L263.36 970.63L268.91 970.55L274.46 970.46L280.01 970.37L285.56 970.28L291.11 970.19L296.66 970.03L302.20 969.64L307.75 969.24L313.30 968.36L318.85 965.78L324.40 961.21L329.95 955.63L335.50 950.06L341.05 944.62L346.60 939.18L352.14 933.75L357.69 928.31L363.24 922.87L368.79 917.43L374.34 912.00L379.89 906.57L385.44 901.23L390.99 895.89L396.54 890.55L402.09 885.22L407.63 879.88L413.18 874.54L418.73 869.20L424.28 863.86L429.83 858.53L435.38 853.19L440.93 847.85L446.48 842.51L452.03 837.18L457.57 831.84L463.12 826.50L468.67 821.16L474.22 815.83L479.77 810.49L485.32 805.15L490.87 799.81" fill="none" stroke="#505050" stroke-width="0.7"/>
<rect x="245.31" y="969.50" width="2.80" height="2.80" fill="#000000"/>
<rect x="250.86" y="969.41" width="2.80" height="2.80" fill="#000000"/>
<rect x="256.41" y="969.32" width="2.80" height="2.80" fill="#000000"/>
<rect x="261.96" y="969.23" width="2.80" height="2.80" fill="#000000"/>
<rect x="267.51" y="969.15" width="2.80" height="2.80" fill="#000000"/>
<rect x="273.06" y="969.06" width="2.80" height="2.80" fill="#000000"/>
<rect x="278.61" y="968.97" width="2.80" height="2.80" fill="#000000"/>
<rect x="284.16" y="968.88" width="2.80" height="2.80" fill="#000000"/>
<rect x="289.71" y="968.79" width="2.80" height="2.80" fill="#000000"/>
<rect x="295.26" y="968.63" width="2.80" height="2.80" fill="#000000"/>
<rect x="300.80" y="968.24" width="2.80" height="2.80" fill="#000000"/>
<rect x="306.35" y="967.84" width="2.80" height="2.80" fill="#000000"/>
<rect x="311.90" y="966.96" width="2.80" height="2.80" fill="#000000"/>
<rect x="317.45" y="964.38" width="2.80" height="2.80" fill="#000000"/>
<rect x="323.00" y="959.81" width="2.80" height="2.80" fill="#000000"/>
<rect x="328.55" y="954.23" width="2.80" height="2.80" fill="#000000"/>
<rect x="334.10" y="948.66" width="2.80" height="2.80" fill="#000000"/>
<rect x="339.65" y="943.22" width="2.80" height="2.80" fill="#000000"/>
<rect x="345.20" y="937.78" width="2.80" height="2.80" fill="#000000"/>
<rect x="350.74" y="932.35" width="2.80" height="2.80" fill="#000000"/>
<rect x="356.29" y="926.91" width="2.80" height="2.80" fill="#000000"/>
<rect x="361.84" y="921.47" width="2.80" height="2.80" fill="#000000"/>
<rect x="367.39" y="916.03" width="2.80" height="2.80" fill="#000000"/>
<rect x="372.94" y="910.60" width="2.80" height="2.80" fill="#000000"/>
<rect x="378.49" y="905.17" width="2.80" height="2.80" fill="#000000"/>
<rect x="384.04" y="899.83" width="2.80" height="2.80" fill="#000000"/>
<rect x="389.59" y="894.49" width="2.80" height="2.80" fill="#000000"/>
<rect x="395.14" y="889.15" width="2.80" height="2.80" fill="#000000"/>
<rect x="400.69" y="883.82" width="2.80" height="2.80" fill="#000000"/>
<rect x="406.23" y="878.48" width="2.80" height="2.80" fill="#000000"/>
<rect x="411.78" y="873.14" width="2.80" height="2.80" fill="#000000"/>
<rect x="417.33" y="867.80" width="2.80" height="2.80" fill="#000000"/>
<rect x="422.88" y="862.46" width="2.80" height="2.80" fill="#000000"/>
<rect x="428.43" y="857.13" width="2.80" height="2.80" fill="#000000"/>
<rect x="433.98" y="851.79" width="2.80" height="2.80" fill="#000000"/>
<rect x="439.53" y="846.45" width="2.80" height="2.80" fill="#000000"/>
<rect x="445.08" y="841.11" width="2.80" height="2.80" fill="#000000"/>
<rect x="450.63" y="835.78" width="2.80" height="2.80" fill="#000000"/>
<rect x="456.17" y="830.44" width="2.80" height="2.80" fill="#000000"/>
<rect x="461.72" y="825.10" width="2.80" height="2.80" fill="#000000"/>
<rect x="467.27" y="819.76" width="2.80" height="2.80" fill="#000000"/>
<rect x="472.82" y="814.43" width="2.80" height="2.80" fill="#000000"/>
<rect x="478.37" y="809.09" width="2.80" height="2.80" fill="#000000"/>
<rect x="483.92" y="803.75" width="2.80" height="2.80" fill="#000000"/>
<rect x="489.47" y="798.41" width="2.80" height="2.80" fill="#000000"/>
<path d="M278.84 978.76L284.42 978.92L290.00 979.10L295.58 979.29L301.16 979.48L306.74 979.64L312.32 979.78L317.90 979.87L323.48 979.92L329.06 979.94L334.64 979.96L340.22 979.97L345.80 979.99L351.38 980.00L356.96 980.02L362.54 980.03L368.12 980.04L373.69 980.05L379.27 980.06L384.85 980.07L390.43 980.08L396.01 980.09L401.59 980.10L407.17 980.10L412.75 980.11L418.33 980.11L423.91 980.12L429.49 980.13L435.07 980.13L440.65 980.14L446.23 980.14L451.81 980.15L457.39 980.15L462.97 980.16L468.55 980.17L474.13 980.17L479.71 980.18L485.29 980.19L490.87 980.20" fill="none" stroke="#f06060" stroke-width="0.7"/>
<circle cx="278.84" cy="978.76" r="1.55" fill="#ff0000"/>
<circle cx="284.42" cy="978.92" r="1.55" fill="#ff0000"/>
<circle cx="290.00" cy="979.10" r="1.55" fill="#ff0000"/>
<circle cx="295.58" cy="979.29" r="1.55" fill="#ff0000"/>
<circle cx="301.16" cy="979.48" r="1.55" fill="#ff0000"/>
<circle cx="306.74" cy="979.64" r="1.55" fill="#ff0000"/>
<circle cx="312.32" cy="979.78" r="1.55" fill="#ff0000"/>
<circle cx="317.90" cy="979.87" r="1.55" fill="#ff0000"/>
<circle cx="323.48" cy="979.92" r="1.55" fill="#ff0000"/>
<circle cx="329.06" cy="979.94" r="1.55" fill="#ff0000"/>
<circle cx="334.64" cy="979.96" r="1.55" fill="#ff0000"/>
<circle cx="340.22" cy="979.97" r="1.55" fill="#ff0000"/>
<circle cx="345.80" cy="979.99" r="1.55" fill="#ff0000"/>
<circle cx="351.38" cy="980.00" r="1.55" fill="#ff0000"/>
<circle cx="356.96" cy="980.02" r="1.55" fill="#ff0000"/>
<circle cx="362.54" cy="980.03" r="1.55" fill="#ff0000"/>
<circle cx="368.12" cy="980.04" r="1.55" fill="#ff0000"/>
<circle cx="373.69" cy="980.05" r="1.55" fill="#ff0000"/>
<circle cx="379.27" cy="980.06" r="1.55" fill="#ff0000"/>
<circle cx="384.85" cy="980.07" r="1.55" fill="#ff0000"/>
<circle cx="390.43" cy="980.08" r="1.55" fill="#ff0000"/>
<circle cx="396.01" cy="980.09" r="1.55" fill="#ff0000"/>
<circle cx="401.59" cy="980.10" r="1.55" fill="#ff0000"/>
<circle cx="407.17" cy="980.10" r="1.55" fill="#ff0000"/>
<circle cx="412.75" cy="980.11" r="1.55" fill="#ff0000"/>
<circle cx="418.33" cy="980.11" r="1.55" fill="#ff0000"/>
<circle cx="423.91" cy="980.12" r="1.55" fill="#ff0000"/>
<circle cx="429.49" cy="980.13" r="1.55" fill="#ff0000"/>
<circle cx="435.07" cy="980.13" r="1.55" fill="#ff0000"/>
<circle cx="440.65" cy="980.14" r="1.55" fill="#ff0000"/>
<circle cx="446.23" cy="980.14" r="1.55" fill="#ff0000"/>
<circle cx="451.81" cy="980.15" r="1.55" fill="#ff0000"/>
<circle cx="457.39" cy="980.15" r="1.55" fill="#ff0000"/>
<circle cx="462.97" cy="980.16" r="1.55" fill="#ff0000"/>
<circle cx="468.55" cy="980.17" r="1.55" fill="#ff0000"/>
<circle cx="474.13" cy="980.17" r="1.55" fill="#ff0000"/>
<circle cx="479.71" cy="980.18" r="1.55" fill="#ff0000"/>
<circle cx="485.29" cy="980.19" r="1.55" fill="#ff0000"/>
<circle cx="490.87" cy="980.20" r="1.55" fill="#ff0000"/>
<path d="M246.71 959.49L252.26 959.56L257.81 959.63L263.36 959.70L268.91 959.76L274.46 959.83L280.01 959.90L285.56 959.96L291.11 960.03L296.66 960.11L302.20 960.19L307.75 960.27L313.30 960.37L318.85 960.47L324.40 960.58L329.95 960.73L335.50 960.91L341.05 961.11L346.60 961.33L352.14 961.55L357.69 961.78L363.24 962.00L368.79 962.20L374.34 962.39L379.89 962.54L385.44 962.70L390.99 962.86L396.54 963.02L402.09 963.16L407.63 963.30L413.18 963.43L418.73 963.54L424.28 963.63L429.83 963.69L435.38 963.74L440.93 963.77L446.48 963.81L452.03 963.83L457.57 963.86L463.12 963.88L468.67 963.90L474.22 963.92L479.77 963.94L485.32 963.97L490.87 963.99" fill="none" stroke="#60e060" stroke-width="0.7"/>
<path d="M246.71 957.49L248.71 960.99L244.71 960.99Z" fill="#00ee00"/>
<path d="M252.26 957.56L254.26 961.06L250.26 961.06Z" fill="#00ee00"/>
<path d="M257.81 957.63L259.81 961.13L255.81 961.13Z" fill="#00ee00"/>
<path d="M263.36 957.70L265.36 961.20L261.36 961.20Z" fill="#00ee00"/>
<path d="M268.91 957.76L270.91 961.26L266.91 961.26Z" fill="#00ee00"/>
<path d="M274.46 957.83L276.46 961.33L272.46 961.33Z" fill="#00ee00"/>
<path d="M280.01 957.90L282.01 961.40L278.01 961.40Z" fill="#00ee00"/>
<path d="M285.56 957.96L287.56 961.46L283.56 961.46Z" fill="#00ee00"/>
<path d="M291.11 958.03L293.11 961.53L289.11 961.53Z" fill="#00ee00"/>
<path d="M296.66 958.11L298.66 961.61L294.66 961.61Z" fill="#00ee00"/>
<path d="M302.20 958.19L304.20 961.69L300.20 961.69Z" fill="#00ee00"/>
<path d="M307.75 958.27L309.75 961.77L305.75 961.77Z" fill="#00ee00"/>
<path d="M313.30 958.37L315.30 961.87L311.30 961.87Z" fill="#00ee00"/>
<path d="M318.85 958.47L320.85 961.97L316.85 961.97Z" fill="#00ee00"/>
<path d="M324.40 958.58L326.40 962.08L322.40 962.08Z" fill="#00ee00"/>
<path d="M329.95 958.73L331.95 962.23L327.95 962.23Z" fill="#00ee00"/>
<path d="M335.50 958.91L337.50 962.41L333.50 962.41Z" fill="#00ee00"/>
<path d="M341.05 959.11L343.05 962.61L339.05 962.61Z" fill="#00ee00"/>
<path d="M346.60 959.33L348.60 962.83L344.60 962.83Z" fill="#00ee00"/>
<path d="M352.14 959.55L354.14 963.05L350.14 963.05Z" fill="#00ee00"/>
<path d="M357.69 959.78L359.69 963.28L355.69 963.28Z" fill="#00ee00"/>
<path d="M363.24 960.00L365.24 963.50L361.24 963.50Z" fill="#00ee00"/>
<path d="M368.79 960.20L370.79 963.70L366.79 963.70Z" fill="#00ee00"/>
<path d="M374.34 960.39L376.34 963.89L372.34 963.89Z" fill="#00ee00"/>
<path d="M379.89 960.54L381.89 964.04L377.89 964.04Z" fill="#00ee00"/>
<path d="M385.44 960.70L387.44 964.20L383.44 964.20Z" fill="#00ee00"/>
<path d="M390.99 960.86L392.99 964.36L388.99 964.36Z" fill="#00ee00"/>
<path d="M396.54 961.02L398.54 964.52L394.54 964.52Z" fill="#00ee00"/>
<path d="M402.09 961.16L404.09 964.66L400.09 964.66Z" fill="#00ee00"/>
<path d="M407.63 961.30L409.63 964.80L405.63 964.80Z" fill="#00ee00"/>
<path d="M413.18 961.43L415.18 964.93L411.18 964.93Z" fill="#00ee00"/>
<path d="M418.73 961.54L420.73 965.04L416.73 965.04Z" fill="#00ee00"/>
<path d="M424.28 961.63L426.28 965.13L422.28 965.13Z" fill="#00ee00"/>
<path d="M429.83 961.69L431.83 965.19L427.83 965.19Z" fill="#00ee00"/>
<path d="M435.38 961.74L437.38 965.24L433.38 965.24Z" fill="#00ee00"/>
<path d="M440.93 961.77L442.93 965.27L438.93 965.27Z" fill="#00ee00"/>
<path d="M446.48 961.81L448.48 965.31L444.48 965.31Z" fill="#00ee00"/>
<path d="M452.03 961.83L454.03 965.33L450.03 965.33Z" fill="#00ee00"/>
<path d="M457.57 961.86L459.57 965.36L455.57 965.36Z" fill="#00ee00"/>
<path d="M463.12 961.88L465.12 965.38L461.12 965.38Z" fill="#00ee00"/>
<path d="M468.67 961.90L470.67 965.40L466.67 965.40Z" fill="#00ee00"/>
<path d="M474.22 961.92L476.22 965.42L472.22 965.42Z" fill="#00ee00"/>
<path d="M479.77 961.94L481.77 965.44L477.77 965.44Z" fill="#00ee00"/>
<path d="M485.32 961.97L487.32 965.47L483.32 965.47Z" fill="#00ee00"/>
<path d="M490.87 961.99L492.87 965.49L488.87 965.49Z" fill="#00ee00"/>
<path d="M246.71 933.90L252.26 935.10L257.81 936.27L263.36 937.47L268.91 938.73L274.46 940.10L280.01 941.62L285.56 943.24L291.11 944.90L296.66 946.78L302.20 948.91L307.75 951.08L313.30 953.07L318.85 954.69L324.40 955.70L329.95 956.32L335.50 956.83L341.05 957.26L346.60 957.62L352.14 957.94L357.69 958.24L363.24 958.54L368.79 958.86L374.34 959.22L379.89 959.63L385.44 960.08L390.99 960.54L396.54 960.99L402.09 961.41L407.63 961.87L413.18 962.37L418.73 962.83L424.28 963.19L429.83 963.37L435.38 963.38L440.93 963.38L446.48 963.38L452.03 963.38L457.57 963.38L463.12 963.38L468.67 963.38L474.22 963.38L479.77 963.38L485.32 963.38L490.87 963.38" fill="none" stroke="#4040e0" stroke-width="0.7"/>
<path d="M246.71 932.05L248.56 933.90L246.71 935.75L244.86 933.90Z" fill="#0000ff"/>
<path d="M252.26 933.25L254.11 935.10L252.26 936.95L250.41 935.10Z" fill="#0000ff"/>
<path d="M257.81 934.42L259.66 936.27L257.81 938.12L255.96 936.27Z" fill="#0000ff"/>
<path d="M263.36 935.62L265.21 937.47L263.36 939.32L261.51 937.47Z" fill="#0000ff"/>
<path d="M268.91 936.88L270.76 938.73L268.91 940.58L267.06 938.73Z" fill="#0000ff"/>
<path d="M274.46 938.25L276.31 940.10L274.46 941.95L272.61 940.10Z" fill="#0000ff"/>
<path d="M280.01 939.77L281.86 941.62L280.01 943.47L278.16 941.62Z" fill="#0000ff"/>
<path d="M285.56 941.39L287.41 943.24L285.56 945.09L283.71 943.24Z" fill="#0000ff"/>
<path d="M291.11 943.05L292.96 944.90L291.11 946.75L289.26 944.90Z" fill="#0000ff"/>
<path d="M296.66 944.93L298.51 946.78L296.66 948.63L294.81 946.78Z" fill="#0000ff"/>
<path d="M302.20 947.06L304.05 948.91L302.20 950.76L300.35 948.91Z" fill="#0000ff"/>
<path d="M307.75 949.23L309.60 951.08L307.75 952.93L305.90 951.08Z" fill="#0000ff"/>
<path d="M313.30 951.22L315.15 953.07L313.30 954.92L311.45 953.07Z" fill="#0000ff"/>
<path d="M318.85 952.84L320.70 954.69L318.85 956.54L317.00 954.69Z" fill="#0000ff"/>
<path d="M324.40 953.85L326.25 955.70L324.40 957.55L322.55 955.70Z" fill="#0000ff"/>
<path d="M329.95 954.47L331.80 956.32L329.95 958.17L328.10 956.32Z" fill="#0000ff"/>
<path d="M335.50 954.98L337.35 956.83L335.50 958.68L333.65 956.83Z" fill="#0000ff"/>
<path d="M341.05 955.41L342.90 957.26L341.05 959.11L339.20 957.26Z" fill="#0000ff"/>
<path d="M346.60 955.77L348.45 957.62L346.60 959.47L344.75 957.62Z" fill="#0000ff"/>
<path d="M352.14 956.09L353.99 957.94L352.14 959.79L350.29 957.94Z" fill="#0000ff"/>
<path d="M357.69 956.39L359.54 958.24L357.69 960.09L355.84 958.24Z" fill="#0000ff"/>
<path d="M363.24 956.69L365.09 958.54L363.24 960.39L361.39 958.54Z" fill="#0000ff"/>
<path d="M368.79 957.01L370.64 958.86L368.79 960.71L366.94 958.86Z" fill="#0000ff"/>
<path d="M374.34 957.37L376.19 959.22L374.34 961.07L372.49 959.22Z" fill="#0000ff"/>
<path d="M379.89 957.78L381.74 959.63L379.89 961.48L378.04 959.63Z" fill="#0000ff"/>
<path d="M385.44 958.23L387.29 960.08L385.44 961.93L383.59 960.08Z" fill="#0000ff"/>
<path d="M390.99 958.69L392.84 960.54L390.99 962.39L389.14 960.54Z" fill="#0000ff"/>
<path d="M396.54 959.14L398.39 960.99L396.54 962.84L394.69 960.99Z" fill="#0000ff"/>
<path d="M402.09 959.56L403.94 961.41L402.09 963.26L400.24 961.41Z" fill="#0000ff"/>
<path d="M407.63 960.02L409.48 961.87L407.63 963.72L405.78 961.87Z" fill="#0000ff"/>
<path d="M413.18 960.52L415.03 962.37L413.18 964.22L411.33 962.37Z" fill="#0000ff"/>
<path d="M418.73 960.98L420.58 962.83L418.73 964.68L416.88 962.83Z" fill="#0000ff"/>
<path d="M424.28 961.34L426.13 963.19L424.28 965.04L422.43 963.19Z" fill="#0000ff"/>
<path d="M429.83 961.52L431.68 963.37L429.83 965.22L427.98 963.37Z" fill="#0000ff"/>
<path d="M435.38 961.53L437.23 963.38L435.38 965.23L433.53 963.38Z" fill="#0000ff"/>
<path d="M440.93 961.53L442.78 963.38L440.93 965.23L439.08 963.38Z" fill="#0000ff"/>
<path d="M446.48 961.53L448.33 963.38L446.48 965.23L444.63 963.38Z" fill="#0000ff"/>
<path d="M452.03 961.53L453.88 963.38L452.03 965.23L450.18 963.38Z" fill="#0000ff"/>
<path d="M457.57 961.53L459.42 963.38L457.57 965.23L455.72 963.38Z" fill="#0000ff"/>
<path d="M463.12 961.53L464.97 963.38L463.12 965.23L461.27 963.38Z" fill="#0000ff"/>
<path d="M468.67 961.53L470.52 963.38L468.67 965.23L466.82 963.38Z" fill="#0000ff"/>
<path d="M474.22 961.53L476.07 963.38L474.22 965.23L472.37 963.38Z" fill="#0000ff"/>
<path d="M479.77 961.53L481.62 963.38L479.77 965.23L477.92 963.38Z" fill="#0000ff"/>
<path d="M485.32 961.53L487.17 963.38L485.32 965.23L483.47 963.38Z" fill="#0000ff"/>
<path d="M490.87 961.53L492.72 963.38L490.87 965.23L489.02 963.38Z" fill="#0000ff"/>
<path d="M448 877.6H455.65M463.65 877.6H471.3" stroke="#505050" stroke-width="0.7"/>
<rect x="458.25" y="876.20" width="2.80" height="2.80" fill="#000000"/>
<text x="474.5" y="881.1" font-size="10">R<tspan font-size="6.5" dy="3.9">CH'</tspan></text>
<path d="M448 894.5H455.65M463.65 894.5H471.3" stroke="#f06060" stroke-width="0.7"/>
<circle cx="459.65" cy="894.50" r="1.55" fill="#ff0000"/>
<text x="474.5" y="898.0" font-size="10">R<tspan font-size="6.5" dy="3.9">NH</tspan></text>
<path d="M448 911.3H455.65M463.65 911.3H471.3" stroke="#60e060" stroke-width="0.7"/>
<path d="M459.65 909.30L461.65 912.80L457.65 912.80Z" fill="#00ee00"/>
<text x="474.5" y="914.8" font-size="10">R<tspan font-size="6.5" dy="3.9">CN</tspan></text>
<path d="M448 928.2H455.65M463.65 928.2H471.3" stroke="#4040e0" stroke-width="0.7"/>
<path d="M459.65 926.35L461.50 928.20L459.65 930.05L457.80 928.20Z" fill="#0000ff"/>
<text x="474.5" y="931.7" font-size="10">&#952;<tspan font-size="6.5" dy="3.9">NCH'</tspan></text>
<path d="M448 945H455.65M463.65 945H471.3" stroke="#60e8e8" stroke-width="0.7"/>
<circle cx="459.65" cy="945.00" r="1.85" fill="#00f0f0"/>
<text x="474.5" y="948.5" font-size="10">&#952;<tspan font-size="6.5" dy="3.9">CNH</tspan></text>
<text x="488" y="817.5" font-size="15.5" font-family="Liberation Serif, serif">(g)</text>
<path d="M439.8 906L402 904" stroke="#6c6c6c" stroke-width="1.15" stroke-dasharray="2.2 2"/>
<path d="M400.8 903.2L390.0 919.0M403.2 904.8L392.4 920.6" stroke="#a0a0a0" stroke-width="1.2"/>
<path d="M391.2 919.8L382.7 933.9" stroke="#808080" stroke-width="1.6"/>
<circle cx="439.8" cy="906.0" r="5.2" fill="url(#gHur)"/>
<circle cx="402.0" cy="904.0" r="7" fill="url(#gCur)"/>
<circle cx="391.2" cy="919.8" r="7.5" fill="url(#gNur)"/>
<circle cx="382.7" cy="933.9" r="5" fill="url(#gHur)"/>
<text x="433.50" y="922.30" font-size="10.2" text-anchor="start" >H</text>
<path d="M441.85 914.58L443.25 914.58L441.75 917.28L441.05 917.28Z" fill="#111"/>
<path d="M225.5 985.2L238.7 998.4" stroke="#808080" stroke-width="1.6"/>
<path d="M238.7 999.8L259.9 999.8M238.7 997.0L259.9 997.0" stroke="#a0a0a0" stroke-width="1.2"/>
<path d="M259.9 998.4L270 982.5" stroke="#808080" stroke-width="1.6"/>
<circle cx="225.5" cy="985.2" r="5" fill="url(#gHul)"/>
<circle cx="238.7" cy="998.4" r="7" fill="url(#gCul)"/>
<circle cx="259.9" cy="998.4" r="7.5" fill="url(#gNul)"/>
<circle cx="270.0" cy="982.5" r="5" fill="url(#gHul)"/>
<text x="221.80" y="978.80" font-size="10.2" text-anchor="start" >H</text>
<path d="M230.15 971.08L231.55 971.08L230.05 973.78L229.35 973.78Z" fill="#111"/>
<path d="M456 996.6L475.3 996.6" stroke="#808080" stroke-width="1.6"/>
<path d="M475.3 996.6L498.3 996.6" stroke="#b8b8b8" stroke-width="2.8"/><path d="M475.3 996.6L498.3 996.6" stroke="#9a9a9a" stroke-width="0.8"/>
<circle cx="456.0" cy="996.6" r="5.5" fill="url(#gHul)"/>
<circle cx="475.3" cy="996.6" r="8" fill="url(#gNul)"/>
<circle cx="498.3" cy="996.6" r="8" fill="url(#gCul)"/>
<text x="424.20" y="999.80" font-size="10.2" text-anchor="start" >H</text>
<path d="M432.55 992.08L433.95 992.08L432.45 994.78L431.75 994.78Z" fill="#111"/>
<text x="436.80" y="999.80" font-size="10.2" text-anchor="start" >+</text>
</svg></body></html>
